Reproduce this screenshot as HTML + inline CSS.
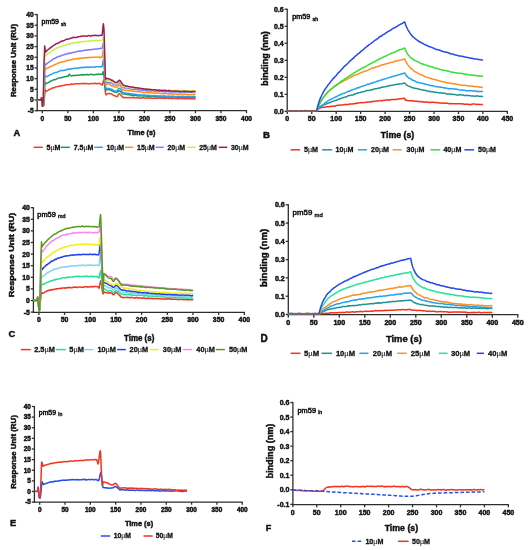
<!DOCTYPE html>
<html><head><meta charset="utf-8"><style>
html,body{margin:0;padding:0;background:#fff;}
svg{display:block;font-family:"Liberation Sans", sans-serif;filter:blur(0.3px);}
text{fill:#111;stroke:#111;stroke-width:0.45px;}
</style></head><body>
<svg width="529" height="550" viewBox="0 0 529 550">
<rect width="529" height="550" fill="#fff"/>
<line x1="37.20" y1="14.06" x2="37.20" y2="111.15" stroke="#2e2e2e" stroke-width="1.3"/>
<line x1="36.65" y1="110.60" x2="247.00" y2="110.60" stroke="#2e2e2e" stroke-width="1.3"/>
<line x1="34.60" y1="110.68" x2="37.20" y2="110.68" stroke="#2e2e2e" stroke-width="1.3"/>
<text x="33.70" y="113.06" font-size="6.6" font-weight="bold" text-anchor="end" >-5</text>
<line x1="34.60" y1="100.00" x2="37.20" y2="100.00" stroke="#2e2e2e" stroke-width="1.3"/>
<text x="33.70" y="102.38" font-size="6.6" font-weight="bold" text-anchor="end" >0</text>
<line x1="34.60" y1="89.32" x2="37.20" y2="89.32" stroke="#2e2e2e" stroke-width="1.3"/>
<text x="33.70" y="91.70" font-size="6.6" font-weight="bold" text-anchor="end" >5</text>
<line x1="34.60" y1="78.64" x2="37.20" y2="78.64" stroke="#2e2e2e" stroke-width="1.3"/>
<text x="33.70" y="81.02" font-size="6.6" font-weight="bold" text-anchor="end" >10</text>
<line x1="34.60" y1="67.96" x2="37.20" y2="67.96" stroke="#2e2e2e" stroke-width="1.3"/>
<text x="33.70" y="70.34" font-size="6.6" font-weight="bold" text-anchor="end" >15</text>
<line x1="34.60" y1="57.28" x2="37.20" y2="57.28" stroke="#2e2e2e" stroke-width="1.3"/>
<text x="33.70" y="59.66" font-size="6.6" font-weight="bold" text-anchor="end" >20</text>
<line x1="34.60" y1="46.60" x2="37.20" y2="46.60" stroke="#2e2e2e" stroke-width="1.3"/>
<text x="33.70" y="48.98" font-size="6.6" font-weight="bold" text-anchor="end" >25</text>
<line x1="34.60" y1="35.92" x2="37.20" y2="35.92" stroke="#2e2e2e" stroke-width="1.3"/>
<text x="33.70" y="38.30" font-size="6.6" font-weight="bold" text-anchor="end" >30</text>
<line x1="34.60" y1="25.24" x2="37.20" y2="25.24" stroke="#2e2e2e" stroke-width="1.3"/>
<text x="33.70" y="27.62" font-size="6.6" font-weight="bold" text-anchor="end" >35</text>
<line x1="34.60" y1="14.56" x2="37.20" y2="14.56" stroke="#2e2e2e" stroke-width="1.3"/>
<text x="33.70" y="16.94" font-size="6.6" font-weight="bold" text-anchor="end" >40</text>
<line x1="42.30" y1="110.60" x2="42.30" y2="113.20" stroke="#2e2e2e" stroke-width="1.3"/>
<text x="42.30" y="120.50" font-size="6.6" font-weight="bold" text-anchor="middle" >0</text>
<line x1="67.82" y1="110.60" x2="67.82" y2="113.20" stroke="#2e2e2e" stroke-width="1.3"/>
<text x="67.82" y="120.50" font-size="6.6" font-weight="bold" text-anchor="middle" >50</text>
<line x1="93.35" y1="110.60" x2="93.35" y2="113.20" stroke="#2e2e2e" stroke-width="1.3"/>
<text x="93.35" y="120.50" font-size="6.6" font-weight="bold" text-anchor="middle" >100</text>
<line x1="118.87" y1="110.60" x2="118.87" y2="113.20" stroke="#2e2e2e" stroke-width="1.3"/>
<text x="118.87" y="120.50" font-size="6.6" font-weight="bold" text-anchor="middle" >150</text>
<line x1="144.40" y1="110.60" x2="144.40" y2="113.20" stroke="#2e2e2e" stroke-width="1.3"/>
<text x="144.40" y="120.50" font-size="6.6" font-weight="bold" text-anchor="middle" >200</text>
<line x1="169.92" y1="110.60" x2="169.92" y2="113.20" stroke="#2e2e2e" stroke-width="1.3"/>
<text x="169.92" y="120.50" font-size="6.6" font-weight="bold" text-anchor="middle" >250</text>
<line x1="195.45" y1="110.60" x2="195.45" y2="113.20" stroke="#2e2e2e" stroke-width="1.3"/>
<text x="195.45" y="120.50" font-size="6.6" font-weight="bold" text-anchor="middle" >300</text>
<line x1="220.97" y1="110.60" x2="220.97" y2="113.20" stroke="#2e2e2e" stroke-width="1.3"/>
<text x="220.97" y="120.50" font-size="6.6" font-weight="bold" text-anchor="middle" >350</text>
<line x1="246.50" y1="110.60" x2="246.50" y2="113.20" stroke="#2e2e2e" stroke-width="1.3"/>
<text x="246.50" y="120.50" font-size="6.6" font-weight="bold" text-anchor="middle" >400</text>
<text x="0" y="0" font-size="7.4" font-weight="bold" text-anchor="middle" transform="translate(13.56,60.50) rotate(-90)" dy="2.66" textLength="73" lengthAdjust="spacingAndGlyphs">Response Unit (RU)</text>
<text x="127.60" y="135.10" font-size="7.9" font-weight="bold" text-anchor="start" textLength="27.9" lengthAdjust="spacingAndGlyphs">Time (s)</text>
<text x="13.60" y="136.00" font-size="9.3" font-weight="bold" text-anchor="start" >A</text>
<text x="41.60" y="24.00" font-size="6.9" font-weight="normal" text-anchor="start" style="stroke-width:0.5px">pm59<tspan font-size="4.7" dx="2.2" dy="1.6" style="stroke-width:0.4px">sh</tspan></text>
<polyline points="37.20,100.11 37.96,100.07 38.73,99.99 39.49,99.94 40.26,99.84 40.67,99.80 41.02,99.13 41.53,97.93 41.79,99.47 42.50,106.37 42.56,106.30 43.32,105.99 43.68,105.75 44.09,103.02 44.85,92.94 45.31,89.90 45.62,90.60 45.98,91.42 46.38,91.31 46.74,91.15 47.15,90.77 47.51,90.49 47.92,90.36 48.27,90.27 48.68,89.96 49.04,89.53 49.45,89.23 49.80,89.18 50.21,89.24 50.57,89.12 50.98,88.94 51.34,88.62 51.74,88.33 52.10,88.15 52.51,87.97 52.87,87.92 53.28,87.81 53.63,87.77 54.04,87.74 54.40,87.53 54.81,87.29 55.16,87.15 55.57,86.99 55.93,86.91 56.34,86.87 56.70,86.81 57.10,86.73 57.46,86.63 57.87,86.53 58.23,86.46 58.64,86.27 58.99,86.18 59.40,86.25 59.76,86.25 60.17,86.25 60.52,85.95 60.93,85.81 61.29,85.79 61.70,85.82 62.06,85.70 62.46,85.48 62.82,85.45 63.23,85.55 63.59,85.58 64.00,85.41 64.35,85.25 64.76,85.11 65.12,84.95 65.53,84.85 65.89,84.89 66.29,84.85 66.65,84.79 67.06,84.83 67.42,84.85 67.82,84.84 68.18,84.64 68.59,84.63 68.95,84.53 69.36,84.47 69.71,84.39 70.12,84.39 70.48,84.49 70.89,84.29 71.25,84.10 71.65,84.11 72.01,84.33 72.42,84.34 72.78,84.23 73.19,84.10 73.54,84.05 73.95,83.96 74.31,83.94 74.72,84.03 75.07,84.03 75.48,83.95 75.84,83.73 76.25,83.61 76.61,83.64 77.01,83.69 77.37,83.75 77.78,83.85 78.14,83.92 78.55,83.82 78.90,83.73 79.31,83.62 79.67,83.72 80.08,83.65 80.43,83.82 80.84,83.59 81.20,83.54 81.61,83.33 81.97,83.55 82.37,83.70 82.73,83.68 83.14,83.69 83.50,83.40 83.91,83.51 84.26,83.29 84.67,83.50 85.03,83.63 85.44,83.71 85.79,83.64 86.20,83.47 86.56,83.43 86.97,83.50 87.33,83.61 87.73,83.80 88.09,83.87 88.50,83.91 88.86,83.92 89.27,83.85 89.62,83.72 90.03,83.71 90.39,83.64 90.80,83.53 91.15,83.44 91.56,83.39 91.92,83.54 92.33,83.49 92.69,83.49 93.09,83.46 93.45,83.63 93.86,83.69 94.22,83.64 94.63,83.37 94.98,83.40 95.39,83.25 95.75,83.60 96.16,83.59 96.52,83.78 96.92,83.61 97.28,83.63 97.69,83.59 98.05,83.41 98.45,83.38 98.81,83.28 99.22,83.43 99.58,83.41 99.99,83.73 100.75,84.10 101.52,84.74 102.18,84.93 102.28,84.93 103.05,82.30 103.71,80.13 103.82,80.25 104.58,84.74 105.35,92.00 106.01,94.95 106.11,94.81 106.52,94.10 106.88,94.03 107.64,93.85 108.00,93.70 108.41,93.44 109.18,93.48 109.94,93.71 110.71,93.69 111.47,94.00 111.98,94.05 112.24,94.49 113.00,94.82 113.77,95.39 114.54,95.68 115.30,96.06 116.07,96.33 116.83,96.71 117.19,96.64 117.60,96.20 118.36,94.61 119.13,93.73 119.18,93.73 119.90,94.03 120.66,94.78 121.43,95.74 122.19,96.78 122.96,97.39 123.27,97.72 123.72,97.53 124.03,97.62 124.49,97.46 124.80,97.60 125.26,97.61 125.56,97.65 126.02,97.65 126.33,97.59 126.79,97.62 127.09,97.72 127.55,97.78 127.86,97.77 128.32,97.72 128.63,97.62 129.08,97.52 129.39,97.55 129.85,97.64 130.16,97.67 130.62,97.65 130.92,97.52 131.38,97.59 131.69,97.58 132.15,97.64 132.45,97.60 132.91,97.74 133.22,97.79 133.68,97.84 133.99,97.61 134.45,97.62 134.75,97.60 135.21,97.77 135.52,97.96 135.98,97.89 136.28,97.82 136.74,97.54 137.05,97.78 137.51,97.82 137.81,97.92 138.27,97.95 138.58,97.94 139.04,98.01 139.35,97.84 139.81,98.03 140.11,98.06 140.57,98.18 140.88,98.17 141.34,98.10 141.64,97.92 142.10,97.80 142.41,97.75 142.87,97.75 143.17,97.70 143.63,97.80 143.94,98.11 144.40,98.13 144.71,98.13 145.17,98.01 145.47,97.98 145.93,97.92 146.24,98.02 146.70,98.07 147.00,98.15 147.46,97.95 147.77,97.98 148.23,97.87 148.54,98.01 148.99,98.05 149.30,98.19 149.76,98.16 150.07,98.15 150.53,98.00 150.83,98.08 151.29,98.06 151.60,98.27 152.06,98.32 152.36,98.39 152.82,98.43 153.13,98.29 153.59,98.31 153.90,98.23 154.35,98.21 154.66,98.01 155.12,98.02 155.43,98.24 155.89,98.42 156.19,98.38 156.65,98.11 156.96,98.09 157.42,98.17 157.72,98.20 158.18,98.10 158.49,98.05 158.95,98.11 159.26,98.18 159.71,97.94 160.02,98.03 160.48,98.10 160.79,98.34 161.25,98.24 161.55,98.23 162.01,98.18 162.32,98.17 162.78,97.98 163.08,98.04 163.54,98.16 163.85,98.37 164.31,98.53 164.62,98.61 165.08,98.57 165.38,98.40 165.84,98.07 166.15,97.98 166.61,97.93 166.91,98.04 167.37,98.21 167.68,98.34 168.14,98.54 168.44,98.51 168.90,98.27 169.21,98.23 169.67,98.29 169.98,98.48 170.44,98.39 170.74,98.29 171.20,98.23 171.51,98.42 171.97,98.54 172.27,98.64 172.73,98.54 173.04,98.34 173.50,98.44 173.80,98.40 174.26,98.55 174.57,98.39 175.03,98.51 175.34,98.62 175.80,98.58 176.10,98.50 176.56,98.55 176.87,98.60 177.33,98.72 177.63,98.57 178.09,98.64 178.40,98.67 178.86,98.57 179.17,98.62 179.62,98.37 179.93,98.43 180.39,98.34 180.70,98.47 181.16,98.34 181.46,98.49 181.92,98.59 182.23,98.83 182.69,98.64 182.99,98.48 183.45,98.42 183.76,98.51 184.22,98.76 184.53,98.64 184.98,98.69 185.29,98.53 185.75,98.70 186.06,98.63 186.52,98.67 186.82,98.63 187.28,98.69 187.59,98.72 188.05,98.80 188.35,98.77 188.81,98.70 189.12,98.59 189.58,98.50 189.89,98.65 190.34,98.89 190.65,99.06 191.11,98.84 191.42,98.69 191.88,98.82 192.18,98.80 192.64,98.75 192.95,98.73 193.41,98.96 193.71,99.00 194.17,98.92 194.48,98.86 194.94,98.83 195.25,98.79 195.45,98.65" fill="none" stroke="#f0402a" stroke-width="1.5" stroke-linejoin="round"/>
<polyline points="37.20,99.81 37.96,99.96 38.73,100.12 39.49,100.02 40.26,100.00 40.67,99.89 41.02,99.32 41.53,97.82 41.79,99.32 42.50,106.00 42.56,106.15 43.32,105.75 43.53,105.56 44.09,99.16 44.85,84.81 45.21,82.23 45.62,83.24 45.87,83.79 46.38,83.64 46.64,83.47 47.15,83.16 47.40,83.05 47.92,82.87 48.17,82.71 48.68,82.37 48.94,82.30 49.45,81.99 49.70,81.68 50.21,81.32 50.47,81.27 50.98,81.08 51.23,80.88 51.74,80.61 52.00,80.49 52.51,80.24 52.77,80.13 53.28,80.04 53.53,80.01 54.04,79.77 54.30,79.50 54.81,79.46 55.06,79.45 55.57,79.45 55.83,79.40 56.34,79.17 56.59,78.96 57.10,78.71 57.36,78.52 57.87,78.34 58.13,78.14 58.64,78.08 58.89,78.00 59.40,78.04 59.66,77.95 60.17,77.85 60.42,77.82 60.93,77.72 61.19,77.74 61.70,77.39 61.95,77.40 62.46,77.27 62.72,77.25 63.23,77.18 63.49,77.07 64.00,77.01 64.25,76.84 64.76,76.84 65.02,76.68 65.53,76.58 65.78,76.50 66.29,76.46 66.55,76.35 67.06,76.09 67.31,76.25 67.82,76.22 68.08,76.28 68.59,75.38 68.85,75.05 69.36,74.14 69.61,74.60 70.12,75.25 70.38,75.50 70.89,75.78 71.14,75.90 71.65,76.08 71.91,75.88 72.42,75.66 72.67,75.33 73.19,75.46 73.44,75.62 73.95,75.68 74.21,75.36 74.72,75.22 74.97,75.32 75.48,75.39 75.74,75.41 76.25,75.32 76.50,75.39 77.01,75.31 77.27,75.24 77.78,75.15 78.03,75.18 78.55,75.29 78.80,75.30 79.31,75.14 79.57,75.03 80.08,75.08 80.33,75.05 80.84,74.96 81.10,74.62 81.61,74.71 81.86,74.78 82.37,75.07 82.63,74.95 83.14,74.65 83.40,74.58 83.91,74.73 84.16,74.90 84.67,74.88 84.93,74.83 85.44,74.90 85.69,74.79 86.20,74.65 86.46,74.61 86.97,74.53 87.22,74.65 87.73,74.61 87.99,74.88 88.50,74.95 88.76,74.90 89.27,74.75 89.52,74.56 90.03,74.57 90.29,74.39 90.80,74.36 91.05,74.31 91.56,74.43 91.82,74.56 92.33,74.70 92.58,74.73 93.09,74.76 93.35,74.74 93.86,74.70 94.12,74.57 94.63,74.54 94.88,74.70 95.39,74.73 95.65,74.67 96.16,74.40 96.41,74.33 96.92,74.41 97.18,74.57 97.69,74.43 97.94,74.31 98.45,74.07 98.71,74.06 99.22,74.20 99.48,74.33 99.99,74.47 100.24,74.35 100.75,74.33 101.01,74.36 101.52,74.36 102.03,74.47 102.28,74.11 103.05,71.87 103.15,71.66 103.82,74.53 104.58,81.76 105.35,88.55 105.86,90.23 106.11,90.07 106.37,89.90 106.88,89.76 107.64,89.61 108.00,89.63 108.41,89.58 109.18,89.68 109.94,89.80 110.71,90.24 111.47,90.50 112.24,90.98 113.00,91.29 113.77,91.74 114.54,92.02 115.30,92.16 116.07,92.35 116.68,92.43 116.83,92.52 117.60,91.91 118.36,91.14 119.13,90.80 119.18,90.92 119.90,91.28 120.66,91.63 121.43,92.56 122.19,93.16 122.96,93.82 123.27,93.93 123.72,94.03 124.03,94.04 124.49,93.94 124.80,94.00 125.26,94.07 125.56,94.15 126.02,94.21 126.33,94.36 126.79,94.38 127.09,94.54 127.55,94.52 127.86,94.67 128.32,94.74 128.63,94.82 129.08,94.69 129.39,94.54 129.85,94.68 130.16,94.81 130.62,94.99 130.92,94.99 131.38,95.10 131.69,95.30 132.15,95.32 132.45,95.46 132.91,95.36 133.22,95.55 133.68,95.64 133.99,95.69 134.45,95.53 134.75,95.27 135.21,95.24 135.52,95.24 135.98,95.46 136.28,95.65 136.74,95.78 137.05,95.74 137.51,95.65 137.81,95.66 138.27,95.69 138.58,95.75 139.04,95.95 139.35,96.04 139.81,96.02 140.11,95.94 140.57,95.86 140.88,95.71 141.34,95.75 141.64,95.80 142.10,95.90 142.41,95.82 142.87,95.82 143.17,95.96 143.63,95.98 143.94,95.91 144.40,95.83 144.71,95.97 145.17,96.13 145.47,96.10 145.93,96.04 146.24,96.16 146.70,96.16 147.00,96.32 147.46,96.25 147.77,96.41 148.23,96.42 148.54,96.37 148.99,96.36 149.30,96.38 149.76,96.45 150.07,96.54 150.53,96.62 150.83,96.75 151.29,96.71 151.60,96.49 152.06,96.43 152.36,96.47 152.82,96.50 153.13,96.54 153.59,96.46 153.90,96.50 154.35,96.47 154.66,96.54 155.12,96.66 155.43,96.76 155.89,96.69 156.19,96.58 156.65,96.55 156.96,96.67 157.42,96.76 157.72,96.71 158.18,96.82 158.49,96.76 158.95,96.94 159.26,96.77 159.71,96.85 160.02,96.86 160.48,97.01 160.79,97.01 161.25,96.86 161.55,96.95 162.01,96.90 162.32,96.59 162.78,96.61 163.08,96.63 163.54,96.99 163.85,96.87 164.31,97.07 164.62,97.15 165.08,97.14 165.38,96.98 165.84,96.74 166.15,96.85 166.61,96.84 166.91,96.73 167.37,96.75 167.68,96.85 168.14,97.12 168.44,97.06 168.90,96.91 169.21,96.90 169.67,96.98 169.98,97.04 170.44,96.82 170.74,96.64 171.20,96.92 171.51,97.17 171.97,97.37 172.27,97.07 172.73,97.08 173.04,96.83 173.50,96.81 173.80,96.72 174.26,96.88 174.57,96.97 175.03,97.03 175.34,96.93 175.80,96.89 176.10,96.95 176.56,96.96 176.87,96.99 177.33,96.97 177.63,97.16 178.09,97.24 178.40,97.29 178.86,97.47 179.17,97.33 179.62,97.23 179.93,97.00 180.39,97.00 180.70,97.02 181.16,96.97 181.46,97.29 181.92,97.35 182.23,97.34 182.69,96.98 182.99,96.80 183.45,96.72 183.76,96.97 184.22,97.34 184.53,97.41 184.98,97.31 185.29,97.03 185.75,97.10 186.06,97.08 186.52,97.31 186.82,97.26 187.28,97.32 187.59,97.15 188.05,97.16 188.35,97.13 188.81,97.13 189.12,97.18 189.58,97.10 189.89,97.09 190.34,97.14 190.65,97.26 191.11,97.15 191.42,97.11 191.88,96.97 192.18,97.10 192.64,97.14 192.95,97.30 193.41,97.33 193.71,97.25 194.17,97.13 194.48,97.26 194.94,97.34 195.25,97.40 195.45,97.15" fill="none" stroke="#1d9a55" stroke-width="1.5" stroke-linejoin="round"/>
<polyline points="37.20,99.77 37.96,99.72 38.73,99.90 39.49,100.02 40.26,100.28 40.67,100.18 41.02,99.25 41.53,97.79 41.79,99.16 42.50,106.32 42.56,106.31 43.32,105.86 43.37,105.46 44.09,93.81 44.85,76.43 45.11,74.85 45.62,76.68 45.77,76.99 46.38,76.67 46.54,76.66 47.15,76.39 47.30,76.32 47.92,76.00 48.07,75.93 48.68,75.62 48.83,75.42 49.45,75.23 49.60,75.02 50.21,74.85 50.37,74.68 50.98,74.60 51.13,74.48 51.74,74.19 51.90,73.98 52.51,73.76 52.66,73.66 53.28,73.27 53.43,73.12 54.04,72.94 54.19,72.96 54.81,72.78 54.96,72.62 55.57,72.43 55.73,72.40 56.34,72.42 56.49,72.45 57.10,72.17 57.26,71.98 57.87,71.71 58.02,71.63 58.64,71.46 58.79,71.34 59.40,71.10 59.55,70.91 60.17,70.75 60.32,70.75 60.93,70.49 61.09,70.53 61.70,70.47 61.85,70.58 62.46,70.53 62.62,70.63 63.23,70.62 63.38,70.47 64.00,70.15 64.15,70.18 64.76,70.25 64.92,70.28 65.53,70.04 65.68,69.84 66.29,69.63 66.45,69.47 67.06,69.33 67.21,69.31 67.82,69.40 67.98,69.50 68.59,69.43 68.74,69.24 69.36,68.97 69.51,68.91 70.12,68.80 70.28,68.77 70.89,68.89 71.04,69.00 71.65,68.94 71.81,68.71 72.42,68.69 72.57,68.61 73.19,68.62 73.34,68.48 73.95,68.48 74.10,68.35 74.72,68.39 74.87,68.30 75.48,68.29 75.64,68.21 76.25,68.26 76.40,68.44 77.01,68.36 77.17,68.31 77.78,68.11 77.93,68.06 78.55,68.03 78.70,67.95 79.31,67.77 79.46,67.74 80.08,67.71 80.23,67.74 80.84,67.50 81.00,67.49 81.61,67.44 81.76,67.76 82.37,67.56 82.53,67.53 83.14,67.22 83.29,67.34 83.91,67.45 84.06,67.47 84.67,67.36 84.82,67.33 85.44,67.50 85.59,67.52 86.20,67.42 86.36,67.04 86.97,67.10 87.12,67.12 87.73,67.33 87.89,67.41 88.50,67.41 88.65,67.24 89.27,67.07 89.42,67.04 90.03,67.27 90.18,67.20 90.80,67.05 90.95,66.91 91.56,66.96 91.72,66.99 92.33,66.95 92.48,66.97 93.09,66.91 93.25,67.13 93.86,67.16 94.01,67.24 94.63,67.03 94.78,67.01 95.39,66.93 95.55,66.82 96.16,66.66 96.31,66.66 96.92,66.66 97.08,66.66 97.69,66.76 97.84,66.85 98.45,66.75 98.61,66.74 99.22,66.70 99.37,66.85 99.99,66.81 100.14,66.90 100.75,66.84 100.91,66.73 101.01,66.60 101.52,66.75 102.03,66.81 102.28,66.27 103.05,61.21 103.56,59.24 103.82,60.20 104.58,71.39 105.35,84.74 105.86,88.58 106.11,88.46 106.37,88.38 106.88,88.52 107.64,88.68 108.00,88.43 108.41,88.33 109.18,88.52 109.94,88.99 110.71,89.06 111.47,89.22 112.24,89.53 113.00,90.08 113.77,90.45 114.54,90.70 115.30,90.86 116.07,91.02 116.68,91.10 116.83,91.04 117.60,90.17 118.36,88.90 119.13,88.23 119.18,88.26 119.90,88.51 120.66,89.43 121.43,90.58 122.19,91.94 122.96,92.80 123.27,92.76 123.72,92.81 124.03,92.71 124.49,92.96 124.80,92.87 125.26,92.94 125.56,93.03 126.02,93.18 126.33,93.28 126.79,93.28 127.09,93.31 127.55,93.42 127.86,93.42 128.32,93.37 128.63,93.34 129.08,93.54 129.39,93.67 129.85,93.78 130.16,93.71 130.62,93.65 130.92,93.71 131.38,93.82 131.69,94.10 132.15,94.17 132.45,94.26 132.91,94.10 133.22,94.08 133.68,94.14 133.99,94.14 134.45,94.34 134.75,94.25 135.21,94.38 135.52,94.25 135.98,94.40 136.28,94.53 136.74,94.66 137.05,94.60 137.51,94.85 137.81,94.89 138.27,94.99 138.58,94.86 139.04,95.02 139.35,95.09 139.81,95.15 140.11,94.94 140.57,94.83 140.88,94.78 141.34,95.07 141.64,95.24 142.10,95.36 142.41,95.15 142.87,95.02 143.17,94.93 143.63,94.84 143.94,94.88 144.40,94.88 144.71,95.16 145.17,95.31 145.47,95.51 145.93,95.37 146.24,95.38 146.70,95.16 147.00,95.24 147.46,95.46 147.77,95.54 148.23,95.51 148.54,95.20 148.99,95.37 149.30,95.56 149.76,95.72 150.07,95.75 150.53,95.81 150.83,95.93 151.29,95.63 151.60,95.58 152.06,95.60 152.36,95.89 152.82,95.86 153.13,95.67 153.59,95.56 153.90,95.51 154.35,95.64 154.66,95.72 155.12,95.87 155.43,96.02 155.89,95.87 156.19,95.87 156.65,95.66 156.96,95.89 157.42,95.87 157.72,95.99 158.18,96.10 158.49,96.11 158.95,96.08 159.26,95.89 159.71,95.86 160.02,95.81 160.48,95.88 160.79,95.93 161.25,96.21 161.55,96.30 162.01,96.17 162.32,95.99 162.78,95.89 163.08,96.06 163.54,96.14 163.85,96.04 164.31,96.00 164.62,95.81 165.08,95.96 165.38,96.03 165.84,96.38 166.15,96.42 166.61,96.55 166.91,96.55 167.37,96.46 167.68,96.26 168.14,96.02 168.44,96.13 168.90,96.21 169.21,96.24 169.67,96.24 169.98,96.23 170.44,96.21 170.74,96.45 171.20,96.39 171.51,96.52 171.97,96.23 172.27,96.21 172.73,96.24 173.04,96.25 173.50,96.30 173.80,96.29 174.26,96.42 174.57,96.49 175.03,96.63 175.34,96.63 175.80,96.64 176.10,96.48 176.56,96.59 176.87,96.65 177.33,96.48 177.63,96.22 178.09,96.21 178.40,96.42 178.86,96.55 179.17,96.54 179.62,96.53 179.93,96.57 180.39,96.52 180.70,96.38 181.16,96.57 181.46,96.54 181.92,96.62 182.23,96.30 182.69,96.40 182.99,96.37 183.45,96.33 183.76,96.60 184.22,96.50 184.53,96.64 184.98,96.54 185.29,96.92 185.75,96.92 186.06,96.85 186.52,96.52 186.82,96.53 187.28,96.46 187.59,96.46 188.05,96.47 188.35,96.39 188.81,96.41 189.12,96.40 189.58,96.40 189.89,96.41 190.34,96.56 190.65,96.66 191.11,96.75 191.42,96.66 191.88,96.78 192.18,96.82 192.64,96.76 192.95,96.60 193.41,96.42 193.71,96.51 194.17,96.57 194.48,96.76 194.94,96.73 195.25,96.75 195.45,96.87" fill="none" stroke="#2aa0f0" stroke-width="1.5" stroke-linejoin="round"/>
<polyline points="37.20,100.18 37.96,99.79 38.73,99.84 39.49,99.68 40.26,99.80 40.67,99.88 41.02,99.20 41.53,97.82 41.79,99.23 42.50,106.21 42.56,106.18 43.22,105.45 43.32,104.98 44.09,87.23 44.85,68.96 45.01,68.00 45.62,69.26 45.67,69.00 46.38,68.69 46.44,68.46 47.15,68.03 47.20,68.01 47.92,67.65 47.97,67.85 48.68,67.37 48.73,67.61 49.45,67.12 49.50,67.11 50.21,66.59 50.26,66.62 50.98,66.44 51.03,66.46 51.74,65.99 51.80,65.81 52.51,65.47 52.56,65.65 53.28,65.35 53.33,65.43 54.04,65.05 54.09,65.15 54.81,64.65 54.86,64.56 55.57,64.16 55.62,64.18 56.34,63.97 56.39,63.95 57.10,63.57 57.16,63.49 57.87,63.21 57.92,63.33 58.64,62.97 58.69,62.95 59.40,62.61 59.45,62.65 60.17,62.32 60.22,62.41 60.93,62.24 60.98,62.42 61.70,62.11 61.75,62.12 62.46,61.90 62.52,61.88 63.23,61.50 63.28,61.38 64.00,61.48 64.05,61.65 64.76,61.60 64.81,61.46 65.53,61.22 65.58,60.94 66.29,60.68 66.34,60.69 67.06,60.62 67.11,60.57 67.82,60.32 67.88,60.43 68.59,60.27 68.64,60.23 69.36,60.19 69.41,60.32 70.12,60.11 70.17,59.85 70.89,59.60 70.94,59.78 71.65,59.73 71.70,59.78 72.42,59.59 72.47,59.41 73.19,59.17 73.24,59.02 73.95,59.06 74.00,59.03 74.72,58.90 74.77,58.99 75.48,58.94 75.53,59.07 76.25,58.81 76.30,58.64 77.01,58.46 77.07,58.61 77.78,58.67 77.83,58.81 78.55,58.66 78.60,58.45 79.31,58.37 79.36,58.26 80.08,58.43 80.13,58.25 80.84,58.16 80.89,58.07 81.61,58.08 81.66,58.01 82.37,58.03 82.43,58.08 83.14,58.22 83.19,58.01 83.91,57.90 83.96,57.89 84.67,57.99 84.72,57.74 85.44,57.60 85.49,57.48 86.20,57.61 86.25,57.60 86.97,57.69 87.02,57.75 87.73,57.74 87.79,57.87 88.50,57.57 88.55,57.45 89.27,57.20 89.32,57.45 90.03,57.57 90.08,57.49 90.80,57.46 90.85,57.34 91.56,57.52 91.61,57.47 92.33,57.31 92.38,57.21 93.09,57.15 93.15,57.32 93.86,57.18 93.91,57.15 94.63,57.13 94.68,57.28 95.39,57.34 95.44,57.34 96.16,57.33 96.21,57.32 96.92,57.28 96.97,57.30 97.69,57.34 97.74,57.12 98.45,56.96 98.51,56.95 99.22,56.98 99.27,57.10 99.99,57.33 100.04,57.73 100.75,57.83 100.80,57.58 101.01,57.32 101.52,57.38 102.03,57.29 102.28,56.82 103.05,51.21 103.41,50.06 103.82,53.10 104.58,69.28 105.35,83.68 105.60,85.13 106.11,84.84 106.37,84.61 106.88,84.24 107.64,83.82 108.00,83.78 108.41,83.83 109.18,84.15 109.94,84.60 110.71,85.22 111.47,85.98 111.98,86.10 112.24,86.03 113.00,86.07 113.77,86.54 114.54,86.87 115.30,87.02 116.07,87.12 116.68,87.30 116.83,87.48 117.60,86.56 118.36,85.33 119.13,84.83 119.18,85.16 119.90,85.59 120.66,86.38 121.43,87.58 122.19,88.87 122.96,89.95 123.27,90.10 123.72,90.12 124.03,90.09 124.49,90.17 124.80,90.27 125.26,90.12 125.56,90.35 126.02,90.33 126.33,90.62 126.79,90.41 127.09,90.48 127.55,90.41 127.86,90.47 128.32,90.49 128.63,90.47 129.08,90.70 129.39,90.67 129.85,90.83 130.16,90.71 130.62,90.71 130.92,90.63 131.38,90.54 131.69,90.91 132.15,91.15 132.45,91.28 132.91,91.23 133.22,91.19 133.68,91.18 133.99,91.03 134.45,91.15 134.75,91.30 135.21,91.36 135.52,91.30 135.98,91.40 136.28,91.48 136.74,91.67 137.05,91.68 137.51,91.82 137.81,91.68 138.27,91.70 138.58,91.72 139.04,91.75 139.35,91.78 139.81,91.75 140.11,91.77 140.57,91.87 140.88,91.92 141.34,92.02 141.64,92.03 142.10,91.94 142.41,92.18 142.87,92.25 143.17,92.56 143.63,92.43 143.94,92.41 144.40,92.27 144.71,92.16 145.17,92.19 145.47,92.47 145.93,92.69 146.24,92.61 146.70,92.26 147.00,92.17 147.46,92.49 147.77,92.46 148.23,92.69 148.54,92.55 148.99,92.78 149.30,92.60 149.76,92.76 150.07,92.82 150.53,92.78 150.83,92.74 151.29,92.86 151.60,92.98 152.06,92.96 152.36,92.87 152.82,92.97 153.13,92.95 153.59,92.98 153.90,93.03 154.35,93.09 154.66,93.10 155.12,93.02 155.43,93.21 155.89,93.30 156.19,93.29 156.65,93.08 156.96,93.00 157.42,93.06 157.72,93.09 158.18,93.06 158.49,92.93 158.95,92.98 159.26,93.14 159.71,93.28 160.02,93.51 160.48,93.48 160.79,93.58 161.25,93.43 161.55,93.41 162.01,93.38 162.32,93.53 162.78,93.63 163.08,93.72 163.54,93.62 163.85,93.57 164.31,93.60 164.62,93.55 165.08,93.49 165.38,93.44 165.84,93.46 166.15,93.73 166.61,93.77 166.91,93.77 167.37,93.81 167.68,93.83 168.14,94.01 168.44,93.77 168.90,93.64 169.21,93.63 169.67,93.74 169.98,94.09 170.44,93.98 170.74,93.97 171.20,93.64 171.51,93.94 171.97,93.96 172.27,94.12 172.73,94.16 173.04,94.27 173.50,94.26 173.80,93.97 174.26,93.91 174.57,93.96 175.03,94.01 175.34,94.05 175.80,94.08 176.10,94.22 176.56,94.21 176.87,94.15 177.33,93.91 177.63,93.98 178.09,93.86 178.40,94.01 178.86,93.88 179.17,94.11 179.62,94.24 179.93,94.38 180.39,94.24 180.70,94.15 181.16,94.07 181.46,94.13 181.92,94.07 182.23,94.13 182.69,94.22 182.99,94.28 183.45,94.30 183.76,94.11 184.22,94.18 184.53,94.19 184.98,94.39 185.29,94.28 185.75,94.22 186.06,94.15 186.52,94.38 186.82,94.60 187.28,94.65 187.59,94.48 188.05,94.22 188.35,94.42 188.81,94.51 189.12,94.80 189.58,94.74 189.89,94.75 190.34,94.53 190.65,94.49 191.11,94.55 191.42,94.67 191.88,94.53 192.18,94.25 192.64,94.37 192.95,94.52 193.41,94.78 193.71,94.55 194.17,94.50 194.48,94.33 194.94,94.53 195.25,94.58 195.45,94.76" fill="none" stroke="#ff8f1f" stroke-width="1.5" stroke-linejoin="round"/>
<polyline points="37.20,100.49 37.96,100.44 38.73,100.18 39.49,99.92 40.26,99.84 40.67,99.86 41.02,99.15 41.53,97.61 41.79,99.21 42.50,106.00 42.56,105.99 43.12,105.28 43.32,103.50 44.09,81.39 44.85,63.37 44.90,63.47 45.57,65.20 45.62,65.08 46.33,64.17 46.38,64.09 47.10,63.58 47.15,63.52 47.86,62.89 47.92,62.83 48.63,62.45 48.68,62.37 49.40,61.94 49.45,61.69 50.16,61.23 50.21,61.22 50.93,60.81 50.98,60.87 51.69,60.22 51.74,60.18 52.46,59.57 52.51,59.73 53.22,59.16 53.28,59.24 53.99,58.61 54.04,58.65 54.76,58.34 54.81,58.41 55.52,58.17 55.57,58.00 56.29,57.55 56.34,57.42 57.05,57.03 57.10,57.24 57.82,56.96 57.87,57.00 58.58,56.49 58.64,56.54 59.35,56.23 59.40,56.27 60.12,56.07 60.17,56.20 60.88,55.93 60.93,55.88 61.65,55.64 61.70,55.58 62.41,55.20 62.46,55.09 63.18,54.93 63.23,54.97 63.95,54.77 64.00,54.81 64.71,54.52 64.76,54.33 65.48,54.12 65.53,54.15 66.24,54.08 66.29,54.14 67.01,53.92 67.06,53.81 67.77,53.58 67.82,53.52 68.54,53.46 68.59,53.27 69.31,53.06 69.36,53.03 70.07,53.15 70.12,53.27 70.84,53.20 70.89,53.13 71.60,52.96 71.65,52.70 72.37,52.44 72.42,52.43 73.13,52.57 73.19,52.60 73.90,52.56 73.95,52.34 74.67,52.19 74.72,52.06 75.43,51.98 75.48,51.94 76.20,51.71 76.25,51.66 76.96,51.54 77.01,51.61 77.73,51.47 77.78,51.31 78.49,51.19 78.55,51.11 79.26,51.16 79.31,51.19 80.03,51.34 80.08,51.20 80.79,51.16 80.84,51.11 81.56,51.00 81.61,50.95 82.32,50.81 82.37,50.79 83.09,50.66 83.14,50.50 83.85,50.52 83.91,50.43 84.62,50.31 84.67,50.26 85.39,50.07 85.44,50.19 86.15,50.12 86.20,50.27 86.92,50.05 86.97,50.05 87.68,50.00 87.73,50.06 88.45,49.83 88.50,49.82 89.21,49.86 89.27,49.98 89.98,49.80 90.03,49.73 90.75,49.61 90.80,49.83 91.51,49.69 91.56,49.69 92.28,49.38 92.33,49.35 93.04,49.20 93.09,49.34 93.81,49.23 93.86,49.44 94.58,49.32 94.63,49.27 95.34,48.97 95.39,49.07 96.11,49.04 96.16,49.15 96.87,48.97 96.92,49.00 97.64,48.87 97.69,48.67 98.40,48.74 98.45,48.78 99.17,48.84 99.22,48.87 99.94,48.65 99.99,48.47 100.70,48.29 100.75,48.35 101.01,48.51 101.52,48.46 102.03,48.58 102.28,47.96 103.05,43.81 103.41,42.66 103.82,46.32 104.58,64.32 105.35,80.90 105.60,82.42 106.11,82.60 106.37,82.41 106.88,82.36 107.64,82.33 108.00,82.44 108.41,82.66 109.18,82.67 109.94,82.65 110.71,82.67 111.47,83.03 112.24,83.59 113.00,84.09 113.77,84.57 114.54,84.93 115.30,85.04 116.07,85.08 116.68,84.95 116.83,85.04 117.60,84.14 118.36,82.90 119.13,82.31 119.18,82.46 119.90,83.02 120.66,83.84 121.43,85.01 122.19,86.23 122.96,87.01 123.27,87.28 123.72,87.47 124.03,87.92 124.49,88.03 124.80,87.95 125.26,87.91 125.56,87.92 126.02,87.93 126.33,87.94 126.79,87.99 127.09,88.00 127.55,88.03 127.86,88.22 128.32,88.41 128.63,88.45 129.08,88.29 129.39,88.42 129.85,88.68 130.16,88.89 130.62,88.90 130.92,88.84 131.38,88.89 131.69,88.93 132.15,88.86 132.45,89.03 132.91,89.18 133.22,89.34 133.68,89.37 133.99,89.24 134.45,89.24 134.75,89.24 135.21,89.28 135.52,89.32 135.98,89.29 136.28,89.39 136.74,89.50 137.05,89.64 137.51,89.77 137.81,89.89 138.27,89.96 138.58,89.92 139.04,89.84 139.35,89.93 139.81,89.84 140.11,89.99 140.57,89.90 140.88,90.08 141.34,89.91 141.64,90.08 142.10,90.18 142.41,90.35 142.87,90.21 143.17,90.20 143.63,90.19 143.94,90.27 144.40,90.17 144.71,90.17 145.17,90.18 145.47,90.46 145.93,90.49 146.24,90.71 146.70,90.58 147.00,90.65 147.46,90.65 147.77,90.86 148.23,90.91 148.54,90.84 148.99,90.82 149.30,90.87 149.76,90.94 150.07,90.95 150.53,90.97 150.83,90.94 151.29,90.80 151.60,90.75 152.06,90.85 152.36,90.84 152.82,90.82 153.13,90.81 153.59,90.89 153.90,91.06 154.35,91.13 154.66,91.30 155.12,91.13 155.43,91.07 155.89,91.00 156.19,91.15 156.65,91.22 156.96,91.22 157.42,91.19 157.72,90.99 158.18,91.13 158.49,91.07 158.95,91.21 159.26,91.30 159.71,91.37 160.02,91.30 160.48,91.06 160.79,91.14 161.25,91.29 161.55,91.58 162.01,91.59 162.32,91.60 162.78,91.52 163.08,91.55 163.54,91.64 163.85,91.37 164.31,91.51 164.62,91.54 165.08,91.96 165.38,91.90 165.84,91.82 166.15,91.64 166.61,91.68 166.91,91.62 167.37,91.62 167.68,91.47 168.14,91.57 168.44,91.76 168.90,91.89 169.21,91.98 169.67,91.77 169.98,91.82 170.44,91.76 170.74,91.85 171.20,91.94 171.51,91.97 171.97,91.90 172.27,91.82 172.73,91.81 173.04,91.89 173.50,91.91 173.80,91.93 174.26,91.92 174.57,91.90 175.03,91.88 175.34,91.94 175.80,92.01 176.10,92.13 176.56,91.95 176.87,91.74 177.33,91.65 177.63,91.75 178.09,91.78 178.40,91.69 178.86,91.82 179.17,92.05 179.62,92.26 179.93,92.25 180.39,92.01 180.70,91.77 181.16,91.77 181.46,91.93 181.92,91.97 182.23,91.77 182.69,91.83 182.99,91.90 183.45,92.08 183.76,92.03 184.22,92.11 184.53,92.15 184.98,92.13 185.29,92.25 185.75,92.22 186.06,92.16 186.52,91.96 186.82,91.89 187.28,91.94 187.59,91.99 188.05,91.89 188.35,91.94 188.81,91.95 189.12,92.02 189.58,92.00 189.89,92.14 190.34,92.30 190.65,92.35 191.11,92.25 191.42,92.25 191.88,92.13 192.18,92.05 192.64,91.97 192.95,92.10 193.41,92.08 193.71,92.04 194.17,91.81 194.48,91.96 194.94,92.06 195.25,92.13 195.45,92.18" fill="none" stroke="#7f7dff" stroke-width="1.5" stroke-linejoin="round"/>
<polyline points="37.20,100.10 37.96,99.96 38.73,99.93 39.49,100.01 40.26,99.97 40.67,100.09 41.02,98.99 41.53,97.66 41.79,99.09 42.50,106.16 42.56,106.20 43.01,105.49 43.32,100.88 44.09,71.23 44.80,53.11 44.85,53.22 45.47,55.60 45.62,55.84 46.23,55.40 46.38,55.23 47.00,54.52 47.15,54.12 47.76,53.70 47.92,53.63 48.53,53.36 48.68,53.22 49.29,52.98 49.45,52.73 50.06,52.32 50.21,52.02 50.83,51.62 50.98,51.43 51.59,51.14 51.74,50.95 52.36,50.53 52.51,50.27 53.12,50.10 53.28,50.22 53.89,50.06 54.04,49.94 54.65,49.44 54.81,49.28 55.42,48.77 55.57,48.68 56.19,48.22 56.34,48.23 56.95,48.06 57.10,47.99 57.72,47.74 57.87,47.69 58.48,47.45 58.64,47.33 59.25,46.87 59.40,46.77 60.01,46.75 60.17,46.80 60.78,46.70 60.93,46.51 61.55,46.25 61.70,46.05 62.31,45.77 62.46,45.80 63.08,45.61 63.23,45.48 63.84,45.18 64.00,45.35 64.61,45.36 64.76,45.36 65.37,45.18 65.53,45.09 66.14,45.02 66.29,44.76 66.91,44.51 67.06,44.37 67.67,44.39 67.82,44.38 68.44,44.28 68.59,44.19 69.20,43.97 69.36,43.94 69.97,43.86 70.12,43.86 70.73,43.49 70.89,43.19 71.50,43.06 71.65,43.00 72.27,43.05 72.42,42.90 73.03,42.78 73.19,42.75 73.80,42.79 73.95,43.07 74.56,43.02 74.72,42.98 75.33,42.86 75.48,42.72 76.10,42.63 76.25,42.49 76.86,42.32 77.01,42.17 77.63,42.07 77.78,42.04 78.39,41.99 78.55,42.03 79.16,42.09 79.31,42.42 79.92,42.26 80.08,42.08 80.69,41.75 80.84,41.58 81.46,41.46 81.61,41.41 82.22,41.52 82.37,41.72 82.99,41.72 83.14,41.65 83.75,41.51 83.91,41.53 84.52,41.55 84.67,41.46 85.28,41.52 85.44,41.50 86.05,41.50 86.20,41.27 86.82,41.12 86.97,41.13 87.58,41.19 87.73,41.35 88.35,41.17 88.50,41.05 89.11,40.88 89.27,41.04 89.88,41.14 90.03,41.04 90.64,40.93 90.80,40.78 91.41,40.67 91.56,40.80 92.18,40.87 92.33,40.99 92.94,40.75 93.09,40.76 93.71,40.76 93.86,40.86 94.47,40.78 94.63,40.73 95.24,40.62 95.39,40.46 96.00,40.40 96.16,40.27 96.77,40.42 96.92,40.43 97.54,40.66 97.69,40.73 98.30,40.86 98.45,40.66 99.07,40.46 99.22,40.48 99.83,40.39 99.99,40.32 100.60,40.16 100.75,40.29 101.01,40.37 101.52,40.42 102.03,40.09 102.28,39.86 103.05,37.89 103.41,37.72 103.82,41.62 104.58,61.39 105.35,78.86 105.60,80.51 106.11,80.37 106.37,80.41 106.88,80.23 107.64,80.23 108.00,80.24 108.41,80.31 109.18,80.48 109.94,80.70 110.71,81.03 111.47,81.33 112.24,81.77 113.00,82.19 113.77,82.72 114.54,83.17 115.30,83.77 116.07,83.93 116.68,83.87 116.83,83.74 117.60,82.82 118.36,81.65 119.13,80.87 119.18,81.14 119.90,81.59 120.66,82.67 121.43,84.07 122.19,85.37 122.96,86.29 123.27,86.42 123.72,86.47 124.03,86.31 124.49,86.17 124.80,86.35 125.26,86.64 125.56,86.66 126.02,86.74 126.33,86.73 126.79,86.91 127.09,86.87 127.55,86.82 127.86,87.01 128.32,87.00 128.63,87.17 129.08,87.11 129.39,87.41 129.85,87.48 130.16,87.55 130.62,87.73 130.92,87.93 131.38,88.06 131.69,87.93 132.15,87.92 132.45,87.93 132.91,87.76 133.22,87.65 133.68,87.64 133.99,87.69 134.45,87.66 134.75,87.64 135.21,87.94 135.52,88.14 135.98,88.10 136.28,88.11 136.74,88.20 137.05,88.28 137.51,88.13 137.81,88.09 138.27,88.19 138.58,88.34 139.04,88.51 139.35,88.49 139.81,88.44 140.11,88.46 140.57,88.66 140.88,88.66 141.34,88.57 141.64,88.60 142.10,88.91 142.41,89.02 142.87,88.92 143.17,88.71 143.63,88.68 143.94,88.92 144.40,89.04 144.71,89.18 145.17,89.14 145.47,88.94 145.93,88.94 146.24,88.87 146.70,89.17 147.00,89.13 147.46,89.09 147.77,89.11 148.23,89.21 148.54,89.37 148.99,89.47 149.30,89.51 149.76,89.47 150.07,89.39 150.53,89.43 150.83,89.65 151.29,89.65 151.60,89.63 152.06,89.36 152.36,89.46 152.82,89.63 153.13,89.96 153.59,89.99 153.90,89.89 154.35,89.72 154.66,89.82 155.12,89.89 155.43,89.84 155.89,89.72 156.19,89.72 156.65,89.86 156.96,90.03 157.42,90.15 157.72,90.18 158.18,89.95 158.49,89.73 158.95,89.72 159.26,89.79 159.71,89.88 160.02,89.77 160.48,89.91 160.79,89.94 161.25,89.98 161.55,90.04 162.01,90.09 162.32,90.17 162.78,90.03 163.08,89.99 163.54,89.98 163.85,89.94 164.31,89.88 164.62,89.91 165.08,89.82 165.38,90.00 165.84,90.07 166.15,90.24 166.61,90.29 166.91,90.41 167.37,90.58 167.68,90.41 168.14,90.35 168.44,90.37 168.90,90.32 169.21,90.23 169.67,90.11 169.98,90.38 170.44,90.40 170.74,90.47 171.20,90.38 171.51,90.42 171.97,90.40 172.27,90.42 172.73,90.51 173.04,90.53 173.50,90.64 173.80,90.53 174.26,90.44 174.57,90.31 175.03,90.53 175.34,90.44 175.80,90.55 176.10,90.39 176.56,90.56 176.87,90.55 177.33,90.44 177.63,90.43 178.09,90.41 178.40,90.45 178.86,90.35 179.17,90.47 179.62,90.68 179.93,90.97 180.39,91.06 180.70,90.93 181.16,90.76 181.46,90.60 181.92,90.60 182.23,90.59 182.69,90.49 182.99,90.37 183.45,90.48 183.76,90.46 184.22,90.52 184.53,90.53 184.98,90.65 185.29,90.79 185.75,90.88 186.06,90.90 186.52,91.01 186.82,90.86 187.28,90.96 187.59,90.85 188.05,90.79 188.35,90.69 188.81,90.74 189.12,90.80 189.58,90.75 189.89,90.60 190.34,90.70 190.65,90.66 191.11,90.77 191.42,90.75 191.88,90.75 192.18,90.69 192.64,90.58 192.95,90.68 193.41,90.90 193.71,90.92 194.17,90.89 194.48,90.74 194.94,90.64 195.25,90.68 195.45,90.52" fill="none" stroke="#c4f24e" stroke-width="1.5" stroke-linejoin="round"/>
<polyline points="37.20,99.76 37.96,99.65 38.73,99.78 39.49,99.82 40.26,100.02 40.67,100.11 41.02,99.44 41.53,98.04 41.79,99.42 42.50,106.28 42.56,106.18 42.91,105.42 43.32,96.82 44.09,61.69 44.70,45.89 44.85,46.94 45.36,52.19 45.62,52.18 46.13,51.41 46.38,51.27 46.89,50.66 47.15,50.43 47.66,50.01 47.92,49.72 48.43,49.43 48.68,49.12 49.19,48.94 49.45,48.52 49.96,48.24 50.21,47.86 50.72,47.45 50.98,47.41 51.49,47.10 51.74,47.00 52.25,46.37 52.51,46.05 53.02,45.70 53.28,45.57 53.79,45.35 54.04,45.22 54.55,44.95 54.81,44.71 55.32,44.42 55.57,44.21 56.08,43.86 56.34,43.63 56.85,43.44 57.10,43.45 57.61,43.22 57.87,43.12 58.38,43.01 58.64,43.04 59.15,42.68 59.40,42.41 59.91,42.11 60.17,41.98 60.68,41.82 60.93,41.47 61.44,41.32 61.70,41.14 62.21,40.95 62.46,40.94 62.98,40.76 63.23,40.85 63.74,40.64 64.00,40.53 64.51,40.28 64.76,40.09 65.27,39.88 65.53,39.75 66.04,39.43 66.29,39.20 66.80,39.31 67.06,39.28 67.57,39.19 67.82,38.89 68.34,38.95 68.59,38.98 69.10,38.89 69.36,38.86 69.87,38.57 70.12,38.40 70.63,38.15 70.89,38.28 71.40,38.11 71.65,37.99 72.16,37.69 72.42,37.79 72.93,37.52 73.19,37.57 73.70,37.25 73.95,37.59 74.46,37.45 74.72,37.56 75.23,37.51 75.48,37.55 75.99,37.57 76.25,37.43 76.76,37.35 77.01,37.30 77.52,37.06 77.78,36.91 78.29,36.70 78.55,36.77 79.06,36.78 79.31,36.61 79.82,36.50 80.08,36.42 80.59,36.56 80.84,36.45 81.35,36.30 81.61,36.15 82.12,36.10 82.37,36.09 82.88,36.12 83.14,36.08 83.65,36.18 83.91,36.12 84.42,36.05 84.67,36.03 85.18,35.93 85.44,35.95 85.95,35.93 86.20,36.13 86.71,36.27 86.97,36.24 87.48,36.02 87.73,35.83 88.24,35.59 88.50,35.40 89.01,35.44 89.27,35.72 89.78,36.03 90.03,36.15 90.54,36.01 90.80,35.91 91.31,35.59 91.56,35.66 92.07,35.61 92.33,35.74 92.84,35.60 93.09,35.62 93.61,35.39 93.86,35.39 94.37,35.33 94.63,35.45 95.14,35.40 95.39,35.24 95.90,35.40 96.16,35.44 96.67,35.64 96.92,35.53 97.43,35.43 97.69,35.44 98.20,35.61 98.45,35.68 98.97,35.72 99.22,35.49 99.73,35.48 99.99,35.19 100.50,35.21 100.75,35.30 101.01,35.46 101.52,35.43 102.03,35.36 102.28,34.33 103.05,25.72 103.41,23.81 103.82,27.58 104.07,31.66 104.58,49.04 105.35,78.19 105.50,79.49 106.11,78.68 106.37,78.31 106.88,78.42 107.64,78.43 108.00,78.72 108.41,78.82 109.18,79.10 109.94,79.20 110.71,79.67 111.47,80.18 111.98,80.38 112.24,80.22 113.00,80.75 113.77,81.37 114.54,82.02 115.30,82.29 116.07,82.51 116.68,82.52 116.83,82.44 117.60,81.87 118.36,80.86 119.13,80.39 119.18,80.25 119.90,80.48 120.66,81.33 121.43,82.48 122.19,83.80 122.96,84.70 123.27,84.99 123.72,85.29 124.03,85.46 124.49,85.60 124.80,85.54 125.26,85.58 125.56,85.78 126.02,86.05 126.33,86.27 126.79,86.12 127.09,86.09 127.55,86.01 127.86,86.24 128.32,86.34 128.63,86.50 129.08,86.62 129.39,86.66 129.85,86.65 130.16,86.79 130.62,86.88 130.92,87.03 131.38,87.04 131.69,87.04 132.15,86.95 132.45,87.08 132.91,87.21 133.22,87.31 133.68,87.19 133.99,87.40 134.45,87.52 134.75,87.68 135.21,87.65 135.52,87.68 135.98,87.80 136.28,87.79 136.74,87.85 137.05,87.86 137.51,88.04 137.81,87.97 138.27,88.07 138.58,87.90 139.04,88.22 139.35,88.16 139.81,88.38 140.11,88.35 140.57,88.41 140.88,88.50 141.34,88.59 141.64,88.56 142.10,88.59 142.41,88.82 142.87,88.93 143.17,88.97 143.63,88.80 143.94,88.89 144.40,88.94 144.71,89.03 145.17,89.02 145.47,88.96 145.93,89.10 146.24,89.29 146.70,89.48 147.00,89.29 147.46,89.20 147.77,89.21 148.23,89.38 148.54,89.31 148.99,89.38 149.30,89.42 149.76,89.52 150.07,89.38 150.53,89.33 150.83,89.50 151.29,89.61 151.60,89.91 152.06,89.91 152.36,89.99 152.82,89.87 153.13,89.76 153.59,89.76 153.90,89.75 154.35,89.83 154.66,89.68 155.12,89.77 155.43,89.79 155.89,90.02 156.19,90.11 156.65,90.26 156.96,90.22 157.42,90.14 157.72,90.15 158.18,90.21 158.49,90.24 158.95,90.26 159.26,90.37 159.71,90.32 160.02,90.52 160.48,90.45 160.79,90.59 161.25,90.34 161.55,90.48 162.01,90.65 162.32,90.70 162.78,90.53 163.08,90.51 163.54,90.54 163.85,90.62 164.31,90.58 164.62,90.57 165.08,90.70 165.38,90.54 165.84,90.52 166.15,90.49 166.61,90.64 166.91,90.75 167.37,90.91 167.68,90.96 168.14,90.99 168.44,90.63 168.90,90.49 169.21,90.48 169.67,90.78 169.98,90.87 170.44,90.91 170.74,90.97 171.20,91.04 171.51,91.19 171.97,91.13 172.27,91.42 172.73,91.19 173.04,91.20 173.50,91.03 173.80,91.23 174.26,91.35 174.57,91.28 175.03,91.12 175.34,90.96 175.80,91.00 176.10,91.14 176.56,91.18 176.87,91.19 177.33,91.25 177.63,91.27 178.09,91.23 178.40,91.23 178.86,91.23 179.17,91.37 179.62,91.50 179.93,91.71 180.39,91.58 180.70,91.50 181.16,91.35 181.46,91.46 181.92,91.44 182.23,91.43 182.69,91.51 182.99,91.54 183.45,91.44 183.76,91.15 184.22,91.09 184.53,91.21 184.98,91.45 185.29,91.57 185.75,91.53 186.06,91.37 186.52,91.25 186.82,91.28 187.28,91.46 187.59,91.41 188.05,91.44 188.35,91.44 188.81,91.46 189.12,91.57 189.58,91.61 189.89,91.70 190.34,91.73 190.65,91.74 191.11,91.71 191.42,91.61 191.88,91.57 192.18,91.57 192.64,91.59 192.95,91.48 193.41,91.47 193.71,91.42 194.17,91.60 194.48,91.60 194.94,91.68 195.25,91.54 195.45,91.62" fill="none" stroke="#9c1d55" stroke-width="1.5" stroke-linejoin="round"/>
<line x1="33.6" y1="147.3" x2="42.8" y2="147.3" stroke="#f0402a" stroke-width="1.5"/>
<text x="46.60" y="149.82" font-size="7.0" font-weight="bold" text-anchor="start" style="stroke-width:0.3px">5<tspan font-weight="normal" style="stroke-width:0.1px">µ</tspan>M</text>
<line x1="60.6" y1="147.3" x2="69.8" y2="147.3" stroke="#1d9a55" stroke-width="1.5"/>
<text x="73.70" y="149.82" font-size="7.0" font-weight="bold" text-anchor="start" style="stroke-width:0.3px">7.5<tspan font-weight="normal" style="stroke-width:0.1px">µ</tspan>M</text>
<line x1="94.3" y1="147.3" x2="102.9" y2="147.3" stroke="#2aa0f0" stroke-width="1.5"/>
<text x="106.40" y="149.82" font-size="7.0" font-weight="bold" text-anchor="start" style="stroke-width:0.3px">10<tspan font-weight="normal" style="stroke-width:0.1px">µ</tspan>M</text>
<line x1="125.0" y1="147.3" x2="133.3" y2="147.3" stroke="#ff8f1f" stroke-width="1.5"/>
<text x="137.00" y="149.82" font-size="7.0" font-weight="bold" text-anchor="start" style="stroke-width:0.3px">15<tspan font-weight="normal" style="stroke-width:0.1px">µ</tspan>M</text>
<line x1="155.7" y1="147.3" x2="163.8" y2="147.3" stroke="#7f7dff" stroke-width="1.5"/>
<text x="167.40" y="149.82" font-size="7.0" font-weight="bold" text-anchor="start" style="stroke-width:0.3px">20<tspan font-weight="normal" style="stroke-width:0.1px">µ</tspan>M</text>
<line x1="187.5" y1="147.3" x2="195.5" y2="147.3" stroke="#c4f24e" stroke-width="1.5"/>
<text x="199.20" y="149.82" font-size="7.0" font-weight="bold" text-anchor="start" style="stroke-width:0.3px">25<tspan font-weight="normal" style="stroke-width:0.1px">µ</tspan>M</text>
<line x1="218.7" y1="147.3" x2="227.3" y2="147.3" stroke="#9c1d55" stroke-width="1.5"/>
<text x="230.90" y="149.82" font-size="7.0" font-weight="bold" text-anchor="start" style="stroke-width:0.3px">30<tspan font-weight="normal" style="stroke-width:0.1px">µ</tspan>M</text>
<line x1="287.20" y1="8.72" x2="287.20" y2="111.95" stroke="#2e2e2e" stroke-width="1.3"/>
<line x1="286.65" y1="111.40" x2="507.85" y2="111.40" stroke="#2e2e2e" stroke-width="1.3"/>
<line x1="284.60" y1="111.40" x2="287.20" y2="111.40" stroke="#2e2e2e" stroke-width="1.3"/>
<text x="283.70" y="113.92" font-size="7.0" font-weight="bold" text-anchor="end" >0.0</text>
<line x1="284.60" y1="94.37" x2="287.20" y2="94.37" stroke="#2e2e2e" stroke-width="1.3"/>
<text x="283.70" y="96.89" font-size="7.0" font-weight="bold" text-anchor="end" >0.1</text>
<line x1="284.60" y1="77.34" x2="287.20" y2="77.34" stroke="#2e2e2e" stroke-width="1.3"/>
<text x="283.70" y="79.86" font-size="7.0" font-weight="bold" text-anchor="end" >0.2</text>
<line x1="284.60" y1="60.31" x2="287.20" y2="60.31" stroke="#2e2e2e" stroke-width="1.3"/>
<text x="283.70" y="62.83" font-size="7.0" font-weight="bold" text-anchor="end" >0.3</text>
<line x1="284.60" y1="43.28" x2="287.20" y2="43.28" stroke="#2e2e2e" stroke-width="1.3"/>
<text x="283.70" y="45.80" font-size="7.0" font-weight="bold" text-anchor="end" >0.4</text>
<line x1="284.60" y1="26.25" x2="287.20" y2="26.25" stroke="#2e2e2e" stroke-width="1.3"/>
<text x="283.70" y="28.77" font-size="7.0" font-weight="bold" text-anchor="end" >0.5</text>
<line x1="284.60" y1="9.22" x2="287.20" y2="9.22" stroke="#2e2e2e" stroke-width="1.3"/>
<text x="283.70" y="11.74" font-size="7.0" font-weight="bold" text-anchor="end" >0.6</text>
<line x1="287.30" y1="111.40" x2="287.30" y2="114.00" stroke="#2e2e2e" stroke-width="1.3"/>
<text x="287.30" y="121.30" font-size="7.0" font-weight="bold" text-anchor="middle" >0</text>
<line x1="311.75" y1="111.40" x2="311.75" y2="114.00" stroke="#2e2e2e" stroke-width="1.3"/>
<text x="311.75" y="121.30" font-size="7.0" font-weight="bold" text-anchor="middle" >50</text>
<line x1="336.20" y1="111.40" x2="336.20" y2="114.00" stroke="#2e2e2e" stroke-width="1.3"/>
<text x="336.20" y="121.30" font-size="7.0" font-weight="bold" text-anchor="middle" >100</text>
<line x1="360.65" y1="111.40" x2="360.65" y2="114.00" stroke="#2e2e2e" stroke-width="1.3"/>
<text x="360.65" y="121.30" font-size="7.0" font-weight="bold" text-anchor="middle" >150</text>
<line x1="385.10" y1="111.40" x2="385.10" y2="114.00" stroke="#2e2e2e" stroke-width="1.3"/>
<text x="385.10" y="121.30" font-size="7.0" font-weight="bold" text-anchor="middle" >200</text>
<line x1="409.55" y1="111.40" x2="409.55" y2="114.00" stroke="#2e2e2e" stroke-width="1.3"/>
<text x="409.55" y="121.30" font-size="7.0" font-weight="bold" text-anchor="middle" >250</text>
<line x1="434.00" y1="111.40" x2="434.00" y2="114.00" stroke="#2e2e2e" stroke-width="1.3"/>
<text x="434.00" y="121.30" font-size="7.0" font-weight="bold" text-anchor="middle" >300</text>
<line x1="458.45" y1="111.40" x2="458.45" y2="114.00" stroke="#2e2e2e" stroke-width="1.3"/>
<text x="458.45" y="121.30" font-size="7.0" font-weight="bold" text-anchor="middle" >350</text>
<line x1="482.90" y1="111.40" x2="482.90" y2="114.00" stroke="#2e2e2e" stroke-width="1.3"/>
<text x="482.90" y="121.30" font-size="7.0" font-weight="bold" text-anchor="middle" >400</text>
<line x1="507.35" y1="111.40" x2="507.35" y2="114.00" stroke="#2e2e2e" stroke-width="1.3"/>
<text x="507.35" y="121.30" font-size="7.0" font-weight="bold" text-anchor="middle" >450</text>
<text x="0" y="0" font-size="8.4" font-weight="bold" text-anchor="middle" transform="translate(264.76,58.60) rotate(-90)" dy="3.02" textLength="54.5" lengthAdjust="spacingAndGlyphs">binding (nm)</text>
<text x="380.80" y="137.90" font-size="8.9" font-weight="bold" text-anchor="start" textLength="33.5" lengthAdjust="spacingAndGlyphs">Time (s)</text>
<text x="263.10" y="137.70" font-size="9.7" font-weight="bold" text-anchor="start" >B</text>
<text x="292.30" y="19.30" font-size="7.2" font-weight="normal" text-anchor="start" style="stroke-width:0.5px">pm59<tspan font-size="5.3" dx="2.2" dy="1.6" style="stroke-width:0.4px">sh</tspan></text>
<polyline points="287.30,110.92 287.79,111.01 288.28,110.74 288.77,110.80 289.26,110.66 289.75,110.84 290.23,110.68 290.72,110.80 291.21,110.77 291.70,110.82 292.19,110.81 292.68,110.79 293.17,110.80 293.66,110.71 294.15,110.61 294.63,110.65 295.12,110.76 295.61,110.88 296.10,111.01 296.59,110.97 297.08,111.04 297.57,110.97 298.06,111.13 298.55,111.10 299.04,110.99 299.53,110.91 300.01,110.96 300.50,111.05 300.99,111.02 301.48,111.04 301.97,111.04 302.46,111.12 302.95,111.03 303.44,110.84 303.93,110.74 304.42,110.57 304.90,110.77 305.39,110.88 305.88,111.06 306.37,111.00 306.86,110.87 307.35,110.82 307.84,110.85 308.33,110.81 308.82,110.85 309.31,110.77 309.79,110.80 310.28,110.77 310.77,110.81 311.26,110.91 311.75,110.89 312.24,110.86 312.73,110.84 313.22,110.67 313.71,110.71 314.19,110.77 314.68,111.11 315.17,111.19 315.66,111.27 316.15,111.10 316.64,111.12 317.13,110.10 317.62,109.64 318.11,109.08 318.60,108.68 319.09,108.26 319.57,108.21 320.06,108.13 320.55,108.07 321.04,107.71 321.53,107.58 322.02,107.31 322.51,107.30 323.00,107.34 323.49,107.50 323.98,107.34 324.46,107.27 324.95,107.11 325.44,106.97 325.93,106.82 326.42,106.85 326.91,106.89 327.40,106.79 327.89,106.75 328.38,106.70 328.87,106.65 329.35,106.44 329.84,106.49 330.33,106.35 330.82,106.39 331.31,106.17 331.80,106.29 332.29,106.17 332.78,106.18 333.27,106.13 333.75,106.25 334.24,106.28 334.73,106.18 335.22,106.02 335.71,105.91 336.20,105.60 336.69,105.47 337.18,105.27 337.67,105.36 338.16,105.23 338.64,105.25 339.13,105.22 339.62,105.21 340.11,105.02 340.60,105.10 341.09,105.06 341.58,105.12 342.07,105.03 342.56,104.95 343.05,104.93 343.54,104.67 344.02,104.60 344.51,104.56 345.00,104.58 345.49,104.75 345.98,104.53 346.47,104.48 346.96,104.36 347.45,104.54 347.94,104.53 348.43,104.40 348.91,104.25 349.40,104.23 349.89,104.09 350.38,104.09 350.87,103.98 351.36,104.08 351.85,104.05 352.34,104.00 352.83,103.91 353.31,103.81 353.80,103.77 354.29,103.77 354.78,103.60 355.27,103.64 355.76,103.31 356.25,103.26 356.74,103.05 357.23,103.14 357.72,103.23 358.21,103.09 358.69,102.87 359.18,102.80 359.67,102.72 360.16,102.74 360.65,102.55 361.14,102.60 361.63,102.66 362.12,102.68 362.61,102.65 363.10,102.47 363.58,102.51 364.07,102.46 364.56,102.60 365.05,102.43 365.54,102.42 366.03,102.34 366.52,102.24 367.01,102.11 367.50,102.10 367.99,102.16 368.47,102.12 368.96,102.01 369.45,101.87 369.94,102.08 370.43,102.02 370.92,102.02 371.41,101.72 371.90,101.45 372.39,101.39 372.88,101.38 373.36,101.39 373.85,101.33 374.34,101.13 374.83,101.13 375.32,101.21 375.81,101.28 376.30,101.16 376.79,100.94 377.28,100.88 377.76,100.95 378.25,100.90 378.74,100.77 379.23,100.69 379.72,100.63 380.21,100.49 380.70,100.61 381.19,100.63 381.68,100.79 382.17,100.66 382.66,100.69 383.14,100.40 383.63,100.33 384.12,100.09 384.61,100.26 385.10,100.30 385.59,100.11 386.08,100.06 386.57,99.91 387.06,100.05 387.55,99.97 388.03,99.81 388.52,99.76 389.01,100.01 389.50,100.13 389.99,100.17 390.48,99.80 390.97,99.73 391.46,99.55 391.95,99.54 392.44,99.50 392.92,99.43 393.41,99.42 393.90,99.42 394.39,99.56 394.88,99.57 395.37,99.64 395.86,99.48 396.35,99.33 396.84,99.17 397.32,99.30 397.81,99.37 398.30,99.15 398.79,98.93 399.28,98.78 399.77,98.79 400.26,98.73 400.75,98.70 401.24,98.62 401.73,98.53 402.22,98.53 402.70,98.59 403.19,98.60 403.68,98.46 404.17,98.31 404.66,98.27 405.15,99.56 405.64,100.19 406.13,100.29 406.62,100.39 407.11,100.30 407.59,100.48 408.08,100.62 408.57,100.78 409.06,100.85 409.55,100.77 410.04,100.80 410.53,100.71 411.02,100.75 411.51,100.56 412.00,100.83 412.48,100.80 412.97,101.10 413.46,101.01 413.95,101.14 414.44,101.05 414.93,101.08 415.42,101.18 415.91,101.18 416.40,101.28 416.88,101.20 417.37,101.40 417.86,101.28 418.35,101.41 418.84,101.50 419.33,101.73 419.82,101.83 420.31,101.74 420.80,101.57 421.29,101.54 421.77,101.61 422.26,101.89 422.75,101.95 423.24,101.92 423.73,101.75 424.22,101.87 424.71,102.04 425.20,102.20 425.69,102.11 426.18,102.17 426.67,102.16 427.15,102.11 427.64,102.07 428.13,102.13 428.62,102.26 429.11,102.43 429.60,102.44 430.09,102.47 430.58,102.25 431.07,102.36 431.56,102.31 432.04,102.43 432.53,102.23 433.02,102.23 433.51,102.26 434.00,102.45 434.49,102.48 434.98,102.40 435.47,102.42 435.96,102.43 436.45,102.60 436.93,102.53 437.42,102.78 437.91,102.77 438.40,102.87 438.89,102.82 439.38,102.95 439.87,103.03 440.36,103.00 440.85,103.00 441.34,103.14 441.82,103.30 442.31,103.19 442.80,103.07 443.29,103.02 443.78,103.03 444.27,103.21 444.76,103.31 445.25,103.41 445.74,103.19 446.23,103.10 446.71,103.27 447.20,103.31 447.69,103.34 448.18,103.34 448.67,103.63 449.16,103.67 449.65,103.68 450.14,103.60 450.63,103.70 451.12,103.69 451.60,103.68 452.09,103.62 452.58,103.50 453.07,103.66 453.56,103.77 454.05,103.90 454.54,103.74 455.03,103.63 455.52,103.68 456.00,103.72 456.49,103.75 456.98,103.67 457.47,103.62 457.96,103.70 458.45,103.74 458.94,103.78 459.43,103.82 459.92,103.83 460.41,103.82 460.89,103.86 461.38,103.87 461.87,103.97 462.36,103.74 462.85,103.92 463.34,103.92 463.83,104.12 464.32,104.14 464.81,104.20 465.30,104.18 465.78,104.15 466.27,104.10 466.76,104.18 467.25,104.14 467.74,104.15 468.23,104.21 468.72,104.47 469.21,104.48 469.70,104.49 470.19,104.67 470.68,104.64 471.16,104.60 471.65,104.17 472.14,104.19 472.63,103.92 473.12,103.96 473.61,103.96 474.10,104.12 474.59,104.02 475.08,104.12 475.56,104.23 476.05,104.32 476.54,104.45 477.03,104.43 477.52,104.38 478.01,104.27 478.50,104.25 478.99,104.46 479.48,104.41 479.97,104.64 480.46,104.61 480.94,104.60 481.43,104.54 481.92,104.48 482.41,104.67 482.90,104.62" fill="none" stroke="#f0341f" stroke-width="1.5" stroke-linejoin="round"/>
<polyline points="287.30,110.90 287.79,110.86 288.28,110.88 288.77,110.74 289.26,110.78 289.75,110.71 290.23,110.85 290.72,110.73 291.21,110.72 291.70,110.69 292.19,110.79 292.68,110.85 293.17,110.94 293.66,110.95 294.15,111.03 294.63,110.91 295.12,111.01 295.61,110.99 296.10,110.97 296.59,110.91 297.08,111.00 297.57,111.03 298.06,111.15 298.55,111.12 299.04,111.13 299.53,110.95 300.01,110.80 300.50,110.82 300.99,110.95 301.48,111.06 301.97,111.00 302.46,110.87 302.95,110.80 303.44,110.75 303.93,110.81 304.42,110.68 304.90,110.90 305.39,111.10 305.88,111.24 306.37,111.03 306.86,110.89 307.35,110.84 307.84,110.98 308.33,111.05 308.82,111.15 309.31,110.98 309.79,110.82 310.28,110.82 310.77,110.88 311.26,110.99 311.75,110.93 312.24,111.03 312.73,110.98 313.22,111.04 313.71,110.96 314.19,111.01 314.68,111.01 315.17,111.00 315.66,110.97 316.15,110.91 316.64,110.95 317.13,109.90 317.62,109.20 318.11,108.49 318.60,107.92 319.09,107.45 319.57,107.00 320.06,106.61 320.55,106.26 321.04,106.24 321.53,106.28 322.02,106.09 322.51,105.60 323.00,105.20 323.49,104.90 323.98,104.85 324.46,104.75 324.95,104.57 325.44,104.44 325.93,104.19 326.42,103.97 326.91,103.68 327.40,103.42 327.89,103.30 328.38,103.06 328.87,102.88 329.35,102.78 329.84,102.72 330.33,102.62 330.82,102.25 331.31,101.95 331.80,101.68 332.29,101.53 332.78,101.32 333.27,101.08 333.75,100.95 334.24,100.95 334.73,100.80 335.22,100.59 335.71,100.27 336.20,100.16 336.69,100.06 337.18,100.01 337.67,99.74 338.16,99.39 338.64,99.02 339.13,98.91 339.62,98.80 340.11,98.74 340.60,98.59 341.09,98.47 341.58,98.32 342.07,98.14 342.56,97.80 343.05,97.75 343.54,97.55 344.02,97.47 344.51,97.26 345.00,97.12 345.49,97.01 345.98,96.79 346.47,96.70 346.96,96.66 347.45,96.33 347.94,95.94 348.43,95.54 348.91,95.55 349.40,95.57 349.89,95.52 350.38,95.41 350.87,95.31 351.36,95.14 351.85,94.97 352.34,94.94 352.83,94.94 353.31,94.74 353.80,94.48 354.29,94.26 354.78,94.03 355.27,93.85 355.76,93.74 356.25,93.72 356.74,93.41 357.23,93.30 357.72,93.02 358.21,92.94 358.69,92.72 359.18,92.76 359.67,92.63 360.16,92.46 360.65,92.34 361.14,92.18 361.63,92.05 362.12,91.85 362.61,91.87 363.10,91.78 363.58,91.67 364.07,91.57 364.56,91.38 365.05,91.18 365.54,90.93 366.03,90.75 366.52,90.59 367.01,90.49 367.50,90.52 367.99,90.44 368.47,90.52 368.96,90.40 369.45,90.34 369.94,90.22 370.43,89.93 370.92,89.92 371.41,89.78 371.90,89.85 372.39,89.71 372.88,89.48 373.36,89.31 373.85,89.05 374.34,88.95 374.83,88.81 375.32,88.87 375.81,88.70 376.30,88.67 376.79,88.64 377.28,88.46 377.76,88.38 378.25,88.20 378.74,88.27 379.23,88.02 379.72,87.95 380.21,87.81 380.70,87.71 381.19,87.33 381.68,87.21 382.17,87.15 382.66,87.28 383.14,86.99 383.63,86.91 384.12,86.74 384.61,86.79 385.10,86.75 385.59,86.65 386.08,86.67 386.57,86.37 387.06,86.29 387.55,86.10 388.03,86.03 388.52,86.02 389.01,85.80 389.50,85.68 389.99,85.55 390.48,85.51 390.97,85.55 391.46,85.33 391.95,85.29 392.44,85.26 392.92,85.19 393.41,85.12 393.90,84.95 394.39,84.83 394.88,84.62 395.37,84.50 395.86,84.61 396.35,84.56 396.84,84.55 397.32,84.26 397.81,84.25 398.30,84.02 398.79,83.99 399.28,83.89 399.77,83.89 400.26,84.00 400.75,83.87 401.24,83.80 401.73,83.67 402.22,83.60 402.70,83.50 403.19,83.30 403.68,83.27 404.17,83.15 404.66,83.03 405.15,83.53 405.64,84.05 406.13,84.56 406.62,84.99 407.11,85.26 407.59,85.57 408.08,85.92 408.57,86.20 409.06,86.30 409.55,86.43 410.04,86.58 410.53,86.82 411.02,87.07 411.51,87.28 412.00,87.50 412.48,87.52 412.97,87.92 413.46,87.99 413.95,88.13 414.44,88.11 414.93,88.23 415.42,88.43 415.91,88.46 416.40,88.60 416.88,88.60 417.37,88.72 417.86,88.85 418.35,89.04 418.84,89.23 419.33,89.26 419.82,89.34 420.31,89.38 420.80,89.53 421.29,89.65 421.77,89.81 422.26,89.92 422.75,90.05 423.24,90.06 423.73,90.16 424.22,90.18 424.71,90.17 425.20,90.33 425.69,90.51 426.18,90.81 426.67,90.97 427.15,90.99 427.64,90.98 428.13,91.09 428.62,91.28 429.11,91.43 429.60,91.32 430.09,91.43 430.58,91.44 431.07,91.79 431.56,91.81 432.04,91.80 432.53,91.85 433.02,91.81 433.51,92.16 434.00,92.12 434.49,92.38 434.98,92.30 435.47,92.40 435.96,92.31 436.45,92.36 436.93,92.40 437.42,92.58 437.91,92.63 438.40,92.78 438.89,92.85 439.38,93.01 439.87,92.96 440.36,92.79 440.85,92.80 441.34,92.76 441.82,93.09 442.31,93.19 442.80,93.37 443.29,93.29 443.78,93.24 444.27,93.21 444.76,93.34 445.25,93.37 445.74,93.53 446.23,93.80 446.71,94.03 447.20,94.14 447.69,93.96 448.18,93.89 448.67,93.92 449.16,93.87 449.65,94.04 450.14,94.08 450.63,94.16 451.12,94.22 451.60,94.16 452.09,94.21 452.58,94.18 453.07,94.33 453.56,94.46 454.05,94.49 454.54,94.43 455.03,94.43 455.52,94.59 456.00,94.86 456.49,94.90 456.98,95.04 457.47,95.09 457.96,95.23 458.45,95.06 458.94,94.86 459.43,94.83 459.92,94.59 460.41,94.72 460.89,94.70 461.38,94.94 461.87,95.01 462.36,95.04 462.85,95.11 463.34,95.12 463.83,95.28 464.32,95.40 464.81,95.39 465.30,95.38 465.78,95.35 466.27,95.41 466.76,95.42 467.25,95.49 467.74,95.50 468.23,95.49 468.72,95.41 469.21,95.45 469.70,95.60 470.19,95.79 470.68,95.81 471.16,95.92 471.65,95.94 472.14,95.94 472.63,95.87 473.12,95.91 473.61,95.92 474.10,96.14 474.59,96.12 475.08,96.28 475.56,96.14 476.05,96.08 476.54,95.95 477.03,95.84 477.52,95.89 478.01,96.01 478.50,96.15 478.99,96.23 479.48,96.41 479.97,96.46 480.46,96.43 480.94,96.33 481.43,96.25 481.92,96.45 482.41,96.51 482.90,96.68" fill="none" stroke="#1f9392" stroke-width="1.5" stroke-linejoin="round"/>
<polyline points="287.30,110.78 287.79,110.89 288.28,111.04 288.77,110.95 289.26,110.86 289.75,110.88 290.23,111.11 290.72,111.20 291.21,111.00 291.70,110.80 292.19,110.73 292.68,110.79 293.17,110.86 293.66,110.90 294.15,110.85 294.63,110.95 295.12,111.03 295.61,110.94 296.10,110.91 296.59,110.80 297.08,110.95 297.57,110.97 298.06,111.01 298.55,110.91 299.04,110.76 299.53,110.69 300.01,110.79 300.50,110.66 300.99,110.64 301.48,110.51 301.97,110.79 302.46,110.88 302.95,110.90 303.44,111.00 303.93,111.04 304.42,111.06 304.90,110.72 305.39,110.62 305.88,110.74 306.37,111.04 306.86,110.99 307.35,110.97 307.84,110.90 308.33,110.82 308.82,110.75 309.31,110.75 309.79,110.98 310.28,110.87 310.77,110.74 311.26,110.73 311.75,110.95 312.24,111.07 312.73,110.90 313.22,110.75 313.71,110.84 314.19,110.92 314.68,110.90 315.17,110.80 315.66,110.82 316.15,110.88 316.64,110.92 317.13,110.37 317.62,109.89 318.11,109.38 318.60,108.92 319.09,108.24 319.57,107.60 320.06,106.96 320.55,106.49 321.04,106.07 321.53,105.70 322.02,105.30 322.51,104.92 323.00,104.47 323.49,104.27 323.98,103.91 324.46,103.50 324.95,103.00 325.44,102.68 325.93,102.51 326.42,102.21 326.91,101.70 327.40,101.31 327.89,100.86 328.38,100.72 328.87,100.29 329.35,100.13 329.84,99.78 330.33,99.54 330.82,99.17 331.31,99.01 331.80,98.83 332.29,98.70 332.78,98.38 333.27,98.12 333.75,97.83 334.24,97.53 334.73,97.35 335.22,97.15 335.71,97.02 336.20,96.72 336.69,96.50 337.18,96.18 337.67,96.03 338.16,95.60 338.64,95.42 339.13,95.02 339.62,95.04 340.11,94.85 340.60,94.73 341.09,94.29 341.58,94.04 342.07,93.73 342.56,93.73 343.05,93.41 343.54,93.38 344.02,93.27 344.51,93.36 345.00,93.09 345.49,92.77 345.98,92.39 346.47,92.22 346.96,91.97 347.45,91.67 347.94,91.49 348.43,91.31 348.91,91.29 349.40,91.23 349.89,91.09 350.38,90.74 350.87,90.48 351.36,90.09 351.85,89.98 352.34,89.69 352.83,89.62 353.31,89.48 353.80,89.33 354.29,89.12 354.78,89.00 355.27,88.84 355.76,88.87 356.25,88.62 356.74,88.18 357.23,87.81 357.72,87.72 358.21,87.94 358.69,87.81 359.18,87.51 359.67,87.24 360.16,87.00 360.65,86.85 361.14,86.57 361.63,86.44 362.12,86.22 362.61,86.14 363.10,86.09 363.58,85.90 364.07,85.70 364.56,85.58 365.05,85.49 365.54,85.35 366.03,85.05 366.52,84.66 367.01,84.31 367.50,84.20 367.99,84.40 368.47,84.38 368.96,84.25 369.45,83.97 369.94,83.78 370.43,83.49 370.92,83.34 371.41,83.32 371.90,83.22 372.39,83.05 372.88,82.76 373.36,82.49 373.85,82.42 374.34,82.29 374.83,82.28 375.32,82.10 375.81,81.88 376.30,81.72 376.79,81.34 377.28,81.44 377.76,81.11 378.25,81.13 378.74,80.87 379.23,80.82 379.72,80.64 380.21,80.30 380.70,80.06 381.19,79.98 381.68,79.90 382.17,79.82 382.66,79.59 383.14,79.47 383.63,79.23 384.12,79.07 384.61,79.00 385.10,78.93 385.59,78.83 386.08,78.59 386.57,78.40 387.06,78.17 387.55,77.97 388.03,77.86 388.52,77.69 389.01,77.62 389.50,77.49 389.99,77.31 390.48,77.17 390.97,77.06 391.46,77.07 391.95,76.79 392.44,76.65 392.92,76.36 393.41,76.34 393.90,76.14 394.39,76.05 394.88,75.92 395.37,75.87 395.86,75.68 396.35,75.52 396.84,75.26 397.32,75.14 397.81,75.08 398.30,74.88 398.79,74.78 399.28,74.55 399.77,74.54 400.26,74.45 400.75,74.26 401.24,73.92 401.73,73.75 402.22,73.72 402.70,73.77 403.19,73.45 403.68,73.21 404.17,72.90 404.66,72.99 405.15,73.80 405.64,74.74 406.13,75.38 406.62,75.89 407.11,76.31 407.59,76.85 408.08,77.37 408.57,77.85 409.06,78.12 409.55,78.27 410.04,78.41 410.53,78.65 411.02,78.99 411.51,79.45 412.00,79.72 412.48,80.17 412.97,80.34 413.46,80.56 413.95,80.56 414.44,80.77 414.93,81.00 415.42,81.35 415.91,81.70 416.40,81.93 416.88,82.17 417.37,82.19 417.86,82.33 418.35,82.44 418.84,82.72 419.33,82.86 419.82,82.94 420.31,82.90 420.80,82.95 421.29,82.91 421.77,83.00 422.26,83.28 422.75,83.55 423.24,83.59 423.73,83.71 424.22,83.86 424.71,84.05 425.20,84.05 425.69,84.19 426.18,84.39 426.67,84.60 427.15,84.60 427.64,84.75 428.13,84.81 428.62,84.97 429.11,85.23 429.60,85.36 430.09,85.45 430.58,85.38 431.07,85.52 431.56,85.66 432.04,85.65 432.53,85.65 433.02,85.79 433.51,85.92 434.00,86.05 434.49,86.13 434.98,86.46 435.47,86.53 435.96,86.67 436.45,86.59 436.93,86.63 437.42,86.57 437.91,86.79 438.40,87.04 438.89,87.13 439.38,87.02 439.87,87.03 440.36,87.18 440.85,87.20 441.34,87.14 441.82,87.19 442.31,87.44 442.80,87.60 443.29,87.80 443.78,87.83 444.27,87.94 444.76,87.81 445.25,87.85 445.74,88.10 446.23,88.12 446.71,88.18 447.20,88.27 447.69,88.62 448.18,88.68 448.67,88.69 449.16,88.56 449.65,88.77 450.14,88.86 450.63,88.86 451.12,88.70 451.60,88.65 452.09,88.71 452.58,88.88 453.07,88.88 453.56,89.08 454.05,89.12 454.54,89.09 455.03,89.01 455.52,88.95 456.00,88.97 456.49,89.09 456.98,89.35 457.47,89.48 457.96,89.54 458.45,89.58 458.94,89.80 459.43,89.97 459.92,90.11 460.41,90.14 460.89,90.11 461.38,89.93 461.87,89.89 462.36,90.00 462.85,90.19 463.34,90.26 463.83,90.16 464.32,90.16 464.81,90.34 465.30,90.49 465.78,90.69 466.27,90.65 466.76,90.69 467.25,90.66 467.74,90.66 468.23,90.61 468.72,90.65 469.21,90.59 469.70,90.66 470.19,90.58 470.68,90.77 471.16,90.80 471.65,90.86 472.14,90.77 472.63,90.89 473.12,90.85 473.61,91.06 474.10,91.07 474.59,91.14 475.08,90.84 475.56,91.04 476.05,91.23 476.54,91.51 477.03,91.40 477.52,91.40 478.01,91.36 478.50,91.44 478.99,91.40 479.48,91.60 479.97,91.58 480.46,91.61 480.94,91.41 481.43,91.41 481.92,91.33 482.41,91.46 482.90,91.61" fill="none" stroke="#24a2f2" stroke-width="1.5" stroke-linejoin="round"/>
<polyline points="287.30,110.88 287.79,110.97 288.28,110.93 288.77,110.94 289.26,110.76 289.75,110.70 290.23,110.67 290.72,110.80 291.21,111.01 291.70,110.95 292.19,110.98 292.68,110.90 293.17,110.96 293.66,110.93 294.15,110.94 294.63,110.92 295.12,110.89 295.61,110.95 296.10,110.95 296.59,110.99 297.08,111.02 297.57,110.99 298.06,110.88 298.55,110.92 299.04,111.00 299.53,110.85 300.01,110.85 300.50,110.79 300.99,110.88 301.48,110.77 301.97,110.79 302.46,110.91 302.95,110.77 303.44,110.68 303.93,110.69 304.42,110.84 304.90,110.97 305.39,110.95 305.88,110.90 306.37,111.00 306.86,110.90 307.35,110.95 307.84,110.87 308.33,110.88 308.82,110.78 309.31,110.86 309.79,110.83 310.28,110.83 310.77,110.76 311.26,110.70 311.75,110.84 312.24,110.87 312.73,110.96 313.22,110.96 313.71,110.80 314.19,110.81 314.68,110.62 315.17,110.82 315.66,110.91 316.15,110.94 316.64,110.94 317.13,109.42 317.62,108.32 318.11,107.01 318.60,105.86 319.09,104.72 319.57,103.81 320.06,102.97 320.55,101.94 321.04,100.95 321.53,100.02 322.02,99.31 322.51,98.54 323.00,97.88 323.49,97.27 323.98,96.58 324.46,95.91 324.95,95.37 325.44,94.83 325.93,94.19 326.42,93.32 326.91,92.90 327.40,92.46 327.89,92.08 328.38,91.42 328.87,91.02 329.35,90.58 329.84,90.23 330.33,89.75 330.82,89.42 331.31,88.96 331.80,88.59 332.29,88.13 332.78,87.79 333.27,87.31 333.75,86.84 334.24,86.48 334.73,86.27 335.22,86.09 335.71,85.79 336.20,85.53 336.69,85.19 337.18,84.87 337.67,84.35 338.16,84.05 338.64,83.63 339.13,83.34 339.62,83.07 340.11,82.88 340.60,82.70 341.09,82.41 341.58,82.04 342.07,81.76 342.56,81.48 343.05,81.34 343.54,80.92 344.02,80.65 344.51,80.33 345.00,80.25 345.49,79.95 345.98,79.74 346.47,79.47 346.96,79.41 347.45,79.23 347.94,78.91 348.43,78.44 348.91,78.20 349.40,77.96 349.89,77.77 350.38,77.15 350.87,77.01 351.36,76.84 351.85,76.95 352.34,76.57 352.83,76.20 353.31,75.91 353.80,75.63 354.29,75.32 354.78,75.11 355.27,74.97 355.76,74.94 356.25,74.74 356.74,74.61 357.23,74.40 357.72,74.24 358.21,74.00 358.69,73.70 359.18,73.47 359.67,73.29 360.16,73.23 360.65,72.92 361.14,72.68 361.63,72.33 362.12,72.19 362.61,72.10 363.10,71.93 363.58,71.74 364.07,71.33 364.56,71.12 365.05,71.12 365.54,71.19 366.03,71.05 366.52,70.71 367.01,70.55 367.50,70.41 367.99,70.06 368.47,69.64 368.96,69.49 369.45,69.39 369.94,69.18 370.43,68.94 370.92,68.64 371.41,68.61 371.90,68.25 372.39,68.09 372.88,67.82 373.36,67.80 373.85,67.75 374.34,67.70 374.83,67.47 375.32,67.20 375.81,66.90 376.30,66.79 376.79,66.72 377.28,66.70 377.76,66.61 378.25,66.58 378.74,66.30 379.23,66.17 379.72,65.82 380.21,65.76 380.70,65.41 381.19,65.20 381.68,64.86 382.17,64.73 382.66,64.74 383.14,64.74 383.63,64.74 384.12,64.54 384.61,64.23 385.10,64.11 385.59,63.79 386.08,63.83 386.57,63.69 387.06,63.72 387.55,63.44 388.03,63.24 388.52,63.21 389.01,63.01 389.50,62.93 389.99,62.63 390.48,62.63 390.97,62.43 391.46,62.37 391.95,62.34 392.44,62.27 392.92,62.11 393.41,61.98 393.90,61.82 394.39,61.59 394.88,61.23 395.37,60.95 395.86,60.87 396.35,60.91 396.84,60.87 397.32,60.88 397.81,60.96 398.30,60.83 398.79,60.63 399.28,60.19 399.77,60.19 400.26,59.99 400.75,60.00 401.24,59.88 401.73,59.88 402.22,59.64 402.70,59.42 403.19,59.25 403.68,59.28 404.17,59.13 404.66,58.97 405.15,59.85 405.64,60.88 406.13,62.02 406.62,62.80 407.11,63.77 407.59,64.39 408.08,65.11 408.57,65.74 409.06,66.36 409.55,67.01 410.04,67.46 410.53,68.07 411.02,68.43 411.51,68.94 412.00,69.18 412.48,69.60 412.97,69.90 413.46,70.50 413.95,71.07 414.44,71.52 414.93,71.59 415.42,71.81 415.91,71.95 416.40,72.29 416.88,72.55 417.37,72.94 417.86,73.21 418.35,73.44 418.84,73.71 419.33,74.11 419.82,74.32 420.31,74.53 420.80,74.61 421.29,74.82 421.77,74.93 422.26,75.25 422.75,75.27 423.24,75.58 423.73,75.79 424.22,76.25 424.71,76.57 425.20,76.82 425.69,76.93 426.18,77.05 426.67,77.09 427.15,77.42 427.64,77.65 428.13,77.86 428.62,77.87 429.11,77.99 429.60,78.09 430.09,78.17 430.58,78.20 431.07,78.55 431.56,78.72 432.04,78.92 432.53,78.98 433.02,79.19 433.51,79.37 434.00,79.37 434.49,79.60 434.98,79.60 435.47,79.80 435.96,79.74 436.45,79.91 436.93,80.04 437.42,80.34 437.91,80.53 438.40,80.78 438.89,80.81 439.38,80.96 439.87,80.91 440.36,81.10 440.85,81.26 441.34,81.55 441.82,81.56 442.31,81.62 442.80,81.63 443.29,81.96 443.78,81.99 444.27,82.08 444.76,82.02 445.25,82.10 445.74,82.34 446.23,82.62 446.71,82.89 447.20,82.84 447.69,82.77 448.18,82.69 448.67,82.90 449.16,82.96 449.65,83.24 450.14,83.25 450.63,83.49 451.12,83.49 451.60,83.56 452.09,83.49 452.58,83.55 453.07,83.72 453.56,83.76 454.05,83.74 454.54,83.85 455.03,84.01 455.52,84.19 456.00,84.14 456.49,84.20 456.98,84.22 457.47,84.37 457.96,84.52 458.45,84.54 458.94,84.58 459.43,84.80 459.92,84.99 460.41,85.07 460.89,85.01 461.38,85.12 461.87,85.26 462.36,85.24 462.85,85.30 463.34,85.29 463.83,85.27 464.32,85.17 464.81,85.18 465.30,85.37 465.78,85.41 466.27,85.55 466.76,85.52 467.25,85.76 467.74,85.72 468.23,85.89 468.72,85.85 469.21,85.92 469.70,85.93 470.19,86.02 470.68,86.18 471.16,86.14 471.65,86.06 472.14,86.04 472.63,86.23 473.12,86.41 473.61,86.45 474.10,86.39 474.59,86.46 475.08,86.62 475.56,86.67 476.05,86.57 476.54,86.55 477.03,86.75 477.52,86.75 478.01,86.80 478.50,86.70 478.99,87.05 479.48,87.15 479.97,87.25 480.46,87.09 480.94,87.14 481.43,87.29 481.92,87.49 482.41,87.49 482.90,87.38" fill="none" stroke="#ff9022" stroke-width="1.5" stroke-linejoin="round"/>
<polyline points="287.30,110.74 287.79,110.59 288.28,110.81 288.77,110.85 289.26,110.87 289.75,110.84 290.23,110.90 290.72,110.87 291.21,110.85 291.70,110.81 292.19,110.92 292.68,111.03 293.17,111.10 293.66,111.02 294.15,110.98 294.63,110.82 295.12,110.92 295.61,110.83 296.10,110.90 296.59,110.87 297.08,110.85 297.57,110.84 298.06,110.73 298.55,110.72 299.04,110.69 299.53,110.80 300.01,110.87 300.50,110.83 300.99,110.84 301.48,110.81 301.97,110.91 302.46,110.90 302.95,110.99 303.44,111.06 303.93,111.05 304.42,110.97 304.90,111.04 305.39,111.05 305.88,111.07 306.37,110.94 306.86,110.84 307.35,110.93 307.84,110.84 308.33,110.83 308.82,110.74 309.31,110.86 309.79,110.78 310.28,110.83 310.77,110.73 311.26,110.95 311.75,110.99 312.24,111.00 312.73,111.03 313.22,110.94 313.71,110.83 314.19,110.83 314.68,110.89 315.17,110.97 315.66,110.88 316.15,110.79 316.64,110.84 317.13,109.57 317.62,108.55 318.11,107.36 318.60,106.01 319.09,104.80 319.57,103.66 320.06,102.91 320.55,101.88 321.04,101.14 321.53,100.20 322.02,99.51 322.51,98.80 323.00,98.09 323.49,97.48 323.98,96.70 324.46,96.16 324.95,95.42 325.44,95.00 325.93,94.45 326.42,93.90 326.91,93.26 327.40,92.63 327.89,92.03 328.38,91.64 328.87,91.09 329.35,90.75 329.84,90.09 330.33,89.81 330.82,89.43 331.31,89.18 331.80,88.75 332.29,88.42 332.78,87.99 333.27,87.54 333.75,87.10 334.24,86.71 334.73,86.44 335.22,85.87 335.71,85.43 336.20,84.90 336.69,84.59 337.18,84.29 337.67,83.99 338.16,83.74 338.64,83.41 339.13,83.04 339.62,82.56 340.11,82.19 340.60,81.69 341.09,81.40 341.58,80.86 342.07,80.68 342.56,80.43 343.05,80.30 343.54,80.11 344.02,79.65 344.51,79.24 345.00,78.72 345.49,78.45 345.98,78.08 346.47,77.84 346.96,77.50 347.45,77.23 347.94,76.77 348.43,76.36 348.91,76.04 349.40,75.85 349.89,75.62 350.38,75.37 350.87,74.99 351.36,74.81 351.85,74.50 352.34,74.21 352.83,73.84 353.31,73.48 353.80,73.02 354.29,72.70 354.78,72.52 355.27,72.39 355.76,72.00 356.25,71.63 356.74,71.23 357.23,71.01 357.72,70.65 358.21,70.47 358.69,70.09 359.18,69.87 359.67,69.50 360.16,69.20 360.65,69.12 361.14,68.77 361.63,68.41 362.12,67.97 362.61,67.84 363.10,67.78 363.58,67.43 364.07,67.12 364.56,66.93 365.05,66.80 365.54,66.66 366.03,66.35 366.52,66.07 367.01,65.81 367.50,65.46 367.99,65.12 368.47,64.68 368.96,64.62 369.45,64.27 369.94,63.93 370.43,63.54 370.92,63.47 371.41,63.51 371.90,63.14 372.39,62.77 372.88,62.32 373.36,62.16 373.85,62.04 374.34,61.86 374.83,61.60 375.32,61.29 375.81,60.97 376.30,60.78 376.79,60.39 377.28,60.33 377.76,59.99 378.25,59.82 378.74,59.34 379.23,59.02 379.72,58.72 380.21,58.53 380.70,58.45 381.19,58.17 381.68,57.95 382.17,57.63 382.66,57.49 383.14,57.24 383.63,57.09 384.12,56.64 384.61,56.41 385.10,56.15 385.59,56.17 386.08,55.92 386.57,55.70 387.06,55.38 387.55,55.17 388.03,54.89 388.52,54.63 389.01,54.39 389.50,54.16 389.99,53.98 390.48,53.67 390.97,53.49 391.46,53.22 391.95,53.05 392.44,52.79 392.92,52.77 393.41,52.61 393.90,52.55 394.39,52.28 394.88,52.11 395.37,51.83 395.86,51.68 396.35,51.37 396.84,51.14 397.32,50.71 397.81,50.58 398.30,50.51 398.79,50.29 399.28,50.01 399.77,49.52 400.26,49.46 400.75,49.51 401.24,49.44 401.73,49.30 402.22,49.00 402.70,48.91 403.19,48.72 403.68,48.37 404.17,48.17 404.66,48.07 405.15,49.29 405.64,50.43 406.13,51.37 406.62,52.39 407.11,53.15 407.59,53.96 408.08,54.65 408.57,55.24 409.06,55.65 409.55,56.42 410.04,56.99 410.53,57.64 411.02,57.90 411.51,58.26 412.00,58.41 412.48,58.85 412.97,59.12 413.46,59.53 413.95,59.79 414.44,60.26 414.93,60.48 415.42,60.68 415.91,60.88 416.40,61.23 416.88,61.41 417.37,61.62 417.86,61.72 418.35,62.00 418.84,62.23 419.33,62.57 419.82,62.87 420.31,63.12 420.80,63.47 421.29,63.67 421.77,63.76 422.26,63.74 422.75,63.99 423.24,64.22 423.73,64.44 424.22,64.42 424.71,64.65 425.20,64.86 425.69,65.11 426.18,65.28 426.67,65.33 427.15,65.56 427.64,65.60 428.13,65.83 428.62,66.05 429.11,66.36 429.60,66.53 430.09,66.50 430.58,66.57 431.07,66.69 431.56,66.84 432.04,66.99 432.53,67.06 433.02,67.31 433.51,67.36 434.00,67.74 434.49,67.95 434.98,68.21 435.47,68.12 435.96,68.03 436.45,68.15 436.93,68.34 437.42,68.56 437.91,68.69 438.40,68.83 438.89,69.08 439.38,69.30 439.87,69.42 440.36,69.57 440.85,69.63 441.34,69.67 441.82,69.70 442.31,69.90 442.80,70.21 443.29,70.37 443.78,70.39 444.27,70.32 444.76,70.38 445.25,70.46 445.74,70.60 446.23,70.72 446.71,70.92 447.20,70.96 447.69,70.99 448.18,70.93 448.67,71.18 449.16,71.36 449.65,71.56 450.14,71.65 450.63,71.82 451.12,71.99 451.60,72.16 452.09,72.19 452.58,72.39 453.07,72.34 453.56,72.35 454.05,72.44 454.54,72.61 455.03,72.75 455.52,72.79 456.00,72.84 456.49,72.90 456.98,72.93 457.47,72.95 457.96,73.05 458.45,73.19 458.94,73.41 459.43,73.40 459.92,73.27 460.41,73.25 460.89,73.33 461.38,73.62 461.87,73.58 462.36,73.63 462.85,73.62 463.34,73.84 463.83,74.14 464.32,73.96 464.81,74.02 465.30,74.03 465.78,74.39 466.27,74.51 466.76,74.60 467.25,74.53 467.74,74.50 468.23,74.59 468.72,74.72 469.21,74.90 469.70,74.89 470.19,75.20 470.68,75.05 471.16,75.10 471.65,75.01 472.14,75.14 472.63,75.22 473.12,75.23 473.61,75.23 474.10,75.27 474.59,75.24 475.08,75.33 475.56,75.38 476.05,75.50 476.54,75.68 477.03,75.86 477.52,75.85 478.01,76.04 478.50,75.94 478.99,75.97 479.48,75.82 479.97,75.94 480.46,76.14 480.94,76.22 481.43,76.16 481.92,76.09 482.41,76.11 482.90,76.32" fill="none" stroke="#33e133" stroke-width="1.5" stroke-linejoin="round"/>
<polyline points="287.30,110.67 287.79,110.62 288.28,110.71 288.77,110.89 289.26,111.01 289.75,110.97 290.23,110.82 290.72,110.86 291.21,111.07 291.70,110.94 292.19,110.89 292.68,110.68 293.17,110.90 293.66,110.97 294.15,110.96 294.63,110.83 295.12,110.84 295.61,110.93 296.10,111.07 296.59,111.08 297.08,111.10 297.57,111.06 298.06,111.11 298.55,110.87 299.04,110.97 299.53,110.86 300.01,110.89 300.50,110.81 300.99,110.77 301.48,110.87 301.97,110.70 302.46,110.77 302.95,110.70 303.44,110.93 303.93,110.70 304.42,110.73 304.90,110.60 305.39,110.78 305.88,110.74 306.37,110.71 306.86,110.58 307.35,110.81 307.84,110.89 308.33,110.96 308.82,110.81 309.31,110.94 309.79,111.10 310.28,111.11 310.77,111.01 311.26,110.86 311.75,110.99 312.24,110.95 312.73,111.04 313.22,111.05 313.71,111.15 314.19,111.05 314.68,111.09 315.17,111.14 315.66,111.25 316.15,111.09 316.64,110.89 317.13,108.59 317.62,106.57 318.11,104.87 318.60,103.31 319.09,101.74 319.57,100.30 320.06,98.93 320.55,97.92 321.04,96.73 321.53,95.79 322.02,94.74 322.51,93.84 323.00,92.84 323.49,91.89 323.98,90.97 324.46,90.07 324.95,89.34 325.44,88.71 325.93,88.06 326.42,87.39 326.91,86.72 327.40,85.91 327.89,85.31 328.38,84.53 328.87,84.07 329.35,83.49 329.84,82.77 330.33,82.15 330.82,81.50 331.31,80.88 331.80,80.29 332.29,79.61 332.78,79.09 333.27,78.58 333.75,78.10 334.24,77.61 334.73,76.94 335.22,76.38 335.71,76.01 336.20,75.62 336.69,74.97 337.18,74.20 337.67,73.45 338.16,72.92 338.64,72.47 339.13,72.23 339.62,71.75 340.11,71.31 340.60,70.50 341.09,70.00 341.58,69.44 342.07,69.03 342.56,68.48 343.05,67.94 343.54,67.28 344.02,66.70 344.51,66.21 345.00,65.97 345.49,65.46 345.98,64.94 346.47,64.39 346.96,64.10 347.45,63.78 347.94,63.22 348.43,62.62 348.91,62.06 349.40,61.68 349.89,61.16 350.38,60.66 350.87,60.21 351.36,59.96 351.85,59.47 352.34,58.94 352.83,58.52 353.31,58.34 353.80,57.91 354.29,57.32 354.78,56.61 355.27,56.17 355.76,55.94 356.25,55.50 356.74,55.16 357.23,54.46 357.72,54.10 358.21,53.67 358.69,53.47 359.18,53.12 359.67,52.64 360.16,52.15 360.65,51.59 361.14,51.21 361.63,50.76 362.12,50.51 362.61,50.16 363.10,49.84 363.58,49.46 364.07,48.92 364.56,48.35 365.05,47.92 365.54,47.65 366.03,47.28 366.52,46.79 367.01,46.31 367.50,46.12 367.99,45.62 368.47,45.27 368.96,44.78 369.45,44.58 369.94,44.25 370.43,43.91 370.92,43.54 371.41,43.14 371.90,42.69 372.39,42.35 372.88,42.03 373.36,41.67 373.85,41.22 374.34,40.59 374.83,40.38 375.32,40.01 375.81,39.94 376.30,39.52 376.79,39.24 377.28,38.88 377.76,38.46 378.25,38.09 378.74,37.66 379.23,37.14 379.72,36.75 380.21,36.50 380.70,36.29 381.19,36.28 381.68,35.83 382.17,35.45 382.66,34.88 383.14,34.64 383.63,34.48 384.12,34.25 384.61,33.90 385.10,33.53 385.59,33.17 386.08,32.80 386.57,32.61 387.06,32.18 387.55,31.91 388.03,31.47 388.52,31.21 389.01,30.93 389.50,30.78 389.99,30.70 390.48,30.43 390.97,29.90 391.46,29.40 391.95,29.07 392.44,28.86 392.92,28.55 393.41,28.27 393.90,27.96 394.39,27.87 394.88,27.60 395.37,27.49 395.86,26.96 396.35,26.81 396.84,26.47 397.32,26.23 397.81,25.85 398.30,25.47 398.79,25.34 399.28,24.82 399.77,24.60 400.26,24.34 400.75,24.21 401.24,23.98 401.73,23.61 402.22,23.42 402.70,23.08 403.19,22.83 403.68,22.42 404.17,22.10 404.66,21.90 405.15,23.35 405.64,24.75 406.13,25.90 406.62,27.12 407.11,28.25 407.59,29.16 408.08,30.10 408.57,30.83 409.06,31.58 409.55,32.37 410.04,33.11 410.53,33.88 411.02,34.45 411.51,35.06 412.00,35.70 412.48,36.37 412.97,36.85 413.46,37.09 413.95,37.47 414.44,37.88 414.93,38.47 415.42,38.85 415.91,39.30 416.40,39.62 416.88,39.93 417.37,40.26 417.86,40.60 418.35,40.96 418.84,41.35 419.33,41.75 419.82,42.05 420.31,42.26 420.80,42.32 421.29,42.62 421.77,42.95 422.26,43.34 422.75,43.44 423.24,43.67 423.73,44.00 424.22,44.41 424.71,44.52 425.20,44.74 425.69,44.87 426.18,45.24 426.67,45.44 427.15,45.69 427.64,45.81 428.13,46.02 428.62,46.38 429.11,46.71 429.60,46.78 430.09,46.81 430.58,46.83 431.07,47.17 431.56,47.38 432.04,47.57 432.53,47.79 433.02,47.96 433.51,48.15 434.00,48.39 434.49,48.49 434.98,48.79 435.47,49.05 435.96,49.41 436.45,49.52 436.93,49.38 437.42,49.48 437.91,49.65 438.40,50.03 438.89,50.10 439.38,50.19 439.87,50.22 440.36,50.40 440.85,50.73 441.34,50.95 441.82,51.21 442.31,51.25 442.80,51.46 443.29,51.60 443.78,51.73 444.27,51.86 444.76,51.91 445.25,52.03 445.74,52.24 446.23,52.37 446.71,52.34 447.20,52.31 447.69,52.56 448.18,52.81 448.67,52.92 449.16,53.00 449.65,53.29 450.14,53.60 450.63,53.75 451.12,53.86 451.60,53.95 452.09,54.05 452.58,54.05 453.07,54.13 453.56,54.34 454.05,54.55 454.54,54.78 455.03,54.97 455.52,55.10 456.00,55.11 456.49,55.08 456.98,55.30 457.47,55.40 457.96,55.67 458.45,55.68 458.94,55.95 459.43,55.93 459.92,56.03 460.41,56.06 460.89,56.13 461.38,56.17 461.87,56.13 462.36,56.24 462.85,56.34 463.34,56.64 463.83,56.67 464.32,56.81 464.81,56.90 465.30,57.11 465.78,57.31 466.27,57.29 466.76,57.36 467.25,57.37 467.74,57.61 468.23,57.75 468.72,57.75 469.21,57.66 469.70,57.78 470.19,58.10 470.68,58.30 471.16,58.28 471.65,58.25 472.14,58.22 472.63,58.32 473.12,58.53 473.61,58.68 474.10,58.94 474.59,58.93 475.08,59.00 475.56,58.90 476.05,58.94 476.54,59.01 477.03,59.11 477.52,59.20 478.01,59.44 478.50,59.52 478.99,59.65 479.48,59.62 479.97,59.60 480.46,59.63 480.94,59.73 481.43,59.87 481.92,60.11 482.41,60.12 482.90,60.39" fill="none" stroke="#2447f0" stroke-width="1.5" stroke-linejoin="round"/>
<polyline points="287.30,110.83 287.79,110.96 288.28,110.87 288.77,110.90 289.26,110.89 289.75,111.09 290.23,111.20 290.72,111.17 291.21,110.96 291.70,110.78 292.19,110.76 292.68,110.91 293.17,110.82 293.66,110.70 294.15,110.72 294.63,110.89 295.12,111.00 295.61,110.92 296.10,110.84 296.59,110.83 297.08,110.81 297.57,110.83 298.06,110.75 298.55,110.83 299.04,110.89 299.53,110.80 300.01,110.76 300.50,110.74 300.99,110.87 301.48,110.90 301.97,110.93 302.46,110.83 302.95,110.68 303.44,110.74 303.93,110.87 304.42,111.08 304.90,111.11 305.39,111.12 305.88,110.89 306.37,110.77 306.86,110.65 307.35,110.86 307.84,110.84 308.33,110.96 308.82,110.86 309.31,110.79 309.79,110.75 310.28,110.81 310.77,111.00 311.26,111.09 311.75,111.05 312.24,110.98 312.73,111.06 313.22,111.20 313.71,111.09 314.19,110.95 314.68,110.85 315.17,110.88 315.66,110.86 316.15,110.83 316.40,110.90" fill="none" stroke="#f0341f" stroke-width="1.5" stroke-linejoin="round"/>
<polyline points="287.30,110.84 287.79,110.91 288.28,111.08 288.77,111.14 289.26,111.01 289.75,110.91 290.23,110.99 290.72,110.89 291.21,110.82 291.70,110.75 292.19,110.73 292.68,110.75 293.17,110.83 293.66,110.89 294.15,111.01 294.63,110.87 295.12,110.90 295.61,110.84 296.10,110.96 296.59,110.86 297.08,110.86 297.57,110.84 298.06,110.97 298.55,110.91 299.04,110.84 299.53,110.78 300.01,110.79 300.50,110.65 300.99,110.71 301.48,110.79 301.97,111.03 302.46,110.95 302.95,110.81 303.44,110.76 303.93,110.87 304.42,111.03 304.90,110.97 305.39,110.84 305.88,110.73 306.37,110.84 306.86,110.88 307.35,110.91 307.84,110.84 308.33,110.79 308.82,110.78 309.31,110.74 309.79,110.81 310.28,110.80 310.77,110.81 311.26,110.93 311.75,110.98 312.24,111.07 312.73,111.01 313.22,111.00 313.71,110.84 314.19,110.86 314.68,110.76 315.17,111.02 315.66,110.97 316.15,111.04 316.40,110.86" fill="none" stroke="#1f9392" stroke-width="1.5" stroke-linejoin="round" stroke-dasharray="2.5,2.5"/>
<line x1="290.6" y1="149.8" x2="300.1" y2="149.8" stroke="#f0341f" stroke-width="1.5"/>
<text x="304.00" y="152.36" font-size="7.1" font-weight="bold" text-anchor="start" style="stroke-width:0.3px">5<tspan font-weight="normal" style="stroke-width:0.1px">µ</tspan>M</text>
<line x1="322.2" y1="149.8" x2="332.1" y2="149.8" stroke="#1f9392" stroke-width="1.5"/>
<text x="335.60" y="152.36" font-size="7.1" font-weight="bold" text-anchor="start" style="stroke-width:0.3px">10<tspan font-weight="normal" style="stroke-width:0.1px">µ</tspan>M</text>
<line x1="357.8" y1="149.8" x2="366.9" y2="149.8" stroke="#24a2f2" stroke-width="1.5"/>
<text x="371.10" y="152.36" font-size="7.1" font-weight="bold" text-anchor="start" style="stroke-width:0.3px">20<tspan font-weight="normal" style="stroke-width:0.1px">µ</tspan>M</text>
<line x1="392.6" y1="149.8" x2="401.7" y2="149.8" stroke="#ff9022" stroke-width="1.5"/>
<text x="406.50" y="152.36" font-size="7.1" font-weight="bold" text-anchor="start" style="stroke-width:0.3px">30<tspan font-weight="normal" style="stroke-width:0.1px">µ</tspan>M</text>
<line x1="430.5" y1="149.8" x2="440.2" y2="149.8" stroke="#33e133" stroke-width="1.5"/>
<text x="443.40" y="152.36" font-size="7.1" font-weight="bold" text-anchor="start" style="stroke-width:0.3px">40<tspan font-weight="normal" style="stroke-width:0.1px">µ</tspan>M</text>
<line x1="464.4" y1="149.8" x2="474.0" y2="149.8" stroke="#2447f0" stroke-width="1.5"/>
<text x="478.10" y="152.36" font-size="7.1" font-weight="bold" text-anchor="start" style="stroke-width:0.3px">50<tspan font-weight="normal" style="stroke-width:0.1px">µ</tspan>M</text>
<line x1="33.40" y1="207.20" x2="33.40" y2="312.85" stroke="#2e2e2e" stroke-width="1.3"/>
<line x1="32.85" y1="312.30" x2="244.80" y2="312.30" stroke="#2e2e2e" stroke-width="1.3"/>
<line x1="30.80" y1="312.10" x2="33.40" y2="312.10" stroke="#2e2e2e" stroke-width="1.3"/>
<text x="29.90" y="314.58" font-size="6.9" font-weight="bold" text-anchor="end" >-5</text>
<line x1="30.80" y1="300.50" x2="33.40" y2="300.50" stroke="#2e2e2e" stroke-width="1.3"/>
<text x="29.90" y="302.98" font-size="6.9" font-weight="bold" text-anchor="end" >0</text>
<line x1="30.80" y1="288.90" x2="33.40" y2="288.90" stroke="#2e2e2e" stroke-width="1.3"/>
<text x="29.90" y="291.38" font-size="6.9" font-weight="bold" text-anchor="end" >5</text>
<line x1="30.80" y1="277.30" x2="33.40" y2="277.30" stroke="#2e2e2e" stroke-width="1.3"/>
<text x="29.90" y="279.78" font-size="6.9" font-weight="bold" text-anchor="end" >10</text>
<line x1="30.80" y1="265.70" x2="33.40" y2="265.70" stroke="#2e2e2e" stroke-width="1.3"/>
<text x="29.90" y="268.18" font-size="6.9" font-weight="bold" text-anchor="end" >15</text>
<line x1="30.80" y1="254.10" x2="33.40" y2="254.10" stroke="#2e2e2e" stroke-width="1.3"/>
<text x="29.90" y="256.58" font-size="6.9" font-weight="bold" text-anchor="end" >20</text>
<line x1="30.80" y1="242.50" x2="33.40" y2="242.50" stroke="#2e2e2e" stroke-width="1.3"/>
<text x="29.90" y="244.98" font-size="6.9" font-weight="bold" text-anchor="end" >25</text>
<line x1="30.80" y1="230.90" x2="33.40" y2="230.90" stroke="#2e2e2e" stroke-width="1.3"/>
<text x="29.90" y="233.38" font-size="6.9" font-weight="bold" text-anchor="end" >30</text>
<line x1="30.80" y1="219.30" x2="33.40" y2="219.30" stroke="#2e2e2e" stroke-width="1.3"/>
<text x="29.90" y="221.78" font-size="6.9" font-weight="bold" text-anchor="end" >35</text>
<line x1="30.80" y1="207.70" x2="33.40" y2="207.70" stroke="#2e2e2e" stroke-width="1.3"/>
<text x="29.90" y="210.18" font-size="6.9" font-weight="bold" text-anchor="end" >40</text>
<line x1="38.90" y1="312.30" x2="38.90" y2="314.90" stroke="#2e2e2e" stroke-width="1.3"/>
<text x="38.90" y="322.20" font-size="6.9" font-weight="bold" text-anchor="middle" >0</text>
<line x1="64.57" y1="312.30" x2="64.57" y2="314.90" stroke="#2e2e2e" stroke-width="1.3"/>
<text x="64.57" y="322.20" font-size="6.9" font-weight="bold" text-anchor="middle" >50</text>
<line x1="90.25" y1="312.30" x2="90.25" y2="314.90" stroke="#2e2e2e" stroke-width="1.3"/>
<text x="90.25" y="322.20" font-size="6.9" font-weight="bold" text-anchor="middle" >100</text>
<line x1="115.92" y1="312.30" x2="115.92" y2="314.90" stroke="#2e2e2e" stroke-width="1.3"/>
<text x="115.92" y="322.20" font-size="6.9" font-weight="bold" text-anchor="middle" >150</text>
<line x1="141.60" y1="312.30" x2="141.60" y2="314.90" stroke="#2e2e2e" stroke-width="1.3"/>
<text x="141.60" y="322.20" font-size="6.9" font-weight="bold" text-anchor="middle" >200</text>
<line x1="167.28" y1="312.30" x2="167.28" y2="314.90" stroke="#2e2e2e" stroke-width="1.3"/>
<text x="167.28" y="322.20" font-size="6.9" font-weight="bold" text-anchor="middle" >250</text>
<line x1="192.95" y1="312.30" x2="192.95" y2="314.90" stroke="#2e2e2e" stroke-width="1.3"/>
<text x="192.95" y="322.20" font-size="6.9" font-weight="bold" text-anchor="middle" >300</text>
<line x1="218.62" y1="312.30" x2="218.62" y2="314.90" stroke="#2e2e2e" stroke-width="1.3"/>
<text x="218.62" y="322.20" font-size="6.9" font-weight="bold" text-anchor="middle" >350</text>
<line x1="244.30" y1="312.30" x2="244.30" y2="314.90" stroke="#2e2e2e" stroke-width="1.3"/>
<text x="244.30" y="322.20" font-size="6.9" font-weight="bold" text-anchor="middle" >400</text>
<text x="0" y="0" font-size="7.9" font-weight="bold" text-anchor="middle" transform="translate(11.01,255.00) rotate(-90)" dy="2.84" textLength="84.5" lengthAdjust="spacingAndGlyphs">Response Unit (RU)</text>
<text x="124.00" y="340.50" font-size="8.3" font-weight="bold" text-anchor="start" textLength="30.3" lengthAdjust="spacingAndGlyphs">Time (s)</text>
<text x="8.60" y="337.20" font-size="9.4" font-weight="bold" text-anchor="start" >C</text>
<text x="37.30" y="216.50" font-size="7.4" font-weight="normal" text-anchor="start" style="stroke-width:0.5px">pm59<tspan font-size="5.4" dx="2.2" dy="1.6" style="stroke-width:0.4px">md</tspan></text>
<polyline points="33.77,300.62 34.54,300.41 35.31,300.49 36.08,300.30 36.85,300.39 37.10,300.35 37.62,297.38 37.72,297.34 38.39,303.96 39.11,311.37 39.16,311.22 39.52,310.56 39.93,307.77 40.70,298.23 41.47,292.30 42.24,293.29 42.29,293.38 43.01,293.07 43.06,293.07 43.78,292.90 43.83,292.89 44.55,292.59 44.60,292.33 45.32,291.91 45.37,291.93 46.09,291.53 46.14,291.51 46.86,291.09 46.91,291.09 47.63,290.76 47.68,290.59 48.40,290.41 48.45,290.57 49.17,290.52 49.22,290.28 49.94,290.00 49.99,290.03 50.71,290.11 50.76,290.21 51.48,290.12 51.53,289.76 52.25,289.57 52.30,289.56 53.02,289.71 53.07,289.56 53.79,289.41 53.84,289.45 54.56,289.39 54.61,289.20 55.33,289.12 55.38,289.09 56.10,288.88 56.15,288.84 56.87,288.86 56.92,289.00 57.64,288.73 57.69,288.65 58.41,288.58 58.46,288.59 59.18,288.39 59.23,288.38 59.95,288.27 60.00,288.52 60.72,288.42 60.78,288.57 61.49,288.25 61.55,288.26 62.26,287.94 62.32,287.98 63.03,287.90 63.09,288.02 63.80,287.90 63.86,287.94 64.57,288.03 64.63,288.19 65.35,288.06 65.40,287.77 66.12,287.70 66.17,287.67 66.89,287.92 66.94,287.77 67.66,287.84 67.71,287.70 68.43,287.59 68.48,287.34 69.20,287.32 69.25,287.55 69.97,287.81 70.02,287.74 70.74,287.61 70.79,287.57 71.51,287.65 71.56,287.65 72.28,287.63 72.33,287.43 73.05,287.41 73.10,287.20 73.82,287.18 73.87,287.06 74.59,287.14 74.64,287.36 75.36,287.32 75.41,287.23 76.13,287.09 76.18,287.30 76.90,287.51 76.95,287.59 77.67,287.54 77.72,287.26 78.44,287.12 78.49,286.90 79.21,287.11 79.26,287.03 79.98,287.05 80.03,286.88 80.75,287.01 80.80,287.08 81.52,287.24 81.57,287.33 82.29,287.40 82.34,287.33 83.06,287.19 83.11,287.17 83.83,287.20 83.88,287.07 84.60,286.91 84.65,286.75 85.37,286.76 85.42,286.81 86.14,286.77 86.19,286.81 86.91,286.81 86.96,286.89 87.68,286.80 87.73,286.86 88.45,286.88 88.50,287.06 89.22,286.93 89.27,286.93 89.99,286.66 90.04,286.77 90.76,286.72 90.81,286.70 91.53,286.36 91.59,286.59 92.30,286.70 92.36,287.06 93.07,286.89 93.13,286.87 93.84,286.65 93.90,286.34 94.61,286.42 94.67,286.40 95.38,286.54 95.44,286.41 96.16,286.49 96.21,286.44 96.93,286.64 96.98,286.66 97.70,286.75 98.47,287.61 98.98,288.17 99.24,287.72 100.01,283.52 100.78,280.66 101.55,284.24 102.32,290.80 102.98,293.73 103.09,293.83 103.81,292.33 103.86,292.10 104.63,292.21 105.40,292.47 106.17,292.74 106.94,292.86 107.71,292.95 108.02,292.99 108.48,292.86 109.25,292.95 110.02,292.76 110.79,292.74 111.00,292.57 111.56,292.82 112.33,293.86 113.10,294.61 113.51,294.80 113.87,294.70 114.64,293.67 115.41,292.68 115.82,292.32 116.18,292.43 116.95,292.76 117.72,293.55 118.49,294.28 119.26,295.13 120.03,295.86 120.80,296.61 121.57,297.23 121.98,297.46 122.34,297.55 122.75,297.43 123.11,297.44 123.52,297.49 123.88,297.55 124.30,297.43 124.65,297.51 125.07,297.38 125.42,297.52 125.84,297.42 126.19,297.59 126.61,297.53 126.97,297.47 127.38,297.31 127.74,297.41 128.15,297.51 128.51,297.59 128.92,297.54 129.28,297.72 129.69,297.65 130.05,297.69 130.46,297.45 130.82,297.62 131.23,297.38 131.59,297.53 132.00,297.48 132.36,297.58 132.77,297.50 133.13,297.74 133.54,297.90 133.90,298.05 134.31,297.84 134.67,297.93 135.08,297.97 135.44,298.07 135.85,297.82 136.21,297.50 136.62,297.53 136.98,297.66 137.39,297.83 137.75,297.94 138.16,297.99 138.52,298.15 138.93,297.99 139.29,297.94 139.70,297.87 140.06,297.87 140.47,297.87 140.83,298.00 141.24,298.14 141.60,298.32 142.01,298.25 142.37,298.04 142.78,297.97 143.14,297.86 143.55,298.00 143.91,298.07 144.32,298.15 144.68,298.14 145.09,298.24 145.45,298.36 145.86,298.43 146.22,298.44 146.63,298.43 146.99,298.50 147.40,298.29 147.76,298.29 148.17,298.05 148.53,298.27 148.94,298.28 149.30,298.50 149.71,298.35 150.07,298.51 150.48,298.42 150.84,298.43 151.25,298.25 151.61,298.33 152.02,298.57 152.38,298.58 152.79,298.69 153.15,298.47 153.56,298.55 153.92,298.54 154.33,298.72 154.69,298.72 155.11,298.63 155.46,298.44 155.88,298.40 156.23,298.49 156.65,298.55 157.00,298.68 157.42,298.53 157.78,298.62 158.19,298.66 158.55,298.87 158.96,298.85 159.32,298.77 159.73,298.74 160.09,298.67 160.50,298.73 160.86,298.73 161.27,298.88 161.63,298.97 162.04,299.09 162.40,299.05 162.81,298.96 163.17,298.93 163.58,298.91 163.94,299.00 164.35,299.02 164.71,299.11 165.12,298.83 165.48,298.86 165.89,298.97 166.25,299.26 166.66,299.15 167.02,299.02 167.43,298.77 167.79,298.64 168.20,298.58 168.56,298.82 168.97,298.93 169.33,299.05 169.74,298.94 170.10,299.20 170.51,299.22 170.87,299.25 171.28,299.01 171.64,299.02 172.05,299.19 172.41,299.14 172.82,299.21 173.18,299.22 173.59,299.30 173.95,299.28 174.36,299.14 174.72,299.14 175.13,299.07 175.49,299.17 175.90,299.34 176.26,299.47 176.67,299.41 177.03,299.28 177.44,299.24 177.80,299.42 178.21,299.56 178.57,299.53 178.98,299.46 179.34,299.43 179.75,299.50 180.11,299.51 180.52,299.36 180.88,299.34 181.29,299.28 181.65,299.25 182.06,299.19 182.42,299.35 182.83,299.61 183.19,299.72 183.60,299.52 183.96,299.47 184.37,299.46 184.73,299.63 185.14,299.67 185.50,299.47 185.92,299.34 186.27,299.44 186.69,299.74 187.04,299.76 187.46,299.76 187.81,299.69 188.23,299.87 188.59,299.60 189.00,299.54 189.36,299.45 189.77,299.62 190.13,299.70 190.54,299.69 190.90,299.75 191.31,299.76 191.67,299.63 192.08,299.67 192.44,299.63 192.85,299.72 192.95,299.60" fill="none" stroke="#f0341f" stroke-width="1.5" stroke-linejoin="round"/>
<polyline points="33.77,300.43 34.54,300.40 35.31,300.52 36.08,300.72 36.85,300.51 37.10,300.44 37.62,297.47 37.72,297.43 38.39,303.94 39.11,311.14 39.16,310.91 39.52,310.05 39.93,306.35 40.70,292.31 41.47,283.77 42.24,284.54 42.29,284.76 43.01,284.51 43.06,284.36 43.78,284.07 43.83,284.00 44.55,283.91 44.60,283.60 45.32,283.16 45.37,283.10 46.09,282.84 46.14,282.66 46.86,282.37 46.91,282.50 47.63,282.35 47.68,282.21 48.40,281.94 48.45,282.02 49.17,281.77 49.22,281.56 49.94,281.37 49.99,281.29 50.71,281.07 50.76,280.70 51.48,280.76 51.53,280.82 52.25,280.83 52.30,280.43 53.02,280.28 53.07,280.28 53.79,280.19 53.84,280.00 54.56,279.69 54.61,279.83 55.33,279.50 55.38,279.60 56.10,279.24 56.15,279.33 56.87,279.12 56.92,279.09 57.64,279.17 57.69,279.13 58.41,279.08 58.46,279.07 59.18,278.97 59.23,279.01 59.95,278.62 60.00,278.62 60.72,278.53 60.78,278.64 61.49,278.46 61.55,278.03 62.26,277.70 62.32,277.64 63.03,277.86 63.09,277.80 63.80,277.67 63.86,277.76 64.57,277.84 64.63,278.04 65.35,277.64 65.40,277.63 66.12,277.47 66.17,277.66 66.89,277.84 66.94,277.53 67.66,277.38 67.71,277.07 68.43,277.03 68.48,277.08 69.20,277.13 69.25,277.32 69.97,277.17 70.02,277.19 70.74,277.11 70.79,277.11 71.51,276.94 71.56,276.96 72.28,277.05 72.33,277.12 73.05,276.94 73.10,276.68 73.82,276.44 73.87,276.54 74.59,276.56 74.64,276.64 75.36,276.41 75.41,276.55 76.13,276.43 76.18,276.54 76.90,276.44 76.95,276.30 77.67,276.11 77.72,276.26 78.44,276.47 78.49,276.59 79.21,276.28 79.26,276.42 79.98,276.43 80.03,276.52 80.75,276.45 80.80,276.42 81.52,276.48 81.57,276.40 82.29,276.57 82.34,276.47 83.06,276.40 83.11,276.33 83.83,276.46 83.88,276.51 84.60,276.44 84.65,276.33 85.37,276.35 85.42,276.27 86.14,276.33 86.19,276.29 86.91,276.23 86.96,276.29 87.68,276.29 87.73,276.43 88.45,276.42 88.50,276.57 89.22,276.71 89.27,276.86 89.99,276.72 90.04,276.63 90.76,276.34 90.81,276.14 91.53,276.12 91.59,276.18 92.30,276.34 92.36,276.41 93.07,276.61 93.13,276.74 93.84,276.69 93.90,276.53 94.61,276.47 94.67,276.55 95.38,276.56 95.44,276.60 96.16,276.58 96.21,276.72 96.93,276.80 96.98,276.79 97.70,276.51 98.47,277.49 98.98,278.00 99.24,277.49 100.01,273.02 100.62,270.84 100.78,271.48 101.55,277.78 102.32,286.48 102.98,290.08 103.09,290.02 103.81,288.84 103.86,288.71 104.63,289.01 105.40,289.42 106.17,290.01 106.94,290.58 107.71,291.31 108.02,291.34 108.48,291.17 109.25,290.65 110.02,290.65 110.79,290.59 111.00,290.61 111.56,290.69 112.33,291.58 113.10,292.34 113.51,292.65 113.87,292.62 114.64,291.76 115.41,290.50 115.82,290.32 116.18,290.51 116.95,290.76 117.72,291.24 118.49,291.76 119.26,292.54 120.03,293.28 120.80,293.87 121.57,294.34 121.98,294.34 122.34,294.41 122.75,294.56 123.11,294.61 123.52,294.49 123.88,294.68 124.30,294.62 124.65,294.76 125.07,294.54 125.42,294.60 125.84,294.63 126.19,294.59 126.61,294.84 126.97,294.78 127.38,294.79 127.74,294.60 128.15,294.71 128.51,294.71 128.92,294.53 129.28,294.37 129.69,294.35 130.05,294.78 130.46,294.79 130.82,294.95 131.23,294.84 131.59,295.02 132.00,294.93 132.36,295.06 132.77,295.04 133.13,295.24 133.54,295.08 133.90,295.21 134.31,295.10 134.67,295.13 135.08,295.20 135.44,295.39 135.85,295.48 136.21,295.37 136.62,295.38 136.98,295.26 137.39,295.21 137.75,295.13 138.16,295.45 138.52,295.56 138.93,295.55 139.29,295.27 139.70,295.30 140.06,295.23 140.47,295.20 140.83,295.24 141.24,295.32 141.60,295.30 142.01,295.26 142.37,295.32 142.78,295.33 143.14,295.63 143.55,295.55 143.91,295.81 144.32,295.85 144.68,295.93 145.09,295.77 145.45,295.57 145.86,295.64 146.22,295.69 146.63,295.75 146.99,295.80 147.40,295.86 147.76,295.91 148.17,295.97 148.53,296.16 148.94,296.22 149.30,296.24 149.71,296.14 150.07,296.03 150.48,295.98 150.84,295.96 151.25,295.94 151.61,296.08 152.02,296.21 152.38,296.44 152.79,296.24 153.15,296.14 153.56,296.06 153.92,296.25 154.33,296.28 154.69,296.35 155.11,296.42 155.46,296.61 155.88,296.55 156.23,296.39 156.65,296.38 157.00,296.27 157.42,296.38 157.78,296.38 158.19,296.44 158.55,296.61 158.96,296.59 159.32,296.68 159.73,296.36 160.09,296.44 160.50,296.45 160.86,296.82 161.27,296.90 161.63,296.87 162.04,296.60 162.40,296.38 162.81,296.63 163.17,296.92 163.58,297.21 163.94,297.08 164.35,296.89 164.71,296.69 165.12,296.69 165.48,296.82 165.89,297.17 166.25,297.56 166.66,297.63 167.02,297.59 167.43,297.27 167.79,297.37 168.20,297.14 168.56,297.22 168.97,297.22 169.33,297.33 169.74,297.18 170.10,297.15 170.51,297.01 170.87,297.27 171.28,297.38 171.64,297.57 172.05,297.47 172.41,297.30 172.82,297.29 173.18,297.31 173.59,297.54 173.95,297.42 174.36,297.48 174.72,297.32 175.13,297.45 175.49,297.22 175.90,297.44 176.26,297.47 176.67,297.55 177.03,297.62 177.44,297.69 177.80,297.86 178.21,297.63 178.57,297.72 178.98,297.65 179.34,297.81 179.75,297.57 180.11,297.68 180.52,297.70 180.88,297.71 181.29,297.69 181.65,297.53 182.06,297.59 182.42,297.67 182.83,297.80 183.19,297.86 183.60,297.69 183.96,297.61 184.37,297.73 184.73,297.71 185.14,297.85 185.50,297.85 185.92,298.08 186.27,298.03 186.69,297.96 187.04,297.89 187.46,297.98 187.81,298.11 188.23,298.10 188.59,297.94 189.00,297.97 189.36,297.96 189.77,298.08 190.13,297.96 190.54,298.06 190.90,298.03 191.31,298.13 191.67,298.16 192.08,298.27 192.44,298.23 192.85,298.29 192.95,298.29" fill="none" stroke="#25e39a" stroke-width="1.5" stroke-linejoin="round"/>
<polyline points="33.77,300.49 34.54,300.48 35.31,300.41 36.08,300.39 36.85,300.40 37.10,300.57 37.62,297.53 37.72,297.34 38.39,303.70 39.11,310.98 39.16,311.09 39.52,310.15 39.93,305.54 40.70,287.14 41.47,276.10 42.24,277.10 42.29,276.91 43.01,275.94 43.06,276.06 43.78,275.56 43.83,275.75 44.55,275.06 44.60,275.15 45.32,274.64 45.37,274.56 46.09,273.82 46.14,273.80 46.86,273.16 46.91,273.15 47.63,272.56 47.68,272.76 48.40,272.59 48.45,272.56 49.17,272.01 49.22,271.66 49.94,271.33 49.99,271.37 50.71,271.09 50.76,270.98 51.48,270.68 51.53,270.66 52.25,270.44 52.30,270.31 53.02,269.76 53.07,269.79 53.79,269.29 53.84,269.46 54.56,269.14 54.61,269.41 55.33,269.08 55.38,268.90 56.10,268.71 56.15,268.79 56.87,268.76 56.92,268.71 57.64,268.58 57.69,268.50 58.41,268.18 58.46,268.03 59.18,267.94 59.23,267.98 59.95,267.74 60.00,267.63 60.72,267.39 60.78,267.49 61.49,267.30 61.55,267.32 62.26,267.22 62.32,267.30 63.03,267.29 63.09,267.21 63.80,267.09 63.86,267.01 64.57,266.91 64.63,266.94 65.35,266.78 65.40,266.88 66.12,266.72 66.17,266.99 66.89,266.88 66.94,266.81 67.66,266.52 67.71,266.39 68.43,266.46 68.48,266.58 69.20,266.63 69.25,266.53 69.97,266.35 70.02,266.07 70.74,265.82 70.79,265.69 71.51,265.87 71.56,266.04 72.28,266.11 72.33,266.07 73.05,266.06 73.10,266.01 73.82,265.93 73.87,265.90 74.59,266.03 74.64,266.05 75.36,265.94 75.41,265.70 76.13,265.73 76.18,265.77 76.90,265.78 76.95,265.77 77.67,265.75 77.72,265.71 78.44,265.55 78.49,265.39 79.21,265.46 79.26,265.43 79.98,265.53 80.03,265.42 80.75,265.46 80.80,265.46 81.52,265.45 81.57,265.17 82.29,265.07 82.34,265.10 83.06,265.17 83.11,265.39 83.83,265.34 83.88,265.31 84.60,265.38 84.65,265.30 85.37,265.39 85.42,265.27 86.14,265.28 86.19,265.44 86.91,265.28 86.96,265.36 87.68,265.13 87.73,265.34 88.45,265.27 88.50,265.28 89.22,265.25 89.27,265.15 89.99,265.33 90.04,265.03 90.76,264.98 90.81,264.95 91.53,264.99 91.59,265.15 92.30,265.03 92.36,265.15 93.07,265.35 93.13,265.39 93.84,265.44 93.90,265.22 94.61,265.43 94.67,265.40 95.38,265.35 95.44,265.20 96.16,265.14 96.21,265.19 96.93,265.14 96.98,265.17 97.70,265.14 98.47,265.66 98.72,265.70 99.24,263.70 100.01,257.11 100.52,255.10 100.78,256.10 101.55,267.10 102.32,281.22 102.98,286.97 103.09,287.13 103.81,285.81 103.86,285.73 104.63,285.52 105.40,285.96 106.17,286.43 106.94,287.10 107.71,287.67 108.02,287.86 108.48,287.92 109.25,287.88 110.02,287.80 110.79,287.99 111.00,288.03 111.56,288.41 112.33,289.16 113.10,289.56 113.51,289.73 113.87,289.53 114.64,288.91 115.41,288.13 115.82,287.98 116.18,287.95 116.95,288.22 117.72,288.67 118.49,289.45 119.26,290.38 120.03,291.26 120.80,291.94 121.57,292.15 121.98,292.37 122.34,292.43 122.75,292.58 123.11,292.68 123.52,292.68 123.88,292.67 124.30,292.78 124.65,292.75 125.07,292.90 125.42,292.76 125.84,292.73 126.19,292.68 126.61,292.66 126.97,292.83 127.38,292.77 127.74,292.82 128.15,292.99 128.51,293.03 128.92,293.23 129.28,292.96 129.69,293.21 130.05,293.07 130.46,293.11 130.82,293.07 131.23,293.12 131.59,293.20 132.00,293.38 132.36,293.27 132.77,293.38 133.13,293.19 133.54,293.39 133.90,293.31 134.31,293.38 134.67,293.55 135.08,293.58 135.44,293.84 135.85,293.67 136.21,293.95 136.62,293.65 136.98,293.71 137.39,293.57 137.75,293.75 138.16,293.84 138.52,293.95 138.93,293.87 139.29,293.85 139.70,293.71 140.06,293.89 140.47,294.03 140.83,294.20 141.24,294.34 141.60,294.43 142.01,294.38 142.37,294.09 142.78,294.03 143.14,294.17 143.55,294.18 143.91,294.34 144.32,294.20 144.68,294.54 145.09,294.34 145.45,294.46 145.86,294.27 146.22,294.32 146.63,294.38 146.99,294.49 147.40,294.59 147.76,294.47 148.17,294.58 148.53,294.45 148.94,294.60 149.30,294.64 149.71,294.64 150.07,294.76 150.48,294.78 150.84,294.94 151.25,294.83 151.61,294.64 152.02,294.55 152.38,294.65 152.79,294.80 153.15,294.96 153.56,295.11 153.92,295.15 154.33,295.33 154.69,295.19 155.11,295.29 155.46,295.20 155.88,295.16 156.23,295.05 156.65,294.89 157.00,295.11 157.42,295.15 157.78,295.17 158.19,295.17 158.55,295.33 158.96,295.53 159.32,295.40 159.73,295.43 160.09,295.32 160.50,295.45 160.86,295.68 161.27,295.74 161.63,295.69 162.04,295.39 162.40,295.29 162.81,295.34 163.17,295.42 163.58,295.57 163.94,295.66 164.35,295.67 164.71,295.76 165.12,295.66 165.48,295.70 165.89,295.73 166.25,295.90 166.66,295.71 167.02,295.64 167.43,295.46 167.79,295.52 168.20,295.49 168.56,295.59 168.97,295.73 169.33,295.57 169.74,295.67 170.10,295.73 170.51,295.93 170.87,295.81 171.28,295.69 171.64,295.96 172.05,296.11 172.41,296.23 172.82,296.21 173.18,295.94 173.59,296.01 173.95,295.99 174.36,296.22 174.72,296.14 175.13,295.92 175.49,295.88 175.90,295.97 176.26,296.10 176.67,296.09 177.03,296.09 177.44,296.00 177.80,296.11 178.21,296.24 178.57,296.35 178.98,296.26 179.34,296.33 179.75,296.40 180.11,296.63 180.52,296.52 180.88,296.58 181.29,296.54 181.65,296.49 182.06,296.49 182.42,296.49 182.83,296.56 183.19,296.52 183.60,296.54 183.96,296.52 184.37,296.55 184.73,296.43 185.14,296.65 185.50,296.64 185.92,296.90 186.27,296.66 186.69,296.64 187.04,296.41 187.46,296.47 187.81,296.69 188.23,296.79 188.59,296.89 189.00,296.69 189.36,296.65 189.77,296.51 190.13,296.64 190.54,296.84 190.90,296.91 191.31,296.89 191.67,296.61 192.08,296.60 192.44,296.59 192.85,296.90 192.95,297.00" fill="none" stroke="#86d3f2" stroke-width="1.5" stroke-linejoin="round"/>
<polyline points="33.77,300.58 34.54,300.61 35.31,300.65 36.08,300.43 36.85,300.20 37.10,300.12 37.62,297.20 37.72,297.11 38.39,303.76 39.11,311.09 39.16,311.03 39.52,310.25 39.93,304.55 40.70,281.68 41.47,267.66 42.24,269.36 42.29,269.52 43.01,268.44 43.06,268.27 43.78,267.41 43.83,267.43 44.55,266.76 44.60,266.75 45.32,266.16 45.37,266.14 46.09,265.08 46.14,265.14 46.86,264.78 46.91,265.02 47.63,264.47 47.68,264.29 48.40,263.69 48.45,263.61 49.17,263.08 49.22,263.17 49.94,262.71 49.99,262.48 50.71,262.09 50.76,261.92 51.48,261.40 51.53,261.10 52.25,260.91 52.30,261.08 53.02,260.92 53.07,260.58 53.79,260.20 53.84,260.23 54.56,259.81 54.61,259.61 55.33,259.17 55.38,259.50 56.10,259.33 56.15,259.46 56.87,258.75 56.92,258.67 57.64,258.21 57.69,258.30 58.41,258.02 58.46,258.15 59.18,257.93 59.23,257.95 59.95,257.85 60.00,257.77 60.72,257.54 60.78,257.28 61.49,257.13 61.55,257.24 62.26,256.93 62.32,257.01 63.03,256.87 63.09,256.75 63.80,256.46 63.86,256.31 64.57,256.32 64.63,256.34 65.35,256.04 65.40,255.99 66.12,255.76 66.17,255.96 66.89,255.97 66.94,256.08 67.66,255.84 67.71,255.76 68.43,255.75 68.48,255.82 69.20,255.61 69.25,255.44 69.97,255.42 70.02,255.42 70.74,255.36 70.79,255.20 71.51,255.10 71.56,255.11 72.28,254.89 72.33,255.03 73.05,255.07 73.10,255.21 73.82,255.04 73.87,255.05 74.59,254.96 74.64,254.98 75.36,254.92 75.41,255.00 76.13,254.86 76.18,254.65 76.90,254.68 76.95,254.71 77.67,254.75 77.72,254.43 78.44,254.48 78.49,254.42 79.21,254.75 79.26,254.62 79.98,254.65 80.03,254.55 80.75,254.68 80.80,254.69 81.52,254.66 81.57,254.55 82.29,254.56 82.34,254.53 83.06,254.28 83.11,254.23 83.83,254.14 83.88,254.40 84.60,254.39 84.65,254.42 85.37,254.57 85.42,254.49 86.14,254.47 86.19,254.32 86.91,254.50 86.96,254.43 87.68,254.58 87.73,254.48 88.45,254.64 88.50,254.64 89.22,254.48 89.27,254.27 89.99,254.00 90.04,254.16 90.76,254.39 90.81,254.50 91.53,254.51 91.59,254.61 92.30,254.51 92.36,254.42 93.07,254.31 93.13,254.53 93.84,254.63 93.90,254.55 94.61,254.24 94.67,254.20 95.38,254.33 95.44,254.48 96.16,254.66 96.21,254.66 96.93,254.69 96.98,254.59 97.70,254.65 98.47,254.79 98.72,254.82 99.24,252.39 100.01,245.47 100.42,243.80 100.78,245.86 101.55,260.23 102.32,277.11 102.98,283.65 103.09,283.42 103.81,282.27 103.86,282.51 104.63,282.71 105.40,282.88 106.17,283.30 106.94,283.71 107.71,284.16 108.02,284.33 108.48,284.76 109.25,285.09 110.02,285.38 110.79,285.41 111.00,285.62 111.56,286.05 112.33,286.71 113.10,287.31 113.51,287.25 113.87,287.37 114.64,286.41 115.41,285.71 115.82,285.54 116.18,285.40 116.95,285.55 117.72,286.18 118.49,287.02 119.26,288.00 120.03,288.81 120.80,289.48 121.57,289.92 121.98,289.99 122.34,290.15 122.75,290.31 123.11,290.32 123.52,290.46 123.88,290.28 124.30,290.36 124.65,290.19 125.07,290.30 125.42,290.47 125.84,290.76 126.19,290.93 126.61,291.02 126.97,290.88 127.38,291.04 127.74,290.94 128.15,291.12 128.51,290.96 128.92,291.02 129.28,290.98 129.69,290.97 130.05,291.17 130.46,291.32 130.82,291.60 131.23,291.60 131.59,291.61 132.00,291.49 132.36,291.45 132.77,291.37 133.13,291.32 133.54,291.48 133.90,291.66 134.31,291.87 134.67,291.88 135.08,291.80 135.44,291.65 135.85,291.59 136.21,291.69 136.62,291.96 136.98,292.12 137.39,292.23 137.75,292.41 138.16,292.37 138.52,292.41 138.93,292.04 139.29,292.13 139.70,292.32 140.06,292.52 140.47,292.56 140.83,292.41 141.24,292.57 141.60,292.58 142.01,292.83 142.37,292.71 142.78,292.77 143.14,292.85 143.55,292.86 143.91,292.77 144.32,292.47 144.68,292.50 145.09,292.70 145.45,292.92 145.86,292.97 146.22,292.83 146.63,292.52 146.99,292.57 147.40,292.89 147.76,293.22 148.17,293.21 148.53,293.00 148.94,292.90 149.30,293.10 149.71,293.24 150.07,293.30 150.48,293.21 150.84,293.15 151.25,293.31 151.61,293.43 152.02,293.45 152.38,293.33 152.79,293.44 153.15,293.50 153.56,293.56 153.92,293.43 154.33,293.45 154.69,293.54 155.11,293.67 155.46,293.62 155.88,293.76 156.23,293.69 156.65,293.94 157.00,293.91 157.42,293.98 157.78,293.99 158.19,293.95 158.55,293.88 158.96,293.68 159.32,293.76 159.73,293.84 160.09,294.03 160.50,294.12 160.86,294.23 161.27,294.01 161.63,294.02 162.04,294.05 162.40,294.31 162.81,294.13 163.17,294.09 163.58,294.13 163.94,294.31 164.35,294.32 164.71,294.27 165.12,294.41 165.48,294.44 165.89,294.47 166.25,294.28 166.66,294.35 167.02,294.34 167.43,294.51 167.79,294.47 168.20,294.27 168.56,294.13 168.97,294.26 169.33,294.49 169.74,294.46 170.10,294.31 170.51,294.43 170.87,294.53 171.28,294.60 171.64,294.27 172.05,294.48 172.41,294.57 172.82,294.93 173.18,294.79 173.59,294.77 173.95,294.65 174.36,294.76 174.72,294.80 175.13,295.03 175.49,294.86 175.90,294.68 176.26,294.70 176.67,294.79 177.03,295.03 177.44,295.04 177.80,295.09 178.21,295.07 178.57,295.12 178.98,295.02 179.34,295.12 179.75,295.23 180.11,295.30 180.52,295.26 180.88,294.99 181.29,295.02 181.65,294.98 182.06,295.02 182.42,295.15 182.83,295.05 183.19,295.02 183.60,294.80 183.96,295.03 184.37,295.13 184.73,295.24 185.14,295.32 185.50,295.28 185.92,295.27 186.27,295.10 186.69,295.15 187.04,295.11 187.46,295.12 187.81,295.12 188.23,295.16 188.59,295.24 189.00,295.33 189.36,295.34 189.77,295.35 190.13,295.29 190.54,295.53 190.90,295.51 191.31,295.72 191.67,295.65 192.08,295.71 192.44,295.31 192.85,295.29 192.95,295.20" fill="none" stroke="#1f40ee" stroke-width="1.5" stroke-linejoin="round"/>
<polyline points="33.77,300.23 34.54,300.26 35.31,300.25 36.08,300.48 36.85,300.42 37.10,300.45 37.62,297.41 37.72,296.95 38.39,303.87 39.11,311.22 39.16,311.51 39.52,310.37 39.93,303.71 40.70,276.92 41.47,260.17 42.24,262.44 42.29,262.26 43.01,261.45 43.06,261.38 43.78,260.54 43.83,260.55 44.55,259.72 44.60,259.70 45.32,258.83 45.37,258.62 46.09,257.96 46.14,258.10 46.86,257.61 46.91,257.53 47.63,256.84 47.68,256.79 48.40,256.31 48.45,256.37 49.17,255.80 49.22,255.65 49.94,255.07 49.99,255.06 50.71,254.62 50.76,254.59 51.48,254.06 51.53,253.86 52.25,253.07 52.30,252.94 53.02,252.51 53.07,252.68 53.79,252.16 53.84,252.28 54.56,251.80 54.61,251.68 55.33,251.24 55.38,251.25 56.10,251.01 56.15,250.98 56.87,250.49 56.92,250.47 57.64,249.87 57.69,249.92 58.41,249.59 58.46,249.79 59.18,249.56 59.23,249.41 59.95,249.03 60.00,248.73 60.72,248.49 60.78,248.40 61.49,248.22 61.55,248.33 62.26,248.03 62.32,248.03 63.03,247.71 63.09,247.78 63.80,247.51 63.86,247.38 64.57,247.08 64.63,247.06 65.35,246.76 65.40,246.81 66.12,246.68 66.17,246.82 66.89,246.57 66.94,246.58 67.66,246.48 67.71,246.62 68.43,246.26 68.48,246.11 69.20,245.70 69.25,245.77 69.97,245.63 70.02,245.59 70.74,245.36 70.79,245.15 71.51,245.28 71.56,245.46 72.28,245.51 72.33,245.58 73.05,245.37 73.10,245.49 73.82,245.25 73.87,245.40 74.59,245.11 74.64,244.99 75.36,244.92 75.41,245.19 76.13,245.05 76.18,244.81 76.90,244.59 76.95,244.51 77.67,244.51 77.72,244.48 78.44,244.52 78.49,244.58 79.21,244.62 79.26,244.60 79.98,244.53 80.03,244.45 80.75,244.39 80.80,244.34 81.52,244.40 81.57,244.45 82.29,244.46 82.34,244.34 83.06,244.42 83.11,244.26 83.83,244.24 83.88,244.02 84.60,244.06 84.65,244.07 85.37,244.09 85.42,244.02 86.14,244.01 86.19,244.22 86.91,244.34 86.96,244.34 87.68,244.42 87.73,244.20 88.45,244.34 88.50,244.10 89.22,244.35 89.27,244.24 89.99,244.38 90.04,244.40 90.76,244.59 90.81,244.74 91.53,244.65 91.59,244.51 92.30,244.24 92.36,244.35 93.07,244.39 93.13,244.56 93.84,244.64 93.90,244.75 94.61,244.80 94.67,244.71 95.38,244.57 95.44,244.62 96.16,244.66 96.21,244.72 96.93,244.71 96.98,245.11 97.70,245.24 98.47,245.42 98.72,245.22 99.24,243.21 100.01,237.94 100.42,236.60 100.78,239.06 101.55,254.66 102.32,273.53 102.98,280.99 103.09,281.11 103.81,279.71 103.86,279.69 104.63,279.84 105.40,280.26 106.17,280.84 106.94,281.29 107.71,281.98 108.02,282.12 108.48,282.63 109.25,282.98 110.02,283.55 110.79,283.77 111.00,283.91 111.56,284.06 112.33,284.88 113.10,285.27 113.51,285.60 113.87,285.36 114.64,284.58 115.41,283.51 115.82,283.41 116.18,283.11 116.95,283.53 117.72,284.34 118.49,285.02 119.26,285.63 120.03,286.07 120.80,286.77 121.57,287.20 121.98,287.35 122.34,287.69 122.75,287.74 123.11,287.80 123.52,287.87 123.88,288.08 124.30,288.13 124.65,288.12 125.07,288.19 125.42,288.10 125.84,288.11 126.19,288.01 126.61,288.15 126.97,288.36 127.38,288.53 127.74,288.68 128.15,288.82 128.51,288.98 128.92,289.16 129.28,288.81 129.69,288.92 130.05,288.82 130.46,289.03 130.82,289.03 131.23,289.15 131.59,289.37 132.00,289.36 132.36,289.20 132.77,289.11 133.13,289.10 133.54,289.49 133.90,289.53 134.31,289.75 134.67,289.72 135.08,289.86 135.44,289.68 135.85,289.86 136.21,289.70 136.62,290.07 136.98,289.95 137.39,290.41 137.75,290.53 138.16,290.43 138.52,290.30 138.93,290.24 139.29,290.24 139.70,290.34 140.06,290.30 140.47,290.47 140.83,290.39 141.24,290.41 141.60,290.53 142.01,290.61 142.37,290.79 142.78,290.70 143.14,290.76 143.55,290.70 143.91,290.79 144.32,290.83 144.68,291.05 145.09,291.39 145.45,291.37 145.86,291.18 146.22,291.04 146.63,291.15 146.99,291.30 147.40,291.27 147.76,291.14 148.17,291.14 148.53,291.08 148.94,291.30 149.30,291.30 149.71,291.59 150.07,291.63 150.48,291.63 150.84,291.57 151.25,291.59 151.61,291.64 152.02,291.78 152.38,291.98 152.79,291.93 153.15,291.94 153.56,291.68 153.92,291.96 154.33,291.84 154.69,292.05 155.11,291.86 155.46,291.86 155.88,291.81 156.23,291.93 156.65,292.10 157.00,292.17 157.42,292.30 157.78,292.26 158.19,292.24 158.55,292.25 158.96,292.28 159.32,292.33 159.73,292.27 160.09,292.33 160.50,292.33 160.86,292.46 161.27,292.51 161.63,292.57 162.04,292.42 162.40,292.27 162.81,292.28 163.17,292.42 163.58,292.54 163.94,292.55 164.35,292.30 164.71,292.27 165.12,292.17 165.48,292.39 165.89,292.47 166.25,292.63 166.66,292.58 167.02,292.59 167.43,292.62 167.79,292.67 168.20,292.66 168.56,292.61 168.97,292.47 169.33,292.64 169.74,292.68 170.10,292.99 170.51,292.84 170.87,292.87 171.28,292.92 171.64,293.03 172.05,293.10 172.41,293.15 172.82,293.17 173.18,293.29 173.59,293.35 173.95,293.20 174.36,293.33 174.72,292.98 175.13,293.13 175.49,293.00 175.90,293.13 176.26,292.95 176.67,292.89 177.03,292.95 177.44,293.18 177.80,293.08 178.21,293.16 178.57,293.20 178.98,293.35 179.34,293.32 179.75,293.42 180.11,293.41 180.52,293.33 180.88,292.95 181.29,293.06 181.65,293.19 182.06,293.49 182.42,293.55 182.83,293.58 183.19,293.63 183.60,293.46 183.96,293.52 184.37,293.32 184.73,293.33 185.14,293.37 185.50,293.56 185.92,293.56 186.27,293.41 186.69,293.19 187.04,293.27 187.46,293.48 187.81,293.58 188.23,293.46 188.59,293.20 189.00,293.43 189.36,293.52 189.77,293.60 190.13,293.51 190.54,293.59 190.90,293.50 191.31,293.37 191.67,293.43 192.08,293.53 192.44,293.55 192.85,293.50 192.95,293.66" fill="none" stroke="#f2ee1c" stroke-width="1.5" stroke-linejoin="round"/>
<polyline points="33.77,300.68 34.54,300.51 35.31,300.47 36.08,300.47 36.85,300.46 37.10,300.39 37.62,297.34 37.72,296.94 38.39,303.44 39.11,310.98 39.16,311.05 39.52,310.25 39.93,302.52 40.70,269.73 41.47,249.49 42.24,252.08 42.29,252.10 43.01,251.00 43.06,250.82 43.78,249.99 43.83,249.95 44.55,249.12 44.60,249.11 45.32,248.12 45.37,247.86 46.09,246.77 46.14,246.81 46.86,245.86 46.91,246.02 47.63,245.15 47.68,245.16 48.40,244.20 48.45,244.11 49.17,243.54 49.22,243.59 49.94,242.89 49.99,242.68 50.71,241.96 50.76,242.25 51.48,241.59 51.53,241.59 52.25,240.80 52.30,241.12 53.02,240.60 53.07,240.88 53.79,240.13 53.84,240.12 54.56,239.39 54.61,239.53 55.33,239.05 55.38,239.05 56.10,238.70 56.15,238.67 56.87,238.27 56.92,238.22 57.64,237.77 57.69,237.85 58.41,237.42 58.46,237.68 59.18,237.37 59.23,237.23 59.95,236.49 60.00,236.35 60.72,236.12 60.78,236.36 61.49,235.91 61.55,235.62 62.26,235.28 62.32,235.38 63.03,235.26 63.09,235.21 63.80,234.98 63.86,235.06 64.57,234.99 64.63,234.94 65.35,234.88 65.40,234.63 66.12,234.30 66.17,234.36 66.89,234.53 66.94,234.76 67.66,234.39 67.71,234.07 68.43,233.86 68.48,233.73 69.20,233.86 69.25,233.84 69.97,233.83 70.02,233.77 70.74,233.71 70.79,233.62 71.51,233.36 71.56,233.16 72.28,233.32 72.33,233.19 73.05,233.00 73.10,232.56 73.82,232.63 73.87,232.88 74.59,232.96 74.64,232.93 75.36,232.68 75.41,232.98 76.13,232.96 76.18,233.03 76.90,232.84 76.95,232.90 77.67,232.69 77.72,232.52 78.44,232.47 78.49,232.47 79.21,232.52 79.26,232.51 79.98,232.74 80.03,232.76 80.75,232.58 80.80,232.50 81.52,232.38 81.57,232.48 82.29,232.40 82.34,232.50 83.06,232.40 83.11,232.57 83.83,232.37 83.88,232.33 84.60,232.23 84.65,232.32 85.37,232.45 85.42,232.46 86.14,232.46 86.19,232.29 86.91,232.43 86.96,232.49 87.68,232.52 87.73,232.47 88.45,232.58 88.50,232.55 89.22,232.50 89.27,232.17 89.99,232.20 90.04,232.14 90.76,232.36 90.81,232.46 91.53,232.52 91.59,232.56 92.30,232.72 92.36,232.74 93.07,232.70 93.13,232.66 93.84,232.76 93.90,232.88 94.61,232.63 94.67,232.38 95.38,232.27 95.44,232.50 96.16,232.58 96.21,232.83 96.93,232.74 96.98,232.83 97.70,232.46 98.47,232.45 98.72,232.50 99.24,231.27 100.01,227.31 100.42,226.26 100.78,228.91 101.55,245.99 102.32,266.29 102.98,274.45 103.09,274.32 103.81,273.14 103.86,273.16 104.63,273.55 105.40,273.93 106.17,274.51 106.94,275.47 107.71,276.12 108.02,276.32 108.48,276.41 109.25,276.39 110.02,276.57 110.79,276.62 111.00,276.62 111.56,276.97 112.33,278.36 113.10,279.52 113.51,279.95 113.87,279.68 114.64,278.87 115.41,277.86 115.82,277.86 116.18,278.09 116.95,278.47 117.72,278.96 118.49,279.88 119.26,281.19 120.03,282.47 120.80,283.50 121.57,283.76 121.98,283.80 122.34,283.63 122.75,284.02 123.11,284.29 123.52,284.52 123.88,284.38 124.30,284.29 124.65,284.27 125.07,284.20 125.42,284.34 125.84,284.21 126.19,284.30 126.61,284.33 126.97,284.53 127.38,284.45 127.74,284.35 128.15,284.49 128.51,284.74 128.92,284.86 129.28,284.71 129.69,284.82 130.05,284.74 130.46,284.89 130.82,284.93 131.23,284.95 131.59,284.92 132.00,285.09 132.36,285.22 132.77,285.30 133.13,285.13 133.54,285.07 133.90,285.26 134.31,285.28 134.67,285.48 135.08,285.29 135.44,285.48 135.85,285.47 136.21,285.43 136.62,285.39 136.98,285.37 137.39,285.83 137.75,285.98 138.16,286.21 138.52,286.02 138.93,285.97 139.29,285.83 139.70,285.96 140.06,285.78 140.47,285.68 140.83,285.67 141.24,285.83 141.60,285.88 142.01,285.89 142.37,285.97 142.78,286.09 143.14,285.97 143.55,286.01 143.91,286.16 144.32,286.27 144.68,286.34 145.09,286.25 145.45,286.36 145.86,286.43 146.22,286.66 146.63,286.50 146.99,286.54 147.40,286.63 147.76,286.78 148.17,286.83 148.53,286.68 148.94,286.78 149.30,286.75 149.71,286.85 150.07,286.84 150.48,286.90 150.84,287.03 151.25,287.07 151.61,287.04 152.02,287.15 152.38,287.25 152.79,287.31 153.15,287.09 153.56,286.92 153.92,286.88 154.33,286.92 154.69,287.11 155.11,287.20 155.46,287.31 155.88,287.30 156.23,287.57 156.65,287.61 157.00,287.53 157.42,287.42 157.78,287.57 158.19,287.83 158.55,287.82 158.96,287.61 159.32,287.78 159.73,287.82 160.09,287.83 160.50,287.62 160.86,287.71 161.27,287.74 161.63,287.80 162.04,287.75 162.40,287.90 162.81,287.99 163.17,287.91 163.58,287.84 163.94,287.79 164.35,287.84 164.71,287.98 165.12,288.06 165.48,288.15 165.89,288.22 166.25,288.21 166.66,288.27 167.02,288.12 167.43,288.30 167.79,288.36 168.20,288.46 168.56,288.39 168.97,288.40 169.33,288.50 169.74,288.47 170.10,288.46 170.51,288.57 170.87,288.63 171.28,288.78 171.64,288.77 172.05,288.83 172.41,288.91 172.82,288.91 173.18,288.85 173.59,288.70 173.95,288.70 174.36,288.66 174.72,288.68 175.13,288.69 175.49,288.68 175.90,288.73 176.26,288.85 176.67,288.90 177.03,288.92 177.44,289.03 177.80,289.17 178.21,289.31 178.57,289.14 178.98,289.15 179.34,289.26 179.75,289.43 180.11,289.31 180.52,289.15 180.88,289.05 181.29,289.22 181.65,289.24 182.06,289.17 182.42,289.12 182.83,289.19 183.19,289.32 183.60,289.23 183.96,289.16 184.37,289.20 184.73,289.22 185.14,289.40 185.50,289.63 185.92,289.83 186.27,289.72 186.69,289.49 187.04,289.62 187.46,289.67 187.81,289.76 188.23,289.53 188.59,289.45 189.00,289.41 189.36,289.63 189.77,289.70 190.13,289.73 190.54,289.66 190.90,289.70 191.31,289.62 191.67,289.73 192.08,289.90 192.44,290.00 192.85,289.87 192.95,289.74" fill="none" stroke="#ff86f0" stroke-width="1.5" stroke-linejoin="round"/>
<polyline points="33.77,300.21 34.54,300.20 35.31,300.23 36.08,300.25 36.85,300.08 37.10,300.36 37.62,297.41 37.72,297.32 38.39,303.83 39.11,311.18 39.16,311.32 39.52,310.48 39.93,301.60 40.70,264.82 41.47,241.84 42.24,246.77 42.29,246.68 43.01,245.48 43.06,245.31 43.78,244.26 43.83,244.14 44.55,243.21 44.60,243.06 45.32,242.33 45.37,242.38 46.09,241.59 46.14,241.48 46.86,240.67 46.91,240.68 47.63,239.98 47.68,239.88 48.40,239.09 48.45,239.17 49.17,238.60 49.22,238.58 49.94,237.83 49.99,237.76 50.71,237.12 50.76,237.09 51.48,236.43 51.53,236.60 52.25,235.85 52.30,235.93 53.02,235.31 53.07,235.20 53.79,234.48 53.84,234.37 54.56,234.15 54.61,234.30 55.33,234.03 55.38,234.02 56.10,233.79 56.15,233.57 56.87,233.05 56.92,232.86 57.64,232.49 57.69,232.63 58.41,232.18 58.46,232.12 59.18,231.50 59.23,231.39 59.95,231.16 60.00,231.28 60.72,230.82 60.78,230.90 61.49,230.42 61.55,230.77 62.26,230.38 62.32,230.40 63.03,229.95 63.09,229.92 63.80,229.64 63.86,229.50 64.57,229.23 64.63,229.27 65.35,228.93 65.40,228.86 66.12,228.62 66.17,228.77 66.89,228.53 66.94,228.52 67.66,228.39 67.71,228.37 68.43,228.30 68.48,228.28 69.20,228.20 69.25,228.10 69.97,227.85 70.02,227.84 70.74,227.70 70.79,227.69 71.51,227.57 71.56,227.49 72.28,227.51 72.33,227.32 73.05,227.22 73.10,227.13 73.82,227.14 73.87,227.20 74.59,226.88 74.64,226.88 75.36,226.67 75.41,226.82 76.13,226.73 76.18,226.87 76.90,226.76 76.95,226.61 77.67,226.40 77.72,226.61 78.44,226.64 78.49,226.74 79.21,226.52 79.26,226.58 79.98,226.62 80.03,226.66 80.75,226.70 80.80,226.46 81.52,226.46 81.57,226.32 82.29,226.33 82.34,226.10 83.06,226.08 83.11,226.32 83.83,226.68 83.88,226.85 84.60,226.69 84.65,226.59 85.37,226.37 85.42,226.43 86.14,226.50 86.19,226.46 86.91,226.43 86.96,226.27 87.68,226.48 87.73,226.45 88.45,226.38 88.50,226.32 89.22,226.47 89.27,226.46 89.99,226.40 90.04,226.39 90.76,226.72 90.81,226.79 91.53,226.63 91.59,226.39 92.30,226.51 92.36,226.62 93.07,226.68 93.13,226.58 93.84,226.74 93.90,226.85 94.61,226.83 94.67,226.61 95.38,226.68 95.44,226.79 96.16,226.96 96.21,226.89 96.93,227.18 96.98,227.09 97.70,227.14 98.47,226.90 99.18,226.59 99.24,226.71 100.01,218.38 100.52,214.56 100.78,217.79 101.03,224.01 101.55,240.58 102.32,272.78 103.09,292.30 103.19,292.67 103.81,274.07 103.86,274.22 104.63,274.39 105.40,274.88 106.17,275.53 106.94,276.42 107.71,277.16 108.02,277.57 108.48,277.82 109.25,278.19 110.02,278.19 110.79,278.48 111.00,278.37 111.56,279.04 112.33,280.10 113.10,281.31 113.51,281.38 113.87,281.04 114.64,279.80 115.41,278.74 115.82,278.56 116.18,278.69 116.95,279.19 117.72,279.96 118.49,280.90 119.26,282.03 120.03,283.39 120.80,284.45 121.57,285.09 121.98,285.14 122.34,285.26 122.75,285.29 123.11,285.14 123.52,284.91 123.88,284.93 124.30,285.02 124.65,285.01 125.07,285.02 125.42,285.16 125.84,285.30 126.19,285.26 126.61,285.27 126.97,285.22 127.38,285.33 127.74,285.33 128.15,285.43 128.51,285.47 128.92,285.48 129.28,285.67 129.69,285.74 130.05,285.92 130.46,285.81 130.82,286.10 131.23,286.13 131.59,286.25 132.00,286.09 132.36,286.05 132.77,286.19 133.13,286.04 133.54,286.20 133.90,286.14 134.31,286.30 134.67,286.15 135.08,286.26 135.44,286.27 135.85,286.48 136.21,286.44 136.62,286.46 136.98,286.49 137.39,286.57 137.75,286.73 138.16,286.58 138.52,286.48 138.93,286.30 139.29,286.35 139.70,286.50 140.06,286.82 140.47,287.00 140.83,286.91 141.24,286.84 141.60,286.82 142.01,287.01 142.37,287.09 142.78,287.11 143.14,287.08 143.55,287.06 143.91,286.97 144.32,287.17 144.68,287.16 145.09,287.39 145.45,287.40 145.86,287.68 146.22,287.43 146.63,287.38 146.99,287.21 147.40,287.47 147.76,287.48 148.17,287.32 148.53,287.18 148.94,287.17 149.30,287.35 149.71,287.61 150.07,287.56 150.48,287.61 150.84,287.37 151.25,287.30 151.61,287.37 152.02,287.57 152.38,287.69 152.79,287.69 153.15,287.76 153.56,287.86 153.92,287.79 154.33,287.84 154.69,287.99 155.11,288.11 155.46,288.00 155.88,288.10 156.23,288.05 156.65,288.11 157.00,287.98 157.42,287.95 157.78,287.86 158.19,287.87 158.55,287.97 158.96,288.30 159.32,288.39 159.73,288.39 160.09,288.20 160.50,288.18 160.86,288.12 161.27,288.21 161.63,288.23 162.04,288.40 162.40,288.37 162.81,288.33 163.17,288.22 163.58,288.34 163.94,288.44 164.35,288.64 164.71,288.56 165.12,288.65 165.48,288.74 165.89,288.79 166.25,288.96 166.66,288.99 167.02,289.14 167.43,289.00 167.79,289.16 168.20,289.14 168.56,289.13 168.97,289.02 169.33,289.15 169.74,289.20 170.10,289.15 170.51,289.24 170.87,289.23 171.28,289.30 171.64,289.08 172.05,289.37 172.41,289.37 172.82,289.42 173.18,289.00 173.59,288.96 173.95,288.90 174.36,289.20 174.72,289.19 175.13,289.28 175.49,289.12 175.90,289.24 176.26,289.32 176.67,289.43 177.03,289.58 177.44,289.63 177.80,289.49 178.21,289.53 178.57,289.55 178.98,289.90 179.34,289.79 179.75,289.74 180.11,289.64 180.52,289.55 180.88,289.60 181.29,289.83 181.65,290.13 182.06,290.20 182.42,290.04 182.83,289.82 183.19,289.82 183.60,289.97 183.96,290.15 184.37,290.20 184.73,290.19 185.14,290.19 185.50,290.25 185.92,290.18 186.27,290.14 186.69,289.98 187.04,290.01 187.46,290.01 187.81,290.07 188.23,290.12 188.59,290.23 189.00,290.52 189.36,290.32 189.77,290.46 190.13,290.35 190.54,290.67 190.90,290.57 191.31,290.47 191.67,290.46 192.08,290.58 192.44,290.63 192.85,290.52 192.95,290.31" fill="none" stroke="#5a9a22" stroke-width="1.5" stroke-linejoin="round"/>
<line x1="20.9" y1="349.6" x2="30.7" y2="349.6" stroke="#f0341f" stroke-width="1.5"/>
<text x="34.20" y="352.25" font-size="7.35" font-weight="bold" text-anchor="start" style="stroke-width:0.3px">2.5<tspan font-weight="normal" style="stroke-width:0.1px">µ</tspan>M</text>
<line x1="56.0" y1="349.6" x2="65.9" y2="349.6" stroke="#25e39a" stroke-width="1.5"/>
<text x="69.30" y="352.25" font-size="7.35" font-weight="bold" text-anchor="start" style="stroke-width:0.3px">5<tspan font-weight="normal" style="stroke-width:0.1px">µ</tspan>M</text>
<line x1="84.3" y1="349.6" x2="93.4" y2="349.6" stroke="#86d3f2" stroke-width="1.5"/>
<text x="97.40" y="352.25" font-size="7.35" font-weight="bold" text-anchor="start" style="stroke-width:0.3px">10<tspan font-weight="normal" style="stroke-width:0.1px">µ</tspan>M</text>
<line x1="117.2" y1="349.6" x2="125.8" y2="349.6" stroke="#1f40ee" stroke-width="1.5"/>
<text x="129.60" y="352.25" font-size="7.35" font-weight="bold" text-anchor="start" style="stroke-width:0.3px">20<tspan font-weight="normal" style="stroke-width:0.1px">µ</tspan>M</text>
<line x1="149.7" y1="349.6" x2="158.8" y2="349.6" stroke="#f2ee1c" stroke-width="1.5"/>
<text x="162.80" y="352.25" font-size="7.35" font-weight="bold" text-anchor="start" style="stroke-width:0.3px">30<tspan font-weight="normal" style="stroke-width:0.1px">µ</tspan>M</text>
<line x1="183.1" y1="349.6" x2="192.2" y2="349.6" stroke="#ff86f0" stroke-width="1.5"/>
<text x="196.30" y="352.25" font-size="7.35" font-weight="bold" text-anchor="start" style="stroke-width:0.3px">40<tspan font-weight="normal" style="stroke-width:0.1px">µ</tspan>M</text>
<line x1="215.8" y1="349.6" x2="224.8" y2="349.6" stroke="#5a9a22" stroke-width="1.5"/>
<text x="228.90" y="352.25" font-size="7.35" font-weight="bold" text-anchor="start" style="stroke-width:0.3px">50<tspan font-weight="normal" style="stroke-width:0.1px">µ</tspan>M</text>
<line x1="288.30" y1="204.32" x2="288.30" y2="315.25" stroke="#2e2e2e" stroke-width="1.3"/>
<line x1="287.75" y1="314.70" x2="518.30" y2="314.70" stroke="#2e2e2e" stroke-width="1.3"/>
<line x1="285.70" y1="314.50" x2="288.30" y2="314.50" stroke="#2e2e2e" stroke-width="1.3"/>
<text x="284.80" y="317.06" font-size="7.1" font-weight="bold" text-anchor="end" >0.0</text>
<line x1="285.70" y1="296.22" x2="288.30" y2="296.22" stroke="#2e2e2e" stroke-width="1.3"/>
<text x="284.80" y="298.78" font-size="7.1" font-weight="bold" text-anchor="end" >0.1</text>
<line x1="285.70" y1="277.94" x2="288.30" y2="277.94" stroke="#2e2e2e" stroke-width="1.3"/>
<text x="284.80" y="280.50" font-size="7.1" font-weight="bold" text-anchor="end" >0.2</text>
<line x1="285.70" y1="259.66" x2="288.30" y2="259.66" stroke="#2e2e2e" stroke-width="1.3"/>
<text x="284.80" y="262.22" font-size="7.1" font-weight="bold" text-anchor="end" >0.3</text>
<line x1="285.70" y1="241.38" x2="288.30" y2="241.38" stroke="#2e2e2e" stroke-width="1.3"/>
<text x="284.80" y="243.94" font-size="7.1" font-weight="bold" text-anchor="end" >0.4</text>
<line x1="285.70" y1="223.10" x2="288.30" y2="223.10" stroke="#2e2e2e" stroke-width="1.3"/>
<text x="284.80" y="225.66" font-size="7.1" font-weight="bold" text-anchor="end" >0.5</text>
<line x1="285.70" y1="204.82" x2="288.30" y2="204.82" stroke="#2e2e2e" stroke-width="1.3"/>
<text x="284.80" y="207.38" font-size="7.1" font-weight="bold" text-anchor="end" >0.6</text>
<line x1="288.30" y1="314.70" x2="288.30" y2="317.70" stroke="#2e2e2e" stroke-width="1.3"/>
<text x="288.30" y="325.30" font-size="7.1" font-weight="bold" text-anchor="middle" >0</text>
<line x1="313.80" y1="314.70" x2="313.80" y2="317.70" stroke="#2e2e2e" stroke-width="1.3"/>
<text x="313.80" y="325.30" font-size="7.1" font-weight="bold" text-anchor="middle" >50</text>
<line x1="339.30" y1="314.70" x2="339.30" y2="317.70" stroke="#2e2e2e" stroke-width="1.3"/>
<text x="339.30" y="325.30" font-size="7.1" font-weight="bold" text-anchor="middle" >100</text>
<line x1="364.80" y1="314.70" x2="364.80" y2="317.70" stroke="#2e2e2e" stroke-width="1.3"/>
<text x="364.80" y="325.30" font-size="7.1" font-weight="bold" text-anchor="middle" >150</text>
<line x1="390.30" y1="314.70" x2="390.30" y2="317.70" stroke="#2e2e2e" stroke-width="1.3"/>
<text x="390.30" y="325.30" font-size="7.1" font-weight="bold" text-anchor="middle" >200</text>
<line x1="415.80" y1="314.70" x2="415.80" y2="317.70" stroke="#2e2e2e" stroke-width="1.3"/>
<text x="415.80" y="325.30" font-size="7.1" font-weight="bold" text-anchor="middle" >250</text>
<line x1="441.30" y1="314.70" x2="441.30" y2="317.70" stroke="#2e2e2e" stroke-width="1.3"/>
<text x="441.30" y="325.30" font-size="7.1" font-weight="bold" text-anchor="middle" >300</text>
<line x1="466.80" y1="314.70" x2="466.80" y2="317.70" stroke="#2e2e2e" stroke-width="1.3"/>
<text x="466.80" y="325.30" font-size="7.1" font-weight="bold" text-anchor="middle" >350</text>
<line x1="492.30" y1="314.70" x2="492.30" y2="317.70" stroke="#2e2e2e" stroke-width="1.3"/>
<text x="492.30" y="325.30" font-size="7.1" font-weight="bold" text-anchor="middle" >400</text>
<line x1="517.80" y1="314.70" x2="517.80" y2="317.70" stroke="#2e2e2e" stroke-width="1.3"/>
<text x="517.80" y="325.30" font-size="7.1" font-weight="bold" text-anchor="middle" >450</text>
<text x="0" y="0" font-size="8.4" font-weight="bold" text-anchor="middle" transform="translate(263.76,257.90) rotate(-90)" dy="3.02" textLength="58.0" lengthAdjust="spacingAndGlyphs">binding (nm)</text>
<text x="385.90" y="341.70" font-size="9.4" font-weight="bold" text-anchor="start" textLength="36.0" lengthAdjust="spacingAndGlyphs">Time (s)</text>
<text x="260.40" y="342.00" font-size="10.0" font-weight="bold" text-anchor="start" >D</text>
<text x="292.60" y="215.30" font-size="7.9" font-weight="normal" text-anchor="start" style="stroke-width:0.5px">pm59<tspan font-size="5.9" dx="2.2" dy="1.6" style="stroke-width:0.4px">md</tspan></text>
<polyline points="288.30,313.82 288.81,313.61 289.32,313.81 289.83,313.73 290.34,313.86 290.85,313.67 291.36,313.78 291.87,313.75 292.38,313.68 292.89,313.71 293.40,313.77 293.91,313.81 294.42,313.76 294.93,313.59 295.44,313.73 295.95,313.71 296.46,313.76 296.97,313.69 297.48,313.56 297.99,313.59 298.50,313.68 299.01,313.64 299.52,313.65 300.03,313.51 300.54,313.60 301.05,313.80 301.56,313.93 302.07,313.89 302.58,313.84 303.09,313.93 303.60,314.02 304.11,313.88 304.62,313.62 305.13,313.55 305.64,313.59 306.15,313.64 306.66,313.68 307.17,313.69 307.68,313.63 308.19,313.68 308.70,313.64 309.21,313.88 309.72,313.91 310.23,313.96 310.74,313.77 311.25,313.69 311.76,313.70 312.27,313.74 312.78,313.85 313.29,313.70 313.80,313.82 314.31,313.73 314.82,313.79 315.33,313.81 315.84,313.87 316.35,313.92 316.86,313.60 317.37,313.61 317.88,313.56 318.39,313.85 318.90,313.67 319.41,313.71 319.92,313.69 320.43,313.81 320.94,313.79 321.45,313.73 321.96,313.75 322.47,313.58 322.98,313.48 323.49,313.47 324.00,313.63 324.51,313.53 325.02,313.44 325.53,313.26 326.04,313.25 326.55,313.20 327.06,313.31 327.57,313.42 328.08,313.37 328.59,313.24 329.10,313.21 329.61,312.98 330.12,312.98 330.63,312.75 331.14,312.80 331.65,312.55 332.16,312.69 332.67,312.71 333.18,312.90 333.69,312.86 334.20,312.76 334.71,312.63 335.22,312.61 335.73,312.63 336.24,312.81 336.75,312.68 337.26,312.77 337.77,312.69 338.28,312.60 338.79,312.55 339.30,312.44 339.81,312.47 340.32,312.39 340.83,312.41 341.34,312.54 341.85,312.54 342.36,312.43 342.87,312.36 343.38,312.44 343.89,312.57 344.40,312.41 344.91,312.40 345.42,312.26 345.93,312.32 346.44,312.10 346.95,312.04 347.46,312.01 347.97,312.09 348.48,312.29 348.99,312.24 349.50,312.24 350.01,312.10 350.52,312.11 351.03,312.03 351.54,312.05 352.05,311.87 352.56,311.74 353.07,311.77 353.58,312.03 354.09,312.24 354.60,312.12 355.11,311.98 355.62,311.97 356.13,311.74 356.64,311.75 357.15,311.56 357.66,311.72 358.17,311.74 358.68,311.78 359.19,311.75 359.70,311.56 360.21,311.41 360.72,311.30 361.23,311.58 361.74,311.74 362.25,311.67 362.76,311.50 363.27,311.41 363.78,311.49 364.29,311.37 364.80,311.27 365.31,311.13 365.82,311.26 366.33,311.24 366.84,311.43 367.35,311.30 367.86,311.36 368.37,311.35 368.88,311.39 369.39,311.34 369.90,311.26 370.41,311.25 370.92,311.13 371.43,311.22 371.94,311.08 372.45,311.17 372.96,310.97 373.47,311.12 373.98,311.10 374.49,311.00 375.00,310.66 375.51,310.55 376.02,310.67 376.53,310.77 377.04,310.88 377.55,310.66 378.06,310.69 378.57,310.53 379.08,310.74 379.59,310.77 380.10,310.83 380.61,310.68 381.12,310.75 381.63,310.57 382.14,310.54 382.65,310.56 383.16,310.77 383.67,310.71 384.18,310.51 384.69,310.33 385.20,310.43 385.71,310.38 386.22,310.47 386.73,310.36 387.24,310.40 387.75,310.21 388.26,310.35 388.77,310.40 389.28,310.39 389.79,310.24 390.30,310.07 390.81,310.28 391.32,310.20 391.83,310.25 392.34,310.15 392.85,310.28 393.36,310.26 393.87,310.22 394.38,310.10 394.89,310.12 395.40,310.01 395.91,310.06 396.42,309.97 396.93,310.10 397.44,309.86 397.95,309.75 398.46,309.79 398.97,309.82 399.48,309.86 399.99,309.73 400.50,309.99 401.01,309.83 401.52,309.61 402.03,309.43 402.54,309.43 403.05,309.61 403.56,309.67 404.07,309.79 404.58,309.72 405.09,309.67 405.60,309.70 406.11,309.60 406.62,309.76 407.13,309.73 407.64,309.74 408.15,309.47 408.66,309.38 409.17,309.39 409.68,309.33 410.19,309.46 410.70,309.41 411.21,309.90 411.72,310.19 412.23,310.19 412.74,310.18 413.25,309.89 413.76,310.13 414.27,310.19 414.78,310.16 415.29,310.15 415.80,310.19 416.31,310.44 416.82,310.47 417.33,310.52 417.84,310.45 418.35,310.38 418.86,310.30 419.37,310.45 419.88,310.59 420.39,310.55 420.90,310.60 421.41,310.51 421.92,310.62 422.43,310.59 422.94,310.82 423.45,310.93 423.96,310.81 424.47,310.79 424.98,310.82 425.49,311.03 426.00,311.08 426.51,311.14 427.02,311.21 427.53,311.18 428.04,311.18 428.55,311.14 429.06,311.09 429.57,311.09 430.08,311.28 430.59,311.40 431.10,311.40 431.61,311.25 432.12,311.36 432.63,311.36 433.14,311.34 433.65,311.29 434.16,311.45 434.67,311.59 435.18,311.51 435.69,311.44 436.20,311.62 436.71,311.88 437.22,311.92 437.73,311.73 438.24,311.61 438.75,311.59 439.26,311.71 439.77,311.63 440.28,311.55 440.79,311.49 441.30,311.54 441.81,311.82 442.32,311.76 442.83,311.88 443.34,311.78 443.85,311.87 444.36,311.82 444.87,311.86 445.38,311.76 445.89,311.73 446.40,311.87 446.91,311.89 447.42,311.96 447.93,312.03 448.44,312.22 448.95,312.22 449.46,312.18 449.97,312.17 450.48,312.22 450.99,312.00 451.50,312.05 452.01,312.10 452.52,312.13 453.03,312.16 453.54,312.03 454.05,312.13 454.56,312.03 455.07,312.05 455.58,311.97 456.09,312.07 456.60,312.11 457.11,312.17 457.62,312.02 458.13,312.04 458.64,312.04 459.15,312.04 459.66,312.07 460.17,312.23 460.68,312.10 461.19,311.98 461.70,312.03 462.21,312.28 462.72,312.34 463.23,312.09 463.74,311.96 464.25,311.95 464.76,312.16 465.27,312.24 465.78,312.44 466.29,312.33 466.80,312.36 467.31,312.56 467.82,312.70 468.33,312.78 468.84,312.62 469.35,312.66 469.86,312.63 470.37,312.54 470.88,312.57 471.39,312.51 471.90,312.70 472.41,312.59 472.92,312.55 473.43,312.38 473.94,312.24 474.45,312.51 474.96,312.48 475.47,312.57 475.98,312.39 476.49,312.42 477.00,312.44 477.51,312.39 478.02,312.37 478.53,312.30 479.04,312.34 479.55,312.16 480.06,312.42 480.57,312.48 481.08,312.86 481.59,312.76 482.10,312.83 482.61,312.65 483.12,312.51 483.63,312.34 484.14,312.35 484.65,312.51 485.16,312.50 485.67,312.54 486.18,312.39 486.69,312.55 487.20,312.51 487.71,312.42 488.22,312.37 488.73,312.46 489.24,312.57 489.75,312.49 490.26,312.38 490.77,312.37 491.28,312.43 491.79,312.45 492.30,312.61" fill="none" stroke="#f0341f" stroke-width="1.5" stroke-linejoin="round"/>
<polyline points="288.30,313.74 288.81,313.74 289.32,313.69 289.83,313.65 290.34,313.82 290.85,313.91 291.36,313.97 291.87,313.78 292.38,313.73 292.89,313.73 293.40,313.77 293.91,313.74 294.42,313.81 294.93,313.79 295.44,313.86 295.95,313.74 296.46,313.75 296.97,313.79 297.48,313.71 297.99,313.84 298.50,313.68 299.01,313.73 299.52,313.65 300.03,313.62 300.54,313.73 301.05,313.84 301.56,313.94 302.07,313.97 302.58,313.86 303.09,313.83 303.60,313.62 304.11,313.63 304.62,313.65 305.13,313.72 305.64,313.63 306.15,313.65 306.66,313.63 307.17,313.79 307.68,313.82 308.19,313.96 308.70,313.90 309.21,313.80 309.72,313.74 310.23,313.63 310.74,313.80 311.25,313.85 311.76,313.87 312.27,313.77 312.78,313.75 313.29,313.98 313.80,313.92 314.31,313.98 314.82,313.77 315.33,313.92 315.84,313.87 316.35,313.78 316.86,313.77 317.37,313.81 317.88,313.96 318.39,314.03 318.90,313.95 319.41,313.61 319.92,313.17 320.43,312.95 320.94,312.68 321.45,312.45 321.96,312.15 322.47,311.97 322.98,311.63 323.49,311.41 324.00,311.05 324.51,310.97 325.02,310.76 325.53,310.71 326.04,310.42 326.55,310.12 327.06,309.83 327.57,309.57 328.08,309.46 328.59,309.51 329.10,309.49 329.61,309.31 330.12,308.98 330.63,308.86 331.14,308.81 331.65,308.74 332.16,308.78 332.67,308.75 333.18,308.60 333.69,308.24 334.20,308.13 334.71,308.13 335.22,308.10 335.73,307.90 336.24,307.77 336.75,307.79 337.26,307.67 337.77,307.48 338.28,307.45 338.79,307.56 339.30,307.52 339.81,307.30 340.32,307.17 340.83,307.17 341.34,307.10 341.85,306.85 342.36,306.71 342.87,306.60 343.38,306.56 343.89,306.52 344.40,306.51 344.91,306.51 345.42,306.39 345.93,306.38 346.44,306.42 346.95,306.33 347.46,306.17 347.97,305.78 348.48,305.73 348.99,305.75 349.50,305.94 350.01,305.79 350.52,305.64 351.03,305.66 351.54,305.82 352.05,305.84 352.56,305.56 353.07,305.50 353.58,305.64 354.09,305.62 354.60,305.64 355.11,305.42 355.62,305.57 356.13,305.44 356.64,305.36 357.15,305.32 357.66,305.31 358.17,305.22 358.68,305.05 359.19,304.85 359.70,304.87 360.21,304.88 360.72,304.99 361.23,304.84 361.74,304.60 362.25,304.43 362.76,304.36 363.27,304.32 363.78,304.40 364.29,304.50 364.80,304.53 365.31,304.35 365.82,304.20 366.33,304.15 366.84,304.17 367.35,304.12 367.86,304.05 368.37,303.98 368.88,303.88 369.39,303.87 369.90,303.80 370.41,303.78 370.92,303.76 371.43,303.57 371.94,303.63 372.45,303.48 372.96,303.69 373.47,303.57 373.98,303.64 374.49,303.52 375.00,303.31 375.51,303.22 376.02,303.10 376.53,303.25 377.04,303.02 377.55,302.75 378.06,302.75 378.57,302.98 379.08,303.24 379.59,303.00 380.10,302.83 380.61,302.89 381.12,303.05 381.63,302.97 382.14,302.76 382.65,302.47 383.16,302.43 383.67,302.40 384.18,302.53 384.69,302.56 385.20,302.57 385.71,302.49 386.22,302.31 386.73,302.23 387.24,302.19 387.75,302.20 388.26,301.98 388.77,301.89 389.28,301.84 389.79,301.84 390.30,301.80 390.81,301.75 391.32,301.79 391.83,301.65 392.34,301.59 392.85,301.57 393.36,301.59 393.87,301.55 394.38,301.58 394.89,301.56 395.40,301.58 395.91,301.43 396.42,301.34 396.93,301.15 397.44,301.02 397.95,301.02 398.46,300.94 398.97,301.04 399.48,300.88 399.99,300.87 400.50,300.79 401.01,301.01 401.52,301.03 402.03,300.93 402.54,300.82 403.05,300.85 403.56,300.75 404.07,300.58 404.58,300.48 405.09,300.44 405.60,300.44 406.11,300.51 406.62,300.59 407.13,300.52 407.64,300.38 408.15,300.22 408.66,300.13 409.17,300.15 409.68,300.24 410.19,300.23 410.70,300.09 411.21,300.46 411.72,300.92 412.23,301.03 412.74,301.39 413.25,301.72 413.76,302.32 414.27,302.64 414.78,302.95 415.29,303.04 415.80,303.11 416.31,303.32 416.82,303.75 417.33,303.90 417.84,303.85 418.35,303.84 418.86,304.03 419.37,304.22 419.88,304.37 420.39,304.57 420.90,304.65 421.41,304.59 421.92,304.57 422.43,304.59 422.94,304.73 423.45,304.89 423.96,305.03 424.47,305.14 424.98,305.21 425.49,305.26 426.00,305.25 426.51,305.32 427.02,305.49 427.53,305.61 428.04,305.74 428.55,305.79 429.06,305.93 429.57,305.86 430.08,305.97 430.59,305.89 431.10,306.10 431.61,305.90 432.12,306.18 432.63,305.91 433.14,306.13 433.65,306.06 434.16,306.01 434.67,306.08 435.18,306.05 435.69,306.45 436.20,306.51 436.71,306.62 437.22,306.50 437.73,306.45 438.24,306.33 438.75,306.44 439.26,306.53 439.77,306.85 440.28,306.79 440.79,306.90 441.30,306.87 441.81,306.84 442.32,306.86 442.83,306.91 443.34,307.16 443.85,307.19 444.36,307.17 444.87,307.08 445.38,307.07 445.89,306.92 446.40,306.96 446.91,306.93 447.42,307.24 447.93,307.38 448.44,307.45 448.95,307.35 449.46,307.33 449.97,307.39 450.48,307.32 450.99,307.34 451.50,307.39 452.01,307.54 452.52,307.52 453.03,307.45 453.54,307.39 454.05,307.50 454.56,307.63 455.07,307.55 455.58,307.49 456.09,307.48 456.60,307.61 457.11,307.65 457.62,307.61 458.13,307.58 458.64,307.81 459.15,307.95 459.66,308.00 460.17,307.82 460.68,307.83 461.19,307.82 461.70,307.86 462.21,307.82 462.72,307.97 463.23,307.90 463.74,307.80 464.25,307.73 464.76,307.77 465.27,307.97 465.78,308.01 466.29,308.22 466.80,308.25 467.31,308.23 467.82,308.23 468.33,308.07 468.84,308.01 469.35,307.92 469.86,307.95 470.37,308.11 470.88,308.19 471.39,308.43 471.90,308.35 472.41,308.31 472.92,308.02 473.43,307.95 473.94,307.92 474.45,308.10 474.96,308.19 475.47,308.33 475.98,308.32 476.49,308.22 477.00,308.13 477.51,308.23 478.02,308.34 478.53,308.37 479.04,308.30 479.55,308.36 480.06,308.37 480.57,308.38 481.08,308.41 481.59,308.29 482.10,308.42 482.61,308.26 483.12,308.38 483.63,308.08 484.14,308.22 484.65,308.21 485.16,308.30 485.67,308.38 486.18,308.53 486.69,308.77 487.20,308.68 487.71,308.57 488.22,308.35 488.73,308.41 489.24,308.45 489.75,308.35 490.26,308.26 490.77,308.33 491.28,308.49 491.79,308.61 492.30,308.45" fill="none" stroke="#1f9392" stroke-width="1.5" stroke-linejoin="round"/>
<polyline points="288.30,313.87 288.81,313.99 289.32,314.12 289.83,313.89 290.34,313.67 290.85,313.56 291.36,313.60 291.87,313.75 292.38,313.89 292.89,313.88 293.40,313.76 293.91,313.67 294.42,313.88 294.93,313.93 295.44,313.91 295.95,313.80 296.46,313.76 296.97,313.64 297.48,313.50 297.99,313.56 298.50,313.73 299.01,313.76 299.52,313.89 300.03,313.76 300.54,313.74 301.05,313.62 301.56,313.61 302.07,313.72 302.58,313.65 303.09,313.70 303.60,313.66 304.11,313.67 304.62,313.77 305.13,313.79 305.64,313.99 306.15,313.93 306.66,313.85 307.17,313.65 307.68,313.62 308.19,313.61 308.70,313.59 309.21,313.76 309.72,313.85 310.23,314.01 310.74,313.91 311.25,313.86 311.76,313.70 312.27,313.71 312.78,313.78 313.29,314.05 313.80,313.91 314.31,313.89 314.82,313.60 315.33,313.66 315.84,313.67 316.35,313.92 316.86,314.02 317.37,313.98 317.88,313.84 318.39,313.72 318.90,313.82 319.41,313.41 319.92,313.07 320.43,312.46 320.94,311.98 321.45,311.56 321.96,311.29 322.47,311.08 322.98,310.73 323.49,310.58 324.00,310.27 324.51,310.03 325.02,309.49 325.53,309.03 326.04,308.63 326.55,308.32 327.06,308.14 327.57,307.93 328.08,307.82 328.59,307.48 329.10,307.32 329.61,306.97 330.12,306.54 330.63,306.06 331.14,305.90 331.65,305.98 332.16,305.90 332.67,305.71 333.18,305.48 333.69,305.14 334.20,304.99 334.71,304.75 335.22,304.77 335.73,304.39 336.24,304.21 336.75,304.09 337.26,303.96 337.77,303.82 338.28,303.69 338.79,303.71 339.30,303.74 339.81,303.56 340.32,303.36 340.83,303.10 341.34,303.00 341.85,302.87 342.36,302.74 342.87,302.54 343.38,302.37 343.89,302.21 344.40,302.16 344.91,302.16 345.42,302.02 345.93,302.00 346.44,301.80 346.95,301.71 347.46,301.76 347.97,301.81 348.48,301.75 348.99,301.48 349.50,301.19 350.01,301.01 350.52,300.76 351.03,300.72 351.54,300.66 352.05,300.53 352.56,300.39 353.07,300.31 353.58,300.21 354.09,300.10 354.60,300.08 355.11,299.91 355.62,300.00 356.13,299.81 356.64,299.94 357.15,299.69 357.66,299.63 358.17,299.41 358.68,299.32 359.19,299.20 359.70,298.99 360.21,299.00 360.72,299.24 361.23,299.22 361.74,299.00 362.25,298.72 362.76,298.82 363.27,298.91 363.78,298.83 364.29,298.81 364.80,298.59 365.31,298.45 365.82,298.26 366.33,298.30 366.84,298.13 367.35,297.90 367.86,297.78 368.37,297.88 368.88,298.02 369.39,298.05 369.90,297.95 370.41,297.90 370.92,297.70 371.43,297.59 371.94,297.41 372.45,297.44 372.96,297.58 373.47,297.45 373.98,297.19 374.49,296.96 375.00,297.03 375.51,296.87 376.02,296.66 376.53,296.63 377.04,296.91 377.55,296.96 378.06,296.84 378.57,296.60 379.08,296.50 379.59,296.24 380.10,296.26 380.61,296.35 381.12,296.52 381.63,296.46 382.14,296.33 382.65,296.24 383.16,296.11 383.67,296.03 384.18,295.92 384.69,295.91 385.20,296.03 385.71,296.03 386.22,295.96 386.73,295.62 387.24,295.59 387.75,295.40 388.26,295.54 388.77,295.50 389.28,295.61 389.79,295.27 390.30,295.07 390.81,294.94 391.32,294.89 391.83,294.99 392.34,294.99 392.85,295.03 393.36,294.87 393.87,294.93 394.38,294.90 394.89,294.76 395.40,294.42 395.91,294.27 396.42,294.37 396.93,294.41 397.44,294.44 397.95,294.20 398.46,294.21 398.97,294.07 399.48,294.08 399.99,293.94 400.50,294.20 401.01,294.18 401.52,294.07 402.03,293.74 402.54,293.53 403.05,293.58 403.56,293.48 404.07,293.38 404.58,293.14 405.09,293.11 405.60,293.10 406.11,293.19 406.62,293.05 407.13,293.13 407.64,293.12 408.15,293.13 408.66,293.09 409.17,292.90 409.68,292.89 410.19,292.86 410.70,292.86 411.21,293.32 411.72,293.69 412.23,294.27 412.74,294.90 413.25,295.42 413.76,295.79 414.27,296.14 414.78,296.64 415.29,297.05 415.80,297.22 416.31,297.38 416.82,297.66 417.33,298.21 417.84,298.61 418.35,298.77 418.86,298.74 419.37,298.67 419.88,299.03 420.39,299.36 420.90,299.80 421.41,299.95 421.92,300.19 422.43,300.18 422.94,300.30 423.45,300.37 423.96,300.40 424.47,300.36 424.98,300.53 425.49,301.02 426.00,301.25 426.51,301.32 427.02,301.36 427.53,301.34 428.04,301.49 428.55,301.58 429.06,301.80 429.57,301.79 430.08,301.82 430.59,301.93 431.10,302.18 431.61,302.29 432.12,302.57 432.63,302.55 433.14,302.68 433.65,302.67 434.16,302.76 434.67,302.81 435.18,302.95 435.69,303.10 436.20,303.27 436.71,303.17 437.22,303.22 437.73,303.26 438.24,303.38 438.75,303.47 439.26,303.53 439.77,303.62 440.28,303.68 440.79,303.55 441.30,303.57 441.81,303.36 442.32,303.45 442.83,303.55 443.34,303.87 443.85,303.97 444.36,304.04 444.87,304.20 445.38,304.36 445.89,304.25 446.40,304.19 446.91,304.29 447.42,304.44 447.93,304.38 448.44,304.19 448.95,304.23 449.46,304.36 449.97,304.67 450.48,304.72 450.99,304.77 451.50,304.64 452.01,304.73 452.52,304.83 453.03,304.87 453.54,304.88 454.05,304.91 454.56,305.14 455.07,305.23 455.58,305.39 456.09,305.40 456.60,305.42 457.11,305.34 457.62,305.35 458.13,305.36 458.64,305.47 459.15,305.53 459.66,305.60 460.17,305.57 460.68,305.55 461.19,305.64 461.70,305.68 462.21,305.77 462.72,305.78 463.23,305.75 463.74,305.77 464.25,305.96 464.76,306.17 465.27,305.98 465.78,305.72 466.29,305.79 466.80,306.16 467.31,306.39 467.82,306.21 468.33,306.07 468.84,306.15 469.35,306.32 469.86,306.51 470.37,306.53 470.88,306.45 471.39,306.44 471.90,306.59 472.41,306.75 472.92,306.70 473.43,306.58 473.94,306.60 474.45,306.72 474.96,306.64 475.47,306.72 475.98,306.69 476.49,306.88 477.00,306.86 477.51,307.00 478.02,307.02 478.53,307.02 479.04,307.13 479.55,307.11 480.06,307.17 480.57,307.06 481.08,307.27 481.59,307.22 482.10,307.09 482.61,307.10 483.12,307.25 483.63,307.43 484.14,307.29 484.65,307.21 485.16,307.27 485.67,307.38 486.18,307.53 486.69,307.56 487.20,307.59 487.71,307.49 488.22,307.50 488.73,307.53 489.24,307.86 489.75,307.97 490.26,308.03 490.77,307.70 491.28,307.53 491.79,307.50 492.30,307.62" fill="none" stroke="#24a2f2" stroke-width="1.5" stroke-linejoin="round"/>
<polyline points="288.30,313.71 288.81,313.75 289.32,313.88 289.83,313.87 290.34,313.98 290.85,313.92 291.36,313.86 291.87,313.92 292.38,313.95 292.89,314.12 293.40,313.86 293.91,313.64 294.42,313.58 294.93,313.54 295.44,313.69 295.95,313.83 296.46,313.93 296.97,313.85 297.48,313.66 297.99,313.82 298.50,313.79 299.01,313.79 299.52,313.80 300.03,313.80 300.54,313.81 301.05,313.57 301.56,313.65 302.07,313.66 302.58,313.70 303.09,313.77 303.60,313.84 304.11,314.01 304.62,313.95 305.13,313.79 305.64,313.64 306.15,313.55 306.66,313.64 307.17,313.66 307.68,313.57 308.19,313.54 308.70,313.46 309.21,313.56 309.72,313.61 310.23,313.71 310.74,313.76 311.25,313.71 311.76,313.97 312.27,313.98 312.78,314.08 313.29,313.94 313.80,313.84 314.31,313.71 314.82,313.52 315.33,313.65 315.84,313.70 316.35,313.94 316.86,313.90 317.37,313.97 317.88,313.84 318.39,313.82 318.90,313.73 319.41,313.23 319.92,312.57 320.43,312.11 320.94,311.39 321.45,310.72 321.96,310.01 322.47,309.46 322.98,308.87 323.49,308.49 324.00,308.01 324.51,307.67 325.02,307.28 325.53,306.93 326.04,306.54 326.55,306.23 327.06,305.88 327.57,305.75 328.08,305.07 328.59,304.72 329.10,304.16 329.61,304.15 330.12,303.62 330.63,303.48 331.14,303.10 331.65,302.79 332.16,302.33 332.67,302.06 333.18,301.89 333.69,301.68 334.20,301.40 334.71,301.33 335.22,301.19 335.73,301.04 336.24,300.84 336.75,300.60 337.26,300.29 337.77,300.01 338.28,299.76 338.79,299.58 339.30,299.43 339.81,299.16 340.32,298.95 340.83,298.61 341.34,298.53 341.85,298.19 342.36,298.13 342.87,297.92 343.38,297.88 343.89,297.79 344.40,297.63 344.91,297.50 345.42,297.28 345.93,297.14 346.44,297.18 346.95,296.91 347.46,296.82 347.97,296.79 348.48,296.66 348.99,296.46 349.50,296.07 350.01,296.12 350.52,296.08 351.03,295.94 351.54,295.59 352.05,295.38 352.56,295.23 353.07,295.31 353.58,295.36 354.09,295.35 354.60,295.26 355.11,294.99 355.62,294.83 356.13,294.71 356.64,294.78 357.15,294.84 357.66,294.82 358.17,294.78 358.68,294.65 359.19,294.37 359.70,294.12 360.21,294.03 360.72,294.16 361.23,294.01 361.74,293.77 362.25,293.53 362.76,293.41 363.27,293.35 363.78,293.26 364.29,293.30 364.80,293.22 365.31,293.14 365.82,293.08 366.33,293.01 366.84,292.94 367.35,292.53 367.86,292.34 368.37,292.18 368.88,292.17 369.39,292.11 369.90,291.89 370.41,291.96 370.92,291.97 371.43,292.03 371.94,291.92 372.45,291.81 372.96,291.74 373.47,291.81 373.98,291.61 374.49,291.58 375.00,291.28 375.51,291.29 376.02,291.19 376.53,291.03 377.04,290.96 377.55,290.73 378.06,290.76 378.57,290.37 379.08,290.52 379.59,290.30 380.10,290.44 380.61,290.10 381.12,290.18 381.63,290.18 382.14,290.24 382.65,290.08 383.16,289.91 383.67,289.82 384.18,289.77 384.69,289.71 385.20,289.76 385.71,289.58 386.22,289.39 386.73,289.24 387.24,289.12 387.75,289.10 388.26,288.91 388.77,288.97 389.28,288.79 389.79,288.58 390.30,288.40 390.81,288.37 391.32,288.55 391.83,288.47 392.34,288.48 392.85,288.34 393.36,288.31 393.87,288.09 394.38,287.97 394.89,287.74 395.40,287.65 395.91,287.62 396.42,287.67 396.93,287.57 397.44,287.40 397.95,287.33 398.46,287.17 398.97,286.81 399.48,286.59 399.99,286.83 400.50,287.02 401.01,287.14 401.52,287.03 402.03,287.03 402.54,287.01 403.05,286.86 403.56,286.69 404.07,286.51 404.58,286.37 405.09,286.35 405.60,286.33 406.11,286.08 406.62,285.92 407.13,285.76 407.64,285.78 408.15,285.63 408.66,285.59 409.17,285.67 409.68,285.70 410.19,285.62 410.70,285.46 411.21,286.45 411.72,287.38 412.23,288.28 412.74,289.20 413.25,290.04 413.76,290.75 414.27,291.15 414.78,291.60 415.29,292.09 415.80,292.60 416.31,292.93 416.82,293.30 417.33,293.91 417.84,294.43 418.35,294.63 418.86,294.75 419.37,294.90 419.88,295.19 420.39,295.48 420.90,295.75 421.41,296.08 421.92,296.35 422.43,296.67 422.94,296.90 423.45,297.27 423.96,297.57 424.47,297.72 424.98,297.82 425.49,297.71 426.00,297.85 426.51,297.78 427.02,297.88 427.53,297.99 428.04,298.32 428.55,298.72 429.06,298.85 429.57,298.90 430.08,299.14 430.59,299.42 431.10,299.59 431.61,299.47 432.12,299.31 432.63,299.35 433.14,299.58 433.65,299.73 434.16,299.85 434.67,299.92 435.18,300.17 435.69,300.24 436.20,300.24 436.71,300.40 437.22,300.67 437.73,300.93 438.24,301.07 438.75,301.00 439.26,301.15 439.77,301.36 440.28,301.46 440.79,301.44 441.30,301.40 441.81,301.58 442.32,301.74 442.83,301.70 443.34,301.71 443.85,301.71 444.36,302.07 444.87,302.21 445.38,302.10 445.89,301.84 446.40,301.99 446.91,302.33 447.42,302.44 447.93,302.35 448.44,302.28 448.95,302.56 449.46,302.73 449.97,303.06 450.48,303.11 450.99,303.21 451.50,303.10 452.01,303.18 452.52,303.33 453.03,303.34 453.54,303.43 454.05,303.45 454.56,303.61 455.07,303.50 455.58,303.53 456.09,303.58 456.60,303.80 457.11,303.94 457.62,303.88 458.13,303.73 458.64,303.79 459.15,304.04 459.66,304.18 460.17,303.94 460.68,303.85 461.19,304.12 461.70,304.14 462.21,304.15 462.72,304.15 463.23,304.39 463.74,304.47 464.25,304.37 464.76,304.35 465.27,304.49 465.78,304.52 466.29,304.61 466.80,304.64 467.31,304.68 467.82,304.72 468.33,304.65 468.84,304.74 469.35,304.79 469.86,304.67 470.37,304.57 470.88,304.59 471.39,304.73 471.90,304.81 472.41,304.92 472.92,304.99 473.43,305.02 473.94,305.02 474.45,305.13 474.96,305.23 475.47,305.13 475.98,305.18 476.49,305.29 477.00,305.23 477.51,305.12 478.02,305.07 478.53,305.25 479.04,305.47 479.55,305.48 480.06,305.47 480.57,305.44 481.08,305.40 481.59,305.41 482.10,305.40 482.61,305.34 483.12,305.56 483.63,305.56 484.14,305.86 484.65,305.78 485.16,305.92 485.67,305.74 486.18,305.77 486.69,305.84 487.20,305.99 487.71,305.94 488.22,305.81 488.73,305.78 489.24,305.82 489.75,305.71 490.26,305.71 490.77,305.59 491.28,305.68 491.79,305.75 492.30,305.92" fill="none" stroke="#ff9022" stroke-width="1.5" stroke-linejoin="round"/>
<polyline points="288.30,313.71 288.81,313.80 289.32,313.89 289.83,313.87 290.34,313.78 290.85,313.77 291.36,313.70 291.87,313.58 292.38,313.47 292.89,313.57 293.40,313.70 293.91,313.76 294.42,313.71 294.93,313.81 295.44,313.97 295.95,313.98 296.46,313.76 296.97,313.61 297.48,313.54 297.99,313.65 298.50,313.67 299.01,313.83 299.52,313.73 300.03,313.81 300.54,313.69 301.05,313.79 301.56,313.83 302.07,313.82 302.58,313.91 303.09,313.69 303.60,313.66 304.11,313.61 304.62,313.75 305.13,313.83 305.64,313.74 306.15,313.72 306.66,313.53 307.17,313.70 307.68,313.67 308.19,313.67 308.70,313.75 309.21,313.81 309.72,313.96 310.23,313.93 310.74,313.79 311.25,313.99 311.76,313.83 312.27,313.95 312.78,313.87 313.29,313.66 313.80,313.73 314.31,313.46 314.82,313.61 315.33,313.36 315.84,313.54 316.35,313.67 316.86,313.85 317.37,313.71 317.88,313.79 318.39,313.74 318.90,313.79 319.41,312.34 319.92,311.26 320.43,310.11 320.94,308.98 321.45,307.77 321.96,306.79 322.47,306.04 322.98,305.31 323.49,304.64 324.00,303.83 324.51,303.09 325.02,302.41 325.53,301.52 326.04,300.77 326.55,300.12 327.06,299.73 327.57,299.09 328.08,298.61 328.59,298.01 329.10,297.84 329.61,297.32 330.12,296.84 330.63,296.20 331.14,295.86 331.65,295.62 332.16,295.32 332.67,295.03 333.18,294.87 333.69,294.53 334.20,294.18 334.71,293.72 335.22,293.26 335.73,293.01 336.24,292.72 336.75,292.66 337.26,292.17 337.77,291.92 338.28,291.51 338.79,291.40 339.30,291.02 339.81,290.79 340.32,290.43 340.83,290.21 341.34,289.97 341.85,289.80 342.36,289.52 342.87,289.42 343.38,289.11 343.89,289.06 344.40,288.94 344.91,288.86 345.42,288.55 345.93,288.15 346.44,287.96 346.95,287.74 347.46,287.70 347.97,287.45 348.48,287.41 348.99,287.22 349.50,287.09 350.01,286.98 350.52,286.77 351.03,286.62 351.54,286.23 352.05,286.07 352.56,285.78 353.07,285.71 353.58,285.59 354.09,285.40 354.60,285.32 355.11,285.11 355.62,284.95 356.13,284.68 356.64,284.46 357.15,284.33 357.66,284.23 358.17,284.23 358.68,284.09 359.19,283.76 359.70,283.46 360.21,283.38 360.72,283.57 361.23,283.40 361.74,283.20 362.25,282.97 362.76,282.96 363.27,282.88 363.78,282.58 364.29,282.45 364.80,282.21 365.31,282.13 365.82,281.95 366.33,281.90 366.84,281.77 367.35,281.60 367.86,281.39 368.37,281.24 368.88,281.14 369.39,281.09 369.90,281.02 370.41,280.97 370.92,280.76 371.43,280.47 371.94,280.39 372.45,280.26 372.96,280.29 373.47,280.01 373.98,279.91 374.49,279.67 375.00,279.61 375.51,279.51 376.02,279.50 376.53,279.22 377.04,278.98 377.55,278.85 378.06,278.95 378.57,279.00 379.08,279.00 379.59,278.65 380.10,278.39 380.61,277.96 381.12,277.75 381.63,277.65 382.14,277.76 382.65,277.85 383.16,277.83 383.67,277.66 384.18,277.37 384.69,277.06 385.20,276.72 385.71,276.85 386.22,276.85 386.73,276.98 387.24,276.78 387.75,276.64 388.26,276.47 388.77,276.37 389.28,276.18 389.79,275.96 390.30,275.78 390.81,275.74 391.32,275.81 391.83,275.73 392.34,275.80 392.85,275.65 393.36,275.55 393.87,275.24 394.38,275.05 394.89,275.08 395.40,275.04 395.91,274.92 396.42,274.61 396.93,274.51 397.44,274.55 397.95,274.38 398.46,274.17 398.97,274.01 399.48,274.14 399.99,274.18 400.50,274.06 401.01,273.68 401.52,273.50 402.03,273.41 402.54,273.58 403.05,273.47 403.56,273.32 404.07,273.15 404.58,273.13 405.09,273.17 405.60,272.97 406.11,272.87 406.62,272.58 407.13,272.82 407.64,272.92 408.15,272.84 408.66,272.61 409.17,272.13 409.68,272.09 410.19,271.90 410.70,271.81 411.21,273.42 411.72,274.84 412.23,276.31 412.74,277.37 413.25,278.29 413.76,279.26 414.27,280.04 414.78,280.79 415.29,281.47 415.80,282.13 416.31,282.89 416.82,283.48 417.33,284.01 417.84,284.30 418.35,284.58 418.86,285.07 419.37,285.58 419.88,286.00 420.39,286.07 420.90,286.35 421.41,286.67 421.92,287.03 422.43,287.39 422.94,287.46 423.45,287.89 423.96,287.86 424.47,288.03 424.98,288.08 425.49,288.41 426.00,288.77 426.51,288.99 427.02,289.33 427.53,289.39 428.04,289.59 428.55,289.55 429.06,289.91 429.57,289.94 430.08,290.12 430.59,290.22 431.10,290.46 431.61,290.52 432.12,290.64 432.63,290.71 433.14,290.74 433.65,290.91 434.16,291.18 434.67,291.44 435.18,291.42 435.69,291.72 436.20,291.93 436.71,292.13 437.22,292.07 437.73,291.98 438.24,292.10 438.75,292.10 439.26,292.50 439.77,292.54 440.28,292.68 440.79,292.76 441.30,292.80 441.81,292.94 442.32,292.87 442.83,293.06 443.34,293.06 443.85,293.28 444.36,293.30 444.87,293.46 445.38,293.70 445.89,294.04 446.40,294.05 446.91,293.90 447.42,293.80 447.93,293.83 448.44,293.88 448.95,293.88 449.46,294.21 449.97,294.39 450.48,294.66 450.99,294.58 451.50,294.53 452.01,294.60 452.52,294.69 453.03,294.69 453.54,294.64 454.05,294.79 454.56,295.18 455.07,295.22 455.58,295.27 456.09,295.32 456.60,295.51 457.11,295.52 457.62,295.67 458.13,295.87 458.64,295.93 459.15,295.71 459.66,295.68 460.17,295.79 460.68,295.87 461.19,295.89 461.70,295.92 462.21,295.94 462.72,296.01 463.23,296.07 463.74,296.39 464.25,296.59 464.76,296.71 465.27,296.56 465.78,296.59 466.29,296.64 466.80,296.84 467.31,296.82 467.82,296.73 468.33,296.71 468.84,296.72 469.35,297.06 469.86,297.15 470.37,297.13 470.88,297.20 471.39,297.18 471.90,297.28 472.41,297.04 472.92,297.12 473.43,297.17 473.94,297.22 474.45,297.18 474.96,297.25 475.47,297.53 475.98,297.54 476.49,297.38 477.00,297.30 477.51,297.26 478.02,297.62 478.53,297.61 479.04,297.69 479.55,297.58 480.06,297.51 480.57,297.65 481.08,297.63 481.59,297.78 482.10,297.93 482.61,297.90 483.12,297.94 483.63,297.87 484.14,297.99 484.65,298.28 485.16,298.37 485.67,298.46 486.18,298.31 486.69,298.24 487.20,298.43 487.71,298.49 488.22,298.53 488.73,298.59 489.24,298.52 489.75,298.63 490.26,298.40 490.77,298.60 491.28,298.65 491.79,298.63 492.30,298.76" fill="none" stroke="#25e39a" stroke-width="1.5" stroke-linejoin="round"/>
<polyline points="288.30,313.66 288.81,313.65 289.32,313.68 289.83,313.68 290.34,313.63 290.85,313.47 291.36,313.53 291.87,313.69 292.38,313.98 292.89,313.94 293.40,313.88 293.91,313.62 294.42,313.76 294.93,313.79 295.44,314.01 295.95,313.88 296.46,313.85 296.97,313.84 297.48,313.91 297.99,313.81 298.50,313.62 299.01,313.52 299.52,313.55 300.03,313.60 300.54,313.71 301.05,313.76 301.56,313.91 302.07,313.80 302.58,313.84 303.09,313.80 303.60,313.83 304.11,313.75 304.62,313.73 305.13,313.86 305.64,313.96 306.15,313.98 306.66,313.87 307.17,313.76 307.68,313.72 308.19,313.70 308.70,313.93 309.21,313.91 309.72,313.97 310.23,313.95 310.74,313.86 311.25,313.83 311.76,313.53 312.27,313.55 312.78,313.58 313.29,313.94 313.80,314.09 314.31,314.00 314.82,313.64 315.33,313.52 315.84,313.67 316.35,313.76 316.86,313.82 317.37,313.86 317.88,313.85 318.39,313.92 318.90,313.83 319.41,311.96 319.92,309.92 320.43,308.21 320.94,306.58 321.45,305.21 321.96,303.77 322.47,302.56 322.98,301.34 323.49,300.43 324.00,299.29 324.51,298.53 325.02,297.65 325.53,296.79 326.04,295.87 326.55,295.07 327.06,294.53 327.57,293.79 328.08,293.21 328.59,292.64 329.10,292.37 329.61,291.90 330.12,291.44 330.63,290.96 331.14,290.34 331.65,289.81 332.16,289.31 332.67,289.01 333.18,288.52 333.69,288.14 334.20,287.59 334.71,287.41 335.22,287.04 335.73,286.70 336.24,286.31 336.75,285.87 337.26,285.67 337.77,285.28 338.28,284.96 338.79,284.43 339.30,284.13 339.81,283.88 340.32,283.73 340.83,283.45 341.34,283.19 341.85,282.90 342.36,282.56 342.87,282.40 343.38,282.06 343.89,281.76 344.40,281.33 344.91,281.24 345.42,281.08 345.93,280.88 346.44,280.47 346.95,280.23 347.46,280.07 347.97,280.02 348.48,279.81 348.99,279.35 349.50,278.81 350.01,278.57 350.52,278.40 351.03,278.27 351.54,278.08 352.05,277.73 352.56,277.49 353.07,277.03 353.58,276.80 354.09,276.71 354.60,276.46 355.11,276.41 355.62,276.04 356.13,275.98 356.64,275.67 357.15,275.52 357.66,275.29 358.17,275.09 358.68,274.78 359.19,274.48 359.70,274.16 360.21,274.11 360.72,274.01 361.23,273.82 361.74,273.53 362.25,273.11 362.76,272.95 363.27,272.85 363.78,272.65 364.29,272.49 364.80,272.10 365.31,272.02 365.82,271.82 366.33,271.72 366.84,271.39 367.35,271.11 367.86,270.75 368.37,270.67 368.88,270.55 369.39,270.47 369.90,270.18 370.41,269.85 370.92,269.61 371.43,269.38 371.94,269.39 372.45,269.24 372.96,269.38 373.47,269.08 373.98,268.85 374.49,268.50 375.00,268.47 375.51,268.29 376.02,268.06 376.53,267.76 377.04,267.73 377.55,267.72 378.06,267.63 378.57,267.34 379.08,266.95 379.59,266.66 380.10,266.47 380.61,266.50 381.12,266.25 381.63,265.99 382.14,265.75 382.65,265.74 383.16,265.77 383.67,265.51 384.18,265.40 384.69,265.13 385.20,264.97 385.71,264.79 386.22,264.60 386.73,264.46 387.24,264.27 387.75,264.20 388.26,264.08 388.77,263.96 389.28,263.90 389.79,263.82 390.30,263.52 390.81,263.21 391.32,262.99 391.83,263.08 392.34,262.97 392.85,263.15 393.36,262.89 393.87,262.75 394.38,262.36 394.89,262.29 395.40,262.22 395.91,262.17 396.42,261.87 396.93,261.62 397.44,261.44 397.95,261.33 398.46,261.37 398.97,261.25 399.48,261.11 399.99,260.82 400.50,260.56 401.01,260.31 401.52,260.32 402.03,260.30 402.54,260.42 403.05,260.21 403.56,260.02 404.07,259.73 404.58,259.70 405.09,259.69 405.60,259.57 406.11,259.42 406.62,259.18 407.13,258.99 407.64,258.79 408.15,258.71 408.66,258.67 409.17,258.60 409.68,258.47 410.19,258.54 410.70,258.31 411.21,261.02 411.72,263.23 412.23,265.23 412.74,266.97 413.25,268.46 413.76,269.55 414.27,270.60 414.78,271.68 415.29,272.78 415.80,273.47 416.31,274.23 416.82,274.96 417.33,275.72 417.84,276.10 418.35,276.66 418.86,276.97 419.37,277.43 419.88,277.73 420.39,278.16 420.90,278.59 421.41,278.99 421.92,279.33 422.43,279.44 422.94,279.66 423.45,279.84 423.96,280.02 424.47,280.13 424.98,280.25 425.49,280.60 426.00,280.92 426.51,281.37 427.02,281.48 427.53,281.67 428.04,281.68 428.55,281.83 429.06,281.98 429.57,282.25 430.08,282.59 430.59,282.74 431.10,282.69 431.61,282.71 432.12,282.73 432.63,282.88 433.14,283.23 433.65,283.51 434.16,283.72 434.67,283.69 435.18,283.62 435.69,283.98 436.20,284.24 436.71,284.70 437.22,284.69 437.73,284.65 438.24,284.60 438.75,284.77 439.26,284.93 439.77,285.30 440.28,285.42 440.79,285.69 441.30,285.72 441.81,285.88 442.32,285.82 442.83,285.93 443.34,285.88 443.85,286.15 444.36,286.16 444.87,286.49 445.38,286.71 445.89,286.81 446.40,287.02 446.91,286.96 447.42,287.17 447.93,287.11 448.44,287.35 448.95,287.51 449.46,287.59 449.97,287.74 450.48,287.77 450.99,288.05 451.50,288.15 452.01,288.14 452.52,288.02 453.03,288.04 453.54,288.25 454.05,288.34 454.56,288.41 455.07,288.56 455.58,288.86 456.09,288.97 456.60,288.97 457.11,289.10 457.62,289.08 458.13,289.10 458.64,289.14 459.15,289.27 459.66,289.45 460.17,289.34 460.68,289.31 461.19,289.37 461.70,289.54 462.21,289.78 462.72,289.97 463.23,290.08 463.74,290.19 464.25,290.17 464.76,290.25 465.27,290.20 465.78,290.46 466.29,290.75 466.80,290.96 467.31,290.82 467.82,290.60 468.33,290.66 468.84,290.78 469.35,290.96 469.86,291.06 470.37,291.15 470.88,291.29 471.39,291.15 471.90,291.28 472.41,291.25 472.92,291.61 473.43,291.53 473.94,291.77 474.45,291.89 474.96,291.98 475.47,291.99 475.98,291.74 476.49,291.81 477.00,291.74 477.51,291.83 478.02,291.94 478.53,292.05 479.04,292.17 479.55,292.25 480.06,292.12 480.57,292.08 481.08,292.15 481.59,292.37 482.10,292.57 482.61,292.55 483.12,292.46 483.63,292.37 484.14,292.44 484.65,292.68 485.16,293.06 485.67,293.09 486.18,293.03 486.69,293.06 487.20,292.99 487.71,293.03 488.22,292.93 488.73,293.12 489.24,293.36 489.75,293.48 490.26,293.44 490.77,293.36 491.28,293.29 491.79,293.35 492.30,293.41" fill="none" stroke="#2447f0" stroke-width="1.5" stroke-linejoin="round"/>
<polyline points="288.30,313.72 288.81,313.68 289.32,313.61 289.83,313.54 290.34,313.55 290.85,313.57 291.36,313.63 291.87,313.68 292.38,313.54 292.89,313.57 293.40,313.78 293.91,313.86 294.42,313.83 294.93,313.66 295.44,313.64 295.95,313.80 296.46,313.70 296.97,313.73 297.48,313.74 297.99,313.90 298.50,313.92 299.01,313.77 299.52,313.77 300.03,313.60 300.54,313.69 301.05,313.68 301.56,313.93 302.07,313.89 302.58,313.73 303.09,313.71 303.60,313.73 304.11,313.80 304.62,313.88 305.13,313.80 305.64,313.79 306.15,313.58 306.66,313.55 307.17,313.53 307.68,313.59 308.19,313.75 308.70,313.80 309.21,313.93 309.72,313.88 310.23,313.93 310.74,313.82 311.25,313.78 311.76,313.81 312.27,313.83 312.78,313.88 313.29,314.00 313.80,314.05 314.31,314.23 314.82,314.03 315.33,314.09 315.84,313.98 316.35,314.02 316.86,313.90 317.37,313.68 317.88,313.73 318.39,313.55 318.64,313.54" fill="none" stroke="#f0341f" stroke-width="1.5" stroke-linejoin="round"/>
<polyline points="288.30,313.67 288.81,313.81 289.32,313.97 289.83,314.04 290.34,314.02 290.85,313.88 291.36,313.71 291.87,313.70 292.38,313.91 292.89,313.76 293.40,313.87 293.91,313.64 294.42,313.87 294.93,313.73 295.44,313.82 295.95,313.82 296.46,313.89 296.97,314.04 297.48,314.06 297.99,314.01 298.50,313.87 299.01,313.72 299.52,313.59 300.03,313.77 300.54,313.86 301.05,313.99 301.56,313.62 302.07,313.63 302.58,313.58 303.09,313.70 303.60,313.66 304.11,313.76 304.62,313.84 305.13,313.81 305.64,313.75 306.15,313.83 306.66,313.78 307.17,313.82 307.68,313.66 308.19,313.79 308.70,313.55 309.21,313.56 309.72,313.58 310.23,313.72 310.74,313.74 311.25,313.84 311.76,313.98 312.27,313.94 312.78,313.97 313.29,313.76 313.80,313.73 314.31,313.50 314.82,313.54 315.33,313.66 315.84,313.77 316.35,313.85 316.86,313.71 317.37,313.64 317.88,313.77 318.39,313.93 318.64,313.87" fill="none" stroke="#1f9392" stroke-width="1.5" stroke-linejoin="round" stroke-dasharray="3,2"/>
<line x1="290.7" y1="353.3" x2="300.4" y2="353.3" stroke="#f0341f" stroke-width="1.5"/>
<text x="304.10" y="356.04" font-size="7.6" font-weight="bold" text-anchor="start" style="stroke-width:0.3px">5<tspan font-weight="normal" style="stroke-width:0.1px">µ</tspan>M</text>
<line x1="321.5" y1="353.3" x2="332.1" y2="353.3" stroke="#1f9392" stroke-width="1.5"/>
<text x="335.90" y="356.04" font-size="7.6" font-weight="bold" text-anchor="start" style="stroke-width:0.3px">10<tspan font-weight="normal" style="stroke-width:0.1px">µ</tspan>M</text>
<line x1="359.4" y1="353.3" x2="368.4" y2="353.3" stroke="#24a2f2" stroke-width="1.5"/>
<text x="372.80" y="356.04" font-size="7.6" font-weight="bold" text-anchor="start" style="stroke-width:0.3px">20<tspan font-weight="normal" style="stroke-width:0.1px">µ</tspan>M</text>
<line x1="397.2" y1="353.3" x2="406.6" y2="353.3" stroke="#ff9022" stroke-width="1.5"/>
<text x="410.80" y="356.04" font-size="7.6" font-weight="bold" text-anchor="start" style="stroke-width:0.3px">25<tspan font-weight="normal" style="stroke-width:0.1px">µ</tspan>M</text>
<line x1="439.0" y1="353.3" x2="447.6" y2="353.3" stroke="#25e39a" stroke-width="1.5"/>
<text x="451.00" y="356.04" font-size="7.6" font-weight="bold" text-anchor="start" style="stroke-width:0.3px">30<tspan font-weight="normal" style="stroke-width:0.1px">µ</tspan>M</text>
<line x1="476.8" y1="353.3" x2="484.1" y2="353.3" stroke="#2447f0" stroke-width="1.5"/>
<text x="488.10" y="356.04" font-size="7.6" font-weight="bold" text-anchor="start" style="stroke-width:0.3px">40<tspan font-weight="normal" style="stroke-width:0.1px">µ</tspan>M</text>
<line x1="34.40" y1="406.00" x2="34.40" y2="502.65" stroke="#2e2e2e" stroke-width="1.3"/>
<line x1="33.85" y1="502.10" x2="242.72" y2="502.10" stroke="#2e2e2e" stroke-width="1.3"/>
<line x1="31.80" y1="502.12" x2="34.40" y2="502.12" stroke="#2e2e2e" stroke-width="1.3"/>
<text x="30.90" y="504.43" font-size="6.4" font-weight="bold" text-anchor="end" >-5</text>
<line x1="31.80" y1="491.50" x2="34.40" y2="491.50" stroke="#2e2e2e" stroke-width="1.3"/>
<text x="30.90" y="493.80" font-size="6.4" font-weight="bold" text-anchor="end" >0</text>
<line x1="31.80" y1="480.88" x2="34.40" y2="480.88" stroke="#2e2e2e" stroke-width="1.3"/>
<text x="30.90" y="483.18" font-size="6.4" font-weight="bold" text-anchor="end" >5</text>
<line x1="31.80" y1="470.25" x2="34.40" y2="470.25" stroke="#2e2e2e" stroke-width="1.3"/>
<text x="30.90" y="472.55" font-size="6.4" font-weight="bold" text-anchor="end" >10</text>
<line x1="31.80" y1="459.62" x2="34.40" y2="459.62" stroke="#2e2e2e" stroke-width="1.3"/>
<text x="30.90" y="461.93" font-size="6.4" font-weight="bold" text-anchor="end" >15</text>
<line x1="31.80" y1="449.00" x2="34.40" y2="449.00" stroke="#2e2e2e" stroke-width="1.3"/>
<text x="30.90" y="451.30" font-size="6.4" font-weight="bold" text-anchor="end" >20</text>
<line x1="31.80" y1="438.38" x2="34.40" y2="438.38" stroke="#2e2e2e" stroke-width="1.3"/>
<text x="30.90" y="440.68" font-size="6.4" font-weight="bold" text-anchor="end" >25</text>
<line x1="31.80" y1="427.75" x2="34.40" y2="427.75" stroke="#2e2e2e" stroke-width="1.3"/>
<text x="30.90" y="430.05" font-size="6.4" font-weight="bold" text-anchor="end" >30</text>
<line x1="31.80" y1="417.12" x2="34.40" y2="417.12" stroke="#2e2e2e" stroke-width="1.3"/>
<text x="30.90" y="419.43" font-size="6.4" font-weight="bold" text-anchor="end" >35</text>
<line x1="31.80" y1="406.50" x2="34.40" y2="406.50" stroke="#2e2e2e" stroke-width="1.3"/>
<text x="30.90" y="408.80" font-size="6.4" font-weight="bold" text-anchor="end" >40</text>
<line x1="39.70" y1="502.10" x2="39.70" y2="504.70" stroke="#2e2e2e" stroke-width="1.3"/>
<text x="39.70" y="512.30" font-size="6.4" font-weight="bold" text-anchor="middle" >0</text>
<line x1="65.02" y1="502.10" x2="65.02" y2="504.70" stroke="#2e2e2e" stroke-width="1.3"/>
<text x="65.02" y="512.30" font-size="6.4" font-weight="bold" text-anchor="middle" >50</text>
<line x1="90.33" y1="502.10" x2="90.33" y2="504.70" stroke="#2e2e2e" stroke-width="1.3"/>
<text x="90.33" y="512.30" font-size="6.4" font-weight="bold" text-anchor="middle" >100</text>
<line x1="115.64" y1="502.10" x2="115.64" y2="504.70" stroke="#2e2e2e" stroke-width="1.3"/>
<text x="115.64" y="512.30" font-size="6.4" font-weight="bold" text-anchor="middle" >150</text>
<line x1="140.96" y1="502.10" x2="140.96" y2="504.70" stroke="#2e2e2e" stroke-width="1.3"/>
<text x="140.96" y="512.30" font-size="6.4" font-weight="bold" text-anchor="middle" >200</text>
<line x1="166.27" y1="502.10" x2="166.27" y2="504.70" stroke="#2e2e2e" stroke-width="1.3"/>
<text x="166.27" y="512.30" font-size="6.4" font-weight="bold" text-anchor="middle" >250</text>
<line x1="191.59" y1="502.10" x2="191.59" y2="504.70" stroke="#2e2e2e" stroke-width="1.3"/>
<text x="191.59" y="512.30" font-size="6.4" font-weight="bold" text-anchor="middle" >300</text>
<line x1="216.90" y1="502.10" x2="216.90" y2="504.70" stroke="#2e2e2e" stroke-width="1.3"/>
<text x="216.90" y="512.30" font-size="6.4" font-weight="bold" text-anchor="middle" >350</text>
<line x1="242.22" y1="502.10" x2="242.22" y2="504.70" stroke="#2e2e2e" stroke-width="1.3"/>
<text x="242.22" y="512.30" font-size="6.4" font-weight="bold" text-anchor="middle" >400</text>
<text x="0" y="0" font-size="7.2" font-weight="bold" text-anchor="middle" transform="translate(13.38,452.00) rotate(-90)" dy="2.59" textLength="73.5" lengthAdjust="spacingAndGlyphs">Response Unit (RU)</text>
<text x="124.90" y="526.20" font-size="7.7" font-weight="bold" text-anchor="start" textLength="28.3" lengthAdjust="spacingAndGlyphs">Time (s)</text>
<text x="10.10" y="526.40" font-size="9.3" font-weight="bold" text-anchor="start" >E</text>
<text x="38.80" y="414.80" font-size="6.9" font-weight="normal" text-anchor="start" style="stroke-width:0.5px">pm59<tspan font-size="5.2" dx="2.2" dy="1.6" style="stroke-width:0.4px">ln</tspan></text>
<polyline points="34.64,491.60 35.40,491.61 36.16,491.51 36.92,491.49 37.42,491.57 37.67,490.06 38.08,486.95 38.43,489.08 39.19,497.51 39.29,497.74 39.95,498.08 40.11,498.24 40.71,494.81 41.47,486.30 42.18,481.64 42.23,481.66 42.99,483.68 43.40,484.46 43.75,484.40 44.16,484.13 44.51,483.96 44.91,483.79 45.27,483.70 45.67,483.61 46.03,483.46 46.43,483.37 46.79,483.36 47.19,483.16 47.55,482.93 47.95,482.69 48.31,482.65 48.71,482.47 49.07,482.38 49.47,482.35 49.83,482.30 50.23,482.17 50.59,481.93 50.99,481.80 51.34,481.80 51.75,481.89 52.10,482.06 52.51,481.87 52.86,481.92 53.27,481.58 53.62,481.76 54.03,481.50 54.38,481.54 54.79,481.17 55.14,481.06 55.55,481.14 55.90,481.17 56.31,481.34 56.66,481.19 57.07,481.26 57.42,481.09 57.83,481.12 58.18,480.88 58.58,480.79 58.94,480.73 59.34,480.92 59.70,480.82 60.10,480.58 60.46,480.45 60.86,480.48 61.22,480.55 61.62,480.43 61.98,480.31 62.38,480.14 62.74,480.12 63.14,480.14 63.50,480.34 63.90,480.22 64.26,480.29 64.66,480.05 65.02,480.31 65.42,480.24 65.77,480.32 66.18,480.14 66.53,480.11 66.94,480.14 67.29,480.15 67.70,479.97 68.05,479.93 68.46,479.91 68.81,480.08 69.22,479.91 69.57,479.83 69.98,479.84 70.33,479.89 70.74,479.83 71.09,479.74 71.50,479.60 71.85,479.67 72.26,479.54 72.61,479.69 73.01,479.60 73.37,479.76 73.77,479.83 74.13,479.82 74.53,479.76 74.89,479.76 75.29,479.75 75.65,479.71 76.05,479.58 76.41,479.80 76.81,479.87 77.17,479.96 77.57,479.71 77.93,479.55 78.33,479.54 78.69,479.81 79.09,479.92 79.44,479.79 79.85,479.72 80.20,479.73 80.61,479.86 80.96,479.70 81.37,479.69 81.72,479.76 82.13,479.69 82.48,479.60 82.89,479.29 83.24,479.37 83.65,479.42 84.00,479.67 84.41,479.52 84.76,479.31 85.17,479.45 85.52,479.73 85.93,480.08 86.28,479.97 86.68,479.82 87.04,479.75 87.44,479.61 87.80,479.69 88.20,479.55 88.56,479.48 88.96,479.40 89.32,479.52 89.72,479.57 90.08,479.65 90.48,479.63 90.84,479.62 91.24,479.57 91.60,479.60 92.00,479.57 92.36,479.58 92.76,479.48 93.11,479.69 93.52,479.62 93.87,479.75 94.28,479.75 94.63,479.83 95.04,479.66 95.39,479.59 95.80,479.46 96.15,479.61 96.56,479.69 96.81,479.96 96.91,480.03 97.67,480.34 98.43,480.76 98.58,480.63 99.19,479.35 99.95,475.31 100.71,472.60 100.91,472.37 101.47,475.02 102.23,482.39 102.99,487.57 103.09,487.59 103.75,487.48 104.51,487.66 105.27,487.66 106.03,487.95 106.78,487.84 107.54,488.06 108.30,488.11 109.06,488.24 109.82,488.15 110.58,488.07 111.34,487.99 112.10,487.87 112.20,487.92 112.86,487.74 113.62,487.30 114.38,486.70 115.14,486.44 115.39,486.56 115.90,486.70 116.66,487.17 117.42,487.68 118.18,488.40 118.94,489.03 119.70,489.87 120.00,490.02 120.45,490.11 120.76,489.71 121.21,489.73 121.52,489.77 121.97,489.84 122.28,489.74 122.73,489.78 123.04,489.73 123.49,489.80 123.80,489.63 124.25,489.81 124.56,489.95 125.01,490.16 125.32,490.19 125.77,490.09 126.07,490.00 126.53,489.86 126.83,489.80 127.29,489.94 127.59,490.07 128.05,490.16 128.35,490.07 128.81,490.36 129.11,490.32 129.57,490.24 129.87,490.09 130.33,490.20 130.63,490.34 131.09,490.35 131.39,490.20 131.85,490.13 132.15,490.05 132.61,490.27 132.91,490.30 133.37,490.16 133.67,490.07 134.12,490.27 134.43,490.43 134.88,490.45 135.19,490.41 135.64,490.38 135.95,490.33 136.40,490.12 136.71,490.12 137.16,489.88 137.47,489.90 137.92,489.98 138.23,490.30 138.68,490.41 138.99,490.50 139.44,490.38 139.74,490.38 140.20,490.12 140.50,490.20 140.96,490.29 141.26,490.47 141.72,490.53 142.02,490.43 142.48,490.35 142.78,490.26 143.24,490.38 143.54,490.41 144.00,490.54 144.30,490.45 144.76,490.51 145.06,490.39 145.52,490.34 145.82,490.40 146.28,490.50 146.58,490.61 147.04,490.67 147.34,490.63 147.80,490.53 148.10,490.36 148.55,490.37 148.86,490.43 149.31,490.50 149.62,490.57 150.07,490.53 150.38,490.60 150.83,490.67 151.14,490.70 151.59,490.65 151.90,490.47 152.35,490.61 152.66,490.58 153.11,490.54 153.41,490.50 153.87,490.53 154.17,490.71 154.63,490.75 154.93,490.80 155.39,490.72 155.69,490.68 156.15,490.70 156.45,490.63 156.91,490.53 157.21,490.54 157.67,490.71 157.97,490.76 158.43,490.70 158.73,490.77 159.19,490.98 159.49,490.98 159.95,491.09 160.25,490.92 160.71,490.98 161.01,490.89 161.47,490.89 161.77,490.85 162.22,490.80 162.53,490.77 162.98,490.74 163.29,490.58 163.74,490.57 164.05,490.70 164.50,490.97 164.81,491.16 165.26,491.08 165.57,490.93 166.02,490.81 166.33,490.80 166.78,490.85 167.09,490.90 167.54,490.93 167.84,490.99 168.30,490.95 168.60,490.98 169.06,490.89 169.36,490.89 169.82,490.88 170.12,490.90 170.58,491.05 170.88,491.18 171.34,491.08 171.64,491.04 172.10,491.07 172.40,491.27 172.86,491.13 173.16,490.95 173.62,490.87 173.92,490.96 174.38,491.05 174.68,491.05 175.14,490.83 175.44,490.85 175.89,490.70 176.20,490.84 176.65,490.65 176.96,490.79 177.41,490.85 177.72,490.79 178.17,490.95 178.48,491.04 178.93,491.18 179.24,491.10 179.69,491.02 180.00,491.19 180.45,491.15 180.76,491.20 181.21,491.13 181.51,491.25 181.97,491.44 182.27,491.51 182.73,491.52 183.03,491.32 183.49,491.10 183.79,490.95 184.25,490.90 184.55,491.07 185.01,491.15 185.31,491.09 185.77,491.04 186.07,491.00 186.53,491.11 186.83,491.03 187.03,491.15" fill="none" stroke="#2450f0" stroke-width="1.5" stroke-linejoin="round"/>
<polyline points="34.64,491.29 35.40,491.28 36.16,491.27 36.92,491.16 37.42,491.02 37.67,490.19 38.08,488.78 38.43,490.67 39.19,497.34 39.29,497.51 39.95,497.46 40.11,497.54 40.71,486.87 41.47,464.95 41.78,461.97 42.23,463.18 42.99,466.28 43.75,465.76 44.51,465.41 45.27,464.96 46.03,464.99 46.79,464.76 47.55,464.47 48.31,464.13 49.07,464.06 49.83,463.77 50.59,463.44 51.34,463.30 52.10,463.38 52.86,463.39 53.62,463.09 54.38,462.97 55.14,462.83 55.90,462.68 56.66,462.49 57.42,462.39 58.18,462.27 58.94,462.24 59.70,462.16 60.46,462.10 61.22,462.14 61.98,462.07 62.74,461.94 63.50,461.62 64.26,461.57 65.02,461.78 65.77,461.79 66.53,461.74 67.29,461.57 68.05,461.58 68.81,461.54 69.57,461.21 70.33,461.09 71.09,460.89 71.85,461.15 72.61,461.15 73.37,461.12 74.13,460.94 74.89,460.63 75.65,460.72 76.41,460.75 77.17,460.87 77.93,460.74 78.69,460.63 79.44,460.57 80.20,460.43 80.96,460.41 81.72,460.34 82.48,460.45 83.24,460.44 84.00,460.45 84.76,460.05 85.52,459.95 86.28,459.93 87.04,460.05 87.80,460.10 88.56,459.93 89.32,459.91 90.08,459.84 90.84,459.75 91.60,459.77 92.36,459.68 93.11,459.82 93.87,459.73 94.63,459.58 95.39,459.53 96.15,459.67 96.81,459.72 96.91,459.91 97.67,463.07 98.03,464.00 98.43,462.80 99.19,457.09 99.95,451.57 100.30,450.77 100.71,455.11 101.47,474.40 102.18,485.23 102.23,485.01 102.99,483.23 103.70,481.83 103.75,481.96 104.51,482.02 105.27,482.33 106.03,482.68 106.78,482.81 107.54,483.03 108.30,483.31 109.06,483.87 109.82,484.21 110.58,484.56 111.34,484.77 112.10,484.91 112.20,484.97 112.86,484.76 113.62,484.28 114.38,483.75 115.14,483.41 115.39,483.33 115.90,483.54 116.66,484.15 117.42,485.37 118.18,486.49 118.94,487.52 119.59,487.91 119.70,488.04 120.35,488.16 120.45,487.97 121.11,487.93 121.21,488.00 121.87,488.12 121.97,488.05 122.63,488.00 122.73,488.05 123.39,487.94 123.49,487.73 124.15,487.65 124.25,487.64 124.91,487.84 125.01,487.88 125.67,488.06 125.77,488.06 126.43,488.12 126.53,488.18 127.19,488.27 127.29,488.27 127.95,488.12 128.05,488.22 128.71,488.20 128.81,488.26 129.47,488.03 129.57,488.20 130.23,488.35 130.33,488.42 130.99,488.29 131.09,487.95 131.75,488.04 131.85,488.01 132.50,488.25 132.61,488.14 133.26,488.27 133.37,488.35 134.02,488.25 134.12,488.22 134.78,488.29 134.88,488.53 135.54,488.58 135.64,488.46 136.30,488.46 136.40,488.37 137.06,488.41 137.16,488.46 137.82,488.55 137.92,488.50 138.58,488.53 138.68,488.54 139.34,488.68 139.44,488.60 140.10,488.61 140.20,488.60 140.86,488.48 140.96,488.39 141.62,488.35 141.72,488.58 142.38,488.71 142.48,488.76 143.14,488.66 143.24,488.49 143.90,488.40 144.00,488.41 144.66,488.63 144.76,488.68 145.42,488.71 145.52,488.82 146.17,488.93 146.28,488.91 146.93,488.76 147.04,488.55 147.69,488.71 147.80,488.84 148.45,488.94 148.55,488.86 149.21,488.82 149.31,488.95 149.97,489.15 150.07,489.33 150.73,489.38 150.83,489.23 151.49,489.00 151.59,488.99 152.25,488.97 152.35,489.06 153.01,489.13 153.11,489.24 153.77,489.31 153.87,489.09 154.53,489.11 154.63,489.01 155.29,488.93 155.39,488.68 156.05,488.81 156.15,488.90 156.81,489.09 156.91,489.20 157.57,489.43 157.67,489.52 158.33,489.38 158.43,489.32 159.09,489.22 159.19,489.37 159.84,489.45 159.95,489.42 160.60,489.27 160.71,489.07 161.36,489.21 161.47,489.27 162.12,489.53 162.22,489.61 162.88,489.80 162.98,489.59 163.64,489.59 163.74,489.29 164.40,489.70 164.50,489.58 165.16,489.69 165.26,489.36 165.92,489.51 166.02,489.56 166.68,489.63 166.78,489.56 167.44,489.42 167.54,489.57 168.20,489.59 168.30,489.67 168.96,489.50 169.06,489.29 169.72,489.26 169.82,489.31 170.48,489.45 170.58,489.66 171.24,489.74 171.34,489.88 172.00,489.79 172.10,489.61 172.76,489.66 172.86,489.71 173.52,489.93 173.62,489.92 174.27,489.88 174.38,489.79 175.03,489.68 175.14,489.69 175.79,490.04 175.89,490.30 176.55,490.43 176.65,490.28 177.31,490.21 177.41,490.12 178.07,490.16 178.17,490.11 178.83,490.21 178.93,490.15 179.59,490.08 179.69,490.13 180.35,490.15 180.45,490.16 181.11,490.08 181.21,490.06 181.87,490.12 181.97,490.23 182.63,490.25 182.73,490.31 183.39,490.26 183.49,490.39 184.15,490.34 184.25,490.20 184.91,490.02 185.01,490.16 185.67,490.51 185.77,490.58 186.43,490.47 186.53,490.11 187.03,490.11" fill="none" stroke="#f0341f" stroke-width="1.5" stroke-linejoin="round"/>
<line x1="100.9" y1="536.0" x2="110.2" y2="536.0" stroke="#2450f0" stroke-width="1.5"/>
<text x="113.80" y="538.43" font-size="6.75" font-weight="bold" text-anchor="start" style="stroke-width:0.3px">10<tspan font-weight="normal" style="stroke-width:0.1px">µ</tspan>M</text>
<line x1="143.5" y1="536.0" x2="152.6" y2="536.0" stroke="#f0341f" stroke-width="1.5"/>
<text x="155.80" y="538.43" font-size="6.75" font-weight="bold" text-anchor="start" style="stroke-width:0.3px">50<tspan font-weight="normal" style="stroke-width:0.1px">µ</tspan>M</text>
<line x1="292.90" y1="402.00" x2="292.90" y2="505.25" stroke="#2e2e2e" stroke-width="1.3"/>
<line x1="292.35" y1="504.70" x2="508.85" y2="504.70" stroke="#2e2e2e" stroke-width="1.3"/>
<line x1="290.30" y1="504.35" x2="292.90" y2="504.35" stroke="#2e2e2e" stroke-width="1.3"/>
<text x="289.40" y="506.87" font-size="7.0" font-weight="bold" text-anchor="end" >-0.1</text>
<line x1="290.30" y1="489.80" x2="292.90" y2="489.80" stroke="#2e2e2e" stroke-width="1.3"/>
<text x="289.40" y="492.32" font-size="7.0" font-weight="bold" text-anchor="end" >0.0</text>
<line x1="290.30" y1="475.25" x2="292.90" y2="475.25" stroke="#2e2e2e" stroke-width="1.3"/>
<text x="289.40" y="477.77" font-size="7.0" font-weight="bold" text-anchor="end" >0.1</text>
<line x1="290.30" y1="460.70" x2="292.90" y2="460.70" stroke="#2e2e2e" stroke-width="1.3"/>
<text x="289.40" y="463.22" font-size="7.0" font-weight="bold" text-anchor="end" >0.2</text>
<line x1="290.30" y1="446.15" x2="292.90" y2="446.15" stroke="#2e2e2e" stroke-width="1.3"/>
<text x="289.40" y="448.67" font-size="7.0" font-weight="bold" text-anchor="end" >0.3</text>
<line x1="290.30" y1="431.60" x2="292.90" y2="431.60" stroke="#2e2e2e" stroke-width="1.3"/>
<text x="289.40" y="434.12" font-size="7.0" font-weight="bold" text-anchor="end" >0.4</text>
<line x1="290.30" y1="417.05" x2="292.90" y2="417.05" stroke="#2e2e2e" stroke-width="1.3"/>
<text x="289.40" y="419.57" font-size="7.0" font-weight="bold" text-anchor="end" >0.5</text>
<line x1="290.30" y1="402.50" x2="292.90" y2="402.50" stroke="#2e2e2e" stroke-width="1.3"/>
<text x="289.40" y="405.02" font-size="7.0" font-weight="bold" text-anchor="end" >0.6</text>
<line x1="292.80" y1="504.70" x2="292.80" y2="507.30" stroke="#2e2e2e" stroke-width="1.3"/>
<text x="292.80" y="515.10" font-size="7.0" font-weight="bold" text-anchor="middle" >0</text>
<line x1="316.75" y1="504.70" x2="316.75" y2="507.30" stroke="#2e2e2e" stroke-width="1.3"/>
<text x="316.75" y="515.10" font-size="7.0" font-weight="bold" text-anchor="middle" >50</text>
<line x1="340.70" y1="504.70" x2="340.70" y2="507.30" stroke="#2e2e2e" stroke-width="1.3"/>
<text x="340.70" y="515.10" font-size="7.0" font-weight="bold" text-anchor="middle" >100</text>
<line x1="364.65" y1="504.70" x2="364.65" y2="507.30" stroke="#2e2e2e" stroke-width="1.3"/>
<text x="364.65" y="515.10" font-size="7.0" font-weight="bold" text-anchor="middle" >150</text>
<line x1="388.60" y1="504.70" x2="388.60" y2="507.30" stroke="#2e2e2e" stroke-width="1.3"/>
<text x="388.60" y="515.10" font-size="7.0" font-weight="bold" text-anchor="middle" >200</text>
<line x1="412.55" y1="504.70" x2="412.55" y2="507.30" stroke="#2e2e2e" stroke-width="1.3"/>
<text x="412.55" y="515.10" font-size="7.0" font-weight="bold" text-anchor="middle" >250</text>
<line x1="436.50" y1="504.70" x2="436.50" y2="507.30" stroke="#2e2e2e" stroke-width="1.3"/>
<text x="436.50" y="515.10" font-size="7.0" font-weight="bold" text-anchor="middle" >300</text>
<line x1="460.45" y1="504.70" x2="460.45" y2="507.30" stroke="#2e2e2e" stroke-width="1.3"/>
<text x="460.45" y="515.10" font-size="7.0" font-weight="bold" text-anchor="middle" >350</text>
<line x1="484.40" y1="504.70" x2="484.40" y2="507.30" stroke="#2e2e2e" stroke-width="1.3"/>
<text x="484.40" y="515.10" font-size="7.0" font-weight="bold" text-anchor="middle" >400</text>
<line x1="508.35" y1="504.70" x2="508.35" y2="507.30" stroke="#2e2e2e" stroke-width="1.3"/>
<text x="508.35" y="515.10" font-size="7.0" font-weight="bold" text-anchor="middle" >450</text>
<text x="0" y="0" font-size="8.4" font-weight="bold" text-anchor="middle" transform="translate(270.36,451.10) rotate(-90)" dy="3.02" textLength="55.0" lengthAdjust="spacingAndGlyphs">binding (nm)</text>
<text x="384.70" y="531.30" font-size="8.9" font-weight="bold" text-anchor="start" textLength="33.4" lengthAdjust="spacingAndGlyphs">Time (s)</text>
<text x="265.80" y="531.40" font-size="9.1" font-weight="bold" text-anchor="start" >F</text>
<text x="297.50" y="412.60" font-size="7.4" font-weight="normal" text-anchor="start" style="stroke-width:0.5px">pm59<tspan font-size="5.2" dx="2.2" dy="1.6" style="stroke-width:0.4px">ln</tspan></text>
<polyline points="292.80,489.88 293.28,489.93 293.76,490.02 294.24,489.97 294.72,489.90 295.19,490.01 295.67,490.23 296.15,490.28 296.63,490.36 297.11,490.55 297.59,490.46 298.07,490.41 298.55,490.13 299.03,490.16 299.51,490.32 299.99,490.32 300.46,490.50 300.94,490.35 301.42,490.42 301.90,490.33 302.38,490.42 302.86,490.61 303.34,490.81 303.82,490.90 304.30,490.69 304.78,490.61 305.25,490.65 305.73,490.81 306.21,490.84 306.69,490.81 307.17,490.64 307.65,490.69 308.13,490.62 308.61,490.82 309.09,490.79 309.56,491.00 310.04,490.82 310.52,490.82 311.00,490.51 311.48,490.82 311.96,490.68 312.44,490.96 312.92,491.00 313.40,491.16 313.88,491.23 314.36,491.24 314.83,491.14 315.31,490.97 315.79,490.71 316.27,490.74 316.75,490.83 317.23,490.88 317.71,491.14 318.19,491.13 318.67,491.23 319.14,491.21 319.62,491.33 320.10,491.28 320.58,491.19 321.06,490.95 321.20,490.99 321.54,491.16 322.02,491.32 322.50,491.17 322.98,490.81 323.46,490.39 323.94,489.96 324.41,489.28 324.89,488.84 325.37,488.36 325.85,487.99 326.33,487.55 326.81,487.37 327.29,487.24 327.77,487.10 328.25,487.09 328.73,487.21 329.20,487.10 329.68,486.91 330.16,486.74 330.64,487.04 331.12,486.87 331.60,486.98 332.08,486.68 332.56,486.75 333.04,486.39 333.51,486.54 333.99,486.56 334.47,486.65 334.95,486.46 335.43,486.41 335.91,486.45 336.39,486.58 336.87,486.56 337.35,486.74 337.83,486.50 338.31,486.62 338.78,486.47 339.26,486.59 339.74,486.65 340.22,486.76 340.70,486.71 341.18,486.43 341.66,486.26 342.14,486.18 342.62,486.41 343.10,486.51 343.57,486.77 344.05,486.73 344.53,486.49 345.01,486.28 345.49,486.25 345.97,486.27 346.45,486.14 346.93,486.06 347.41,485.94 347.88,486.11 348.36,486.20 348.84,486.50 349.32,486.64 349.80,486.63 350.28,486.61 350.76,486.48 351.24,486.56 351.72,486.65 352.20,486.69 352.68,486.68 353.15,486.67 353.63,486.80 354.11,486.77 354.59,486.65 355.07,486.52 355.55,486.60 356.03,486.52 356.51,486.58 356.99,486.51 357.47,486.65 357.94,486.66 358.42,486.80 358.90,486.76 359.38,486.89 359.86,486.74 360.34,486.71 360.82,486.58 361.30,486.53 361.78,486.76 362.25,486.58 362.73,486.60 363.21,486.27 363.69,486.43 364.17,486.49 364.65,486.93 365.13,486.81 365.61,486.83 366.09,486.33 366.57,486.35 367.05,486.33 367.52,486.36 368.00,486.28 368.48,486.19 368.96,486.38 369.44,486.57 369.92,486.55 370.40,486.39 370.88,486.23 371.36,486.06 371.84,486.32 372.31,486.42 372.79,486.54 373.27,486.37 373.75,486.49 374.23,486.54 374.71,486.43 375.19,486.46 375.67,486.44 376.15,486.68 376.62,486.45 377.10,486.33 377.58,486.15 378.06,486.16 378.54,486.15 379.02,486.14 379.50,486.29 379.98,486.51 380.46,486.35 380.94,486.12 381.42,485.87 381.89,486.11 382.37,486.15 382.85,486.32 383.33,486.40 383.81,486.58 384.29,486.72 384.77,486.57 385.25,486.65 385.73,486.57 386.21,486.71 386.68,486.51 387.16,486.53 387.64,486.39 388.12,486.47 388.60,486.46 389.08,486.44 389.56,486.35 390.04,486.50 390.52,486.72 391.00,486.68 391.47,486.54 391.95,486.36 392.43,486.47 392.91,486.36 393.39,486.42 393.87,486.33 394.35,486.26 394.83,486.20 395.31,486.33 395.79,486.58 396.26,486.73 396.74,486.77 397.22,486.64 397.70,486.45 398.18,486.40 398.66,486.38 399.14,486.58 399.62,486.82 400.10,486.88 400.57,486.77 401.05,486.67 401.53,486.56 402.01,486.58 402.49,486.52 402.97,486.54 403.45,486.76 403.93,486.63 404.41,486.81 404.89,486.64 405.37,486.76 405.84,486.50 406.32,486.38 406.80,486.32 407.28,486.57 407.76,486.85 408.24,486.94 408.72,487.27 409.20,487.63 409.68,488.20 410.15,488.48 410.63,488.83 411.11,489.14 411.59,489.63 412.07,489.70 412.55,489.78 412.89,489.56 413.03,489.68 413.51,489.71 413.99,489.94 414.47,489.82 414.94,489.80 415.42,489.57 415.90,489.59 416.38,489.77 416.86,489.81 417.34,489.91 417.82,489.94 418.30,489.93 418.78,490.04 419.26,489.69 419.74,489.49 420.21,489.34 420.69,489.24 421.17,489.28 421.65,489.41 422.13,489.63 422.61,489.65 423.09,489.67 423.57,489.75 424.05,489.92 424.52,489.94 425.00,490.04 425.48,490.04 425.96,489.82 426.44,489.75 426.92,489.64 427.40,489.52 427.88,489.48 428.36,489.47 428.84,489.66 429.31,489.48 429.79,489.60 430.27,489.81 430.75,490.03 431.23,490.00 431.71,489.92 432.19,489.91 432.67,489.96 433.15,489.81 433.63,489.73 434.11,489.72 434.58,489.79 435.06,489.85 435.54,489.97 436.02,490.17 436.50,490.19 436.98,489.92 437.46,489.63 437.94,489.38 438.42,489.62 438.89,489.78 439.37,489.84 439.85,489.60 440.33,489.60 440.81,489.99 441.29,490.07 441.77,489.99 442.25,489.77 442.73,489.57 443.21,489.56 443.69,489.47 444.16,489.65 444.64,489.77 445.12,489.84 445.60,490.15 446.08,490.19 446.56,490.26 447.04,489.87 447.52,489.85 448.00,489.83 448.48,489.95 448.95,489.76 449.43,489.65 449.91,489.77 450.39,489.75 450.87,489.61 451.35,489.39 451.83,489.49 452.31,489.68 452.79,489.75 453.26,489.67 453.74,489.73 454.22,489.98 454.70,490.05 455.18,490.02 455.66,490.01 456.14,490.03 456.62,490.10 457.10,489.96 457.58,489.88 458.06,489.88 458.53,489.78 459.01,489.80 459.49,489.65 459.97,489.74 460.45,489.87 460.93,489.97 461.41,489.83 461.89,489.80 462.37,489.72 462.85,489.87 463.32,489.79 463.80,489.83 464.28,489.94 464.76,489.89 465.24,489.92 465.72,489.65 466.20,489.73 466.68,489.72 467.16,489.72 467.63,489.91 468.11,489.75 468.59,489.81 469.07,489.59 469.55,489.75 470.03,489.92 470.51,489.81 470.99,489.89 471.47,489.80 471.95,490.06 472.43,489.93 472.90,489.87 473.38,489.66 473.86,489.43 474.34,489.47 474.82,489.57 475.30,489.91 475.78,490.09 476.26,490.11 476.74,490.02 477.22,489.82 477.69,489.75 478.17,489.59 478.65,489.71 479.13,489.82 479.61,489.77 480.09,489.61 480.57,489.48 481.05,489.59 481.53,489.72 482.00,489.82 482.48,489.88 482.96,489.73 483.44,489.79 483.92,489.80 484.40,490.02" fill="none" stroke="#f0341f" stroke-width="1.5" stroke-linejoin="round"/>
<polyline points="292.80,490.09 293.76,490.13 294.72,490.17 295.67,490.21 296.63,490.24 297.59,490.28 298.55,490.32 299.51,490.36 300.46,490.40 301.42,490.44 302.38,490.48 303.34,490.52 304.30,490.56 305.25,490.59 306.21,490.63 307.17,490.67 308.13,490.71 309.09,490.75 310.04,490.79 311.00,490.82 311.96,490.86 312.92,490.90 313.88,490.94 314.83,490.98 315.79,491.01 316.75,491.05 317.71,491.09 318.67,491.14 319.62,491.18 320.58,491.22 321.20,491.25 321.54,491.27 322.50,491.32 323.46,491.37 324.41,491.43 325.37,491.48 326.33,491.54 327.29,491.60 328.25,491.66 329.20,491.72 330.16,491.79 331.12,491.85 332.08,491.92 333.04,491.98 333.99,492.05 334.95,492.11 335.91,492.17 336.87,492.24 337.83,492.30 338.78,492.36 339.74,492.43 340.70,492.49 341.66,492.54 341.99,492.56 342.62,492.60 343.57,492.66 344.53,492.71 345.49,492.77 346.45,492.82 347.41,492.88 348.36,492.93 349.32,492.99 350.28,493.04 351.24,493.09 352.20,493.14 353.15,493.20 354.11,493.25 355.07,493.30 356.03,493.35 356.99,493.41 357.94,493.46 358.90,493.51 359.86,493.56 360.82,493.61 361.78,493.67 362.73,493.72 363.69,493.77 364.65,493.82 365.61,493.88 366.57,493.93 367.52,493.98 368.48,494.04 369.44,494.09 370.40,494.14 371.36,494.20 372.31,494.25 373.27,494.31 374.23,494.37 375.19,494.42 376.15,494.48 377.10,494.54 378.06,494.60 379.02,494.66 379.98,494.72 380.94,494.78 381.89,494.84 382.85,494.90 383.81,494.96 384.77,495.01 385.73,495.07 386.68,495.13 387.64,495.19 388.60,495.25 389.56,495.30 390.04,495.33 390.52,495.36 391.47,495.42 392.43,495.48 393.39,495.55 394.35,495.61 395.31,495.68 396.26,495.75 397.22,495.82 398.18,495.89 399.14,495.96 400.10,496.02 401.05,496.08 402.01,496.14 402.97,496.19 403.93,496.23 404.89,496.27 405.84,496.30 406.80,496.33 407.76,496.34 408.72,496.35 409.68,496.33 410.63,496.30 411.59,496.24 412.55,496.16 413.51,496.06 414.47,495.95 415.42,495.82 416.38,495.68 417.34,495.53 418.30,495.38 419.26,495.21 420.21,495.05 421.17,494.88 422.13,494.71 423.09,494.54 424.05,494.37 425.00,494.21 425.96,494.06 426.92,493.92 427.88,493.79 428.84,493.68 429.79,493.58 430.75,493.49 431.61,493.44 431.71,493.43 432.67,493.38 433.63,493.33 434.58,493.28 435.54,493.23 436.50,493.19 437.46,493.15 438.42,493.10 439.37,493.07 440.33,493.03 441.29,492.99 442.25,492.96 443.21,492.92 444.16,492.89 445.12,492.86 446.08,492.83 447.04,492.80 448.00,492.77 448.95,492.74 449.91,492.71 450.87,492.68 451.83,492.66 452.79,492.63 453.74,492.60 454.70,492.58 455.66,492.55 456.62,492.53 457.58,492.50 458.53,492.47 459.49,492.45 460.45,492.42 461.41,492.39 462.37,492.36 463.32,492.34 464.28,492.31 465.24,492.29 466.20,492.26 467.16,492.23 468.11,492.21 469.07,492.18 470.03,492.16 470.99,492.14 471.95,492.11 472.90,492.09 473.86,492.07 474.82,492.04 475.78,492.02 476.74,492.00 477.69,491.98 478.65,491.96 479.61,491.93 480.57,491.91 481.53,491.89 482.48,491.87 483.44,491.86 484.40,491.84" fill="none" stroke="#2450f0" stroke-width="1.5" stroke-linejoin="round" stroke-dasharray="3.6,2.0"/>
<line x1="352.0" y1="541.3" x2="361.7" y2="541.3" stroke="#2450f0" stroke-width="1.5" stroke-dasharray="3.6,2.0"/>
<text x="365.40" y="543.86" font-size="7.1" font-weight="bold" text-anchor="start" style="stroke-width:0.3px">10<tspan font-weight="normal" style="stroke-width:0.1px">µ</tspan>M</text>
<line x1="398.0" y1="541.3" x2="408.6" y2="541.3" stroke="#f0341f" stroke-width="1.5"/>
<text x="412.00" y="543.86" font-size="7.1" font-weight="bold" text-anchor="start" style="stroke-width:0.3px">50<tspan font-weight="normal" style="stroke-width:0.1px">µ</tspan>M</text>
</svg></body></html>
